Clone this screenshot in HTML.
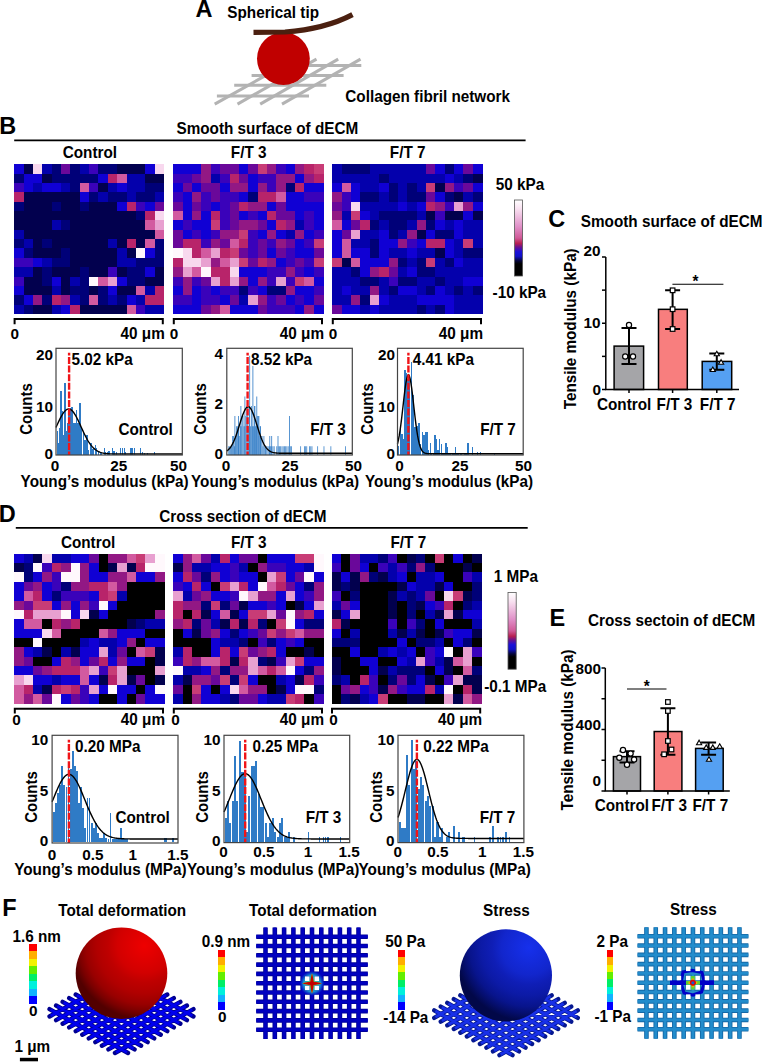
<!DOCTYPE html><html><head><meta charset="utf-8"><style>html,body{margin:0;padding:0;background:#fff;}body{width:762px;height:1062px;overflow:hidden;font-family:"Liberation Sans",sans-serif;}svg{display:block;}</style></head><body><svg width="762" height="1062" viewBox="0 0 762 1062" font-family="'Liberation Sans', sans-serif" font-weight="bold">
<rect width="762" height="1062" fill="#fff"/>
<text transform="translate(195.6,16.5) scale(1.0,1.02)" font-size="23.5" text-anchor="start" >A</text>
<text transform="translate(227.3,17.5) scale(1.02,1.045)" font-size="15" text-anchor="start" >Spherical tip</text>
<g stroke="#b3b3b3" stroke-width="3" stroke-linecap="butt">
<line x1="269" y1="65.6" x2="361.3" y2="65.6"/>
<line x1="251.6" y1="75.6" x2="343.6" y2="75.6"/>
<line x1="234.2" y1="85.3" x2="326.3" y2="85.3"/>
<line x1="216.9" y1="95.9" x2="309" y2="95.9"/>
<line x1="214.7" y1="104.1" x2="294.9" y2="59.1"/>
<line x1="237.5" y1="104.1" x2="316.5" y2="59.1"/>
<line x1="260.2" y1="104.1" x2="338.2" y2="59.1"/>
<line x1="282" y1="104.1" x2="360.5" y2="59.1"/>
</g>
<circle cx="283.4" cy="58.6" r="26.4" fill="#c00000"/>
<path d="M253.5 32.3 L285 32 Q325 29 352.5 14.6" fill="none" stroke="#4b2010" stroke-width="5.2"/>
<text transform="translate(345.3,101.9) scale(1.02,1.045)" font-size="15" text-anchor="start" >Collagen fibril network</text>
<text transform="translate(-0.8,133.7) scale(1.0,1.02)" font-size="23.5" text-anchor="start" >B</text>
<line x1="14.2" y1="140.4" x2="525.6" y2="140.4" stroke="#000" stroke-width="1.6"/>
<text transform="translate(176.5,134) scale(1.02,1.045)" font-size="15" text-anchor="start" >Smooth surface of dECM</text>
<text transform="translate(62.7,157.8) scale(1.02,1.045)" font-size="15" text-anchor="start" >Control</text>
<text transform="translate(230.8,157.8) scale(1.02,1.045)" font-size="15" text-anchor="start" >F/T 3</text>
<text transform="translate(389.8,157.8) scale(1.02,1.045)" font-size="15" text-anchor="start" >F/T 7</text>
<g shape-rendering="crispEdges">
<rect x="14.20" y="164.20" width="9.76" height="9.76" fill="#1000d4"/>
<rect x="23.56" y="164.20" width="9.76" height="9.76" fill="#02004e"/>
<rect x="32.92" y="164.20" width="9.76" height="9.76" fill="#f8d8ee"/>
<rect x="42.29" y="164.20" width="9.76" height="9.76" fill="#0400ac"/>
<rect x="51.65" y="164.20" width="9.76" height="9.76" fill="#000078"/>
<rect x="61.01" y="164.20" width="9.76" height="9.76" fill="#6a089a"/>
<rect x="70.38" y="164.20" width="9.76" height="9.76" fill="#000078"/>
<rect x="79.74" y="164.20" width="9.76" height="9.76" fill="#0400ac"/>
<rect x="89.10" y="164.20" width="9.76" height="9.76" fill="#3a02ba"/>
<rect x="98.46" y="164.20" width="9.76" height="9.76" fill="#000078"/>
<rect x="107.83" y="164.20" width="9.76" height="9.76" fill="#000078"/>
<rect x="117.19" y="164.20" width="9.76" height="9.76" fill="#02004e"/>
<rect x="126.55" y="164.20" width="9.76" height="9.76" fill="#02004e"/>
<rect x="135.91" y="164.20" width="9.76" height="9.76" fill="#02004e"/>
<rect x="145.28" y="164.20" width="9.76" height="9.76" fill="#1000d4"/>
<rect x="154.64" y="164.20" width="9.76" height="9.76" fill="#f8d8ee"/>
<rect x="14.20" y="173.56" width="9.76" height="9.76" fill="#000078"/>
<rect x="23.56" y="173.56" width="9.76" height="9.76" fill="#1000d4"/>
<rect x="32.92" y="173.56" width="9.76" height="9.76" fill="#1000d4"/>
<rect x="42.29" y="173.56" width="9.76" height="9.76" fill="#02004e"/>
<rect x="51.65" y="173.56" width="9.76" height="9.76" fill="#000078"/>
<rect x="61.01" y="173.56" width="9.76" height="9.76" fill="#000078"/>
<rect x="70.38" y="173.56" width="9.76" height="9.76" fill="#000078"/>
<rect x="79.74" y="173.56" width="9.76" height="9.76" fill="#000078"/>
<rect x="89.10" y="173.56" width="9.76" height="9.76" fill="#000078"/>
<rect x="98.46" y="173.56" width="9.76" height="9.76" fill="#1000d4"/>
<rect x="107.83" y="173.56" width="9.76" height="9.76" fill="#b8246a"/>
<rect x="117.19" y="173.56" width="9.76" height="9.76" fill="#d25aa0"/>
<rect x="126.55" y="173.56" width="9.76" height="9.76" fill="#0400ac"/>
<rect x="135.91" y="173.56" width="9.76" height="9.76" fill="#0400ac"/>
<rect x="145.28" y="173.56" width="9.76" height="9.76" fill="#02004e"/>
<rect x="154.64" y="173.56" width="9.76" height="9.76" fill="#02004e"/>
<rect x="14.20" y="182.92" width="9.76" height="9.76" fill="#3a02ba"/>
<rect x="23.56" y="182.92" width="9.76" height="9.76" fill="#1000d4"/>
<rect x="32.92" y="182.92" width="9.76" height="9.76" fill="#0400ac"/>
<rect x="42.29" y="182.92" width="9.76" height="9.76" fill="#1000d4"/>
<rect x="51.65" y="182.92" width="9.76" height="9.76" fill="#1000d4"/>
<rect x="61.01" y="182.92" width="9.76" height="9.76" fill="#0400ac"/>
<rect x="70.38" y="182.92" width="9.76" height="9.76" fill="#000078"/>
<rect x="79.74" y="182.92" width="9.76" height="9.76" fill="#d25aa0"/>
<rect x="89.10" y="182.92" width="9.76" height="9.76" fill="#3a02ba"/>
<rect x="98.46" y="182.92" width="9.76" height="9.76" fill="#02004e"/>
<rect x="107.83" y="182.92" width="9.76" height="9.76" fill="#0400ac"/>
<rect x="117.19" y="182.92" width="9.76" height="9.76" fill="#1000d4"/>
<rect x="126.55" y="182.92" width="9.76" height="9.76" fill="#0400ac"/>
<rect x="135.91" y="182.92" width="9.76" height="9.76" fill="#0400ac"/>
<rect x="145.28" y="182.92" width="9.76" height="9.76" fill="#000078"/>
<rect x="154.64" y="182.92" width="9.76" height="9.76" fill="#000078"/>
<rect x="14.20" y="192.29" width="9.76" height="9.76" fill="#b8246a"/>
<rect x="23.56" y="192.29" width="9.76" height="9.76" fill="#02004e"/>
<rect x="32.92" y="192.29" width="9.76" height="9.76" fill="#02004e"/>
<rect x="42.29" y="192.29" width="9.76" height="9.76" fill="#02004e"/>
<rect x="51.65" y="192.29" width="9.76" height="9.76" fill="#02004e"/>
<rect x="61.01" y="192.29" width="9.76" height="9.76" fill="#02004e"/>
<rect x="70.38" y="192.29" width="9.76" height="9.76" fill="#02004e"/>
<rect x="79.74" y="192.29" width="9.76" height="9.76" fill="#1000d4"/>
<rect x="89.10" y="192.29" width="9.76" height="9.76" fill="#000078"/>
<rect x="98.46" y="192.29" width="9.76" height="9.76" fill="#0400ac"/>
<rect x="107.83" y="192.29" width="9.76" height="9.76" fill="#000078"/>
<rect x="117.19" y="192.29" width="9.76" height="9.76" fill="#000078"/>
<rect x="126.55" y="192.29" width="9.76" height="9.76" fill="#0400ac"/>
<rect x="135.91" y="192.29" width="9.76" height="9.76" fill="#000078"/>
<rect x="145.28" y="192.29" width="9.76" height="9.76" fill="#000078"/>
<rect x="154.64" y="192.29" width="9.76" height="9.76" fill="#0400ac"/>
<rect x="14.20" y="201.65" width="9.76" height="9.76" fill="#000078"/>
<rect x="23.56" y="201.65" width="9.76" height="9.76" fill="#02004e"/>
<rect x="32.92" y="201.65" width="9.76" height="9.76" fill="#02004e"/>
<rect x="42.29" y="201.65" width="9.76" height="9.76" fill="#02004e"/>
<rect x="51.65" y="201.65" width="9.76" height="9.76" fill="#000078"/>
<rect x="61.01" y="201.65" width="9.76" height="9.76" fill="#02004e"/>
<rect x="70.38" y="201.65" width="9.76" height="9.76" fill="#02004e"/>
<rect x="79.74" y="201.65" width="9.76" height="9.76" fill="#000078"/>
<rect x="89.10" y="201.65" width="9.76" height="9.76" fill="#02004e"/>
<rect x="98.46" y="201.65" width="9.76" height="9.76" fill="#02004e"/>
<rect x="107.83" y="201.65" width="9.76" height="9.76" fill="#02004e"/>
<rect x="117.19" y="201.65" width="9.76" height="9.76" fill="#1000d4"/>
<rect x="126.55" y="201.65" width="9.76" height="9.76" fill="#b8246a"/>
<rect x="135.91" y="201.65" width="9.76" height="9.76" fill="#3a02ba"/>
<rect x="145.28" y="201.65" width="9.76" height="9.76" fill="#1000d4"/>
<rect x="154.64" y="201.65" width="9.76" height="9.76" fill="#6a089a"/>
<rect x="14.20" y="211.01" width="9.76" height="9.76" fill="#02004e"/>
<rect x="23.56" y="211.01" width="9.76" height="9.76" fill="#02004e"/>
<rect x="32.92" y="211.01" width="9.76" height="9.76" fill="#02004e"/>
<rect x="42.29" y="211.01" width="9.76" height="9.76" fill="#02004e"/>
<rect x="51.65" y="211.01" width="9.76" height="9.76" fill="#02004e"/>
<rect x="61.01" y="211.01" width="9.76" height="9.76" fill="#02004e"/>
<rect x="70.38" y="211.01" width="9.76" height="9.76" fill="#02004e"/>
<rect x="79.74" y="211.01" width="9.76" height="9.76" fill="#02004e"/>
<rect x="89.10" y="211.01" width="9.76" height="9.76" fill="#02004e"/>
<rect x="98.46" y="211.01" width="9.76" height="9.76" fill="#02004e"/>
<rect x="107.83" y="211.01" width="9.76" height="9.76" fill="#02004e"/>
<rect x="117.19" y="211.01" width="9.76" height="9.76" fill="#02004e"/>
<rect x="126.55" y="211.01" width="9.76" height="9.76" fill="#02004e"/>
<rect x="135.91" y="211.01" width="9.76" height="9.76" fill="#000078"/>
<rect x="145.28" y="211.01" width="9.76" height="9.76" fill="#b8246a"/>
<rect x="154.64" y="211.01" width="9.76" height="9.76" fill="#f8d8ee"/>
<rect x="14.20" y="220.38" width="9.76" height="9.76" fill="#02004e"/>
<rect x="23.56" y="220.38" width="9.76" height="9.76" fill="#02004e"/>
<rect x="32.92" y="220.38" width="9.76" height="9.76" fill="#02004e"/>
<rect x="42.29" y="220.38" width="9.76" height="9.76" fill="#02004e"/>
<rect x="51.65" y="220.38" width="9.76" height="9.76" fill="#0400ac"/>
<rect x="61.01" y="220.38" width="9.76" height="9.76" fill="#000078"/>
<rect x="70.38" y="220.38" width="9.76" height="9.76" fill="#02004e"/>
<rect x="79.74" y="220.38" width="9.76" height="9.76" fill="#02004e"/>
<rect x="89.10" y="220.38" width="9.76" height="9.76" fill="#02004e"/>
<rect x="98.46" y="220.38" width="9.76" height="9.76" fill="#02004e"/>
<rect x="107.83" y="220.38" width="9.76" height="9.76" fill="#02004e"/>
<rect x="117.19" y="220.38" width="9.76" height="9.76" fill="#02004e"/>
<rect x="126.55" y="220.38" width="9.76" height="9.76" fill="#02004e"/>
<rect x="135.91" y="220.38" width="9.76" height="9.76" fill="#02004e"/>
<rect x="145.28" y="220.38" width="9.76" height="9.76" fill="#d25aa0"/>
<rect x="154.64" y="220.38" width="9.76" height="9.76" fill="#e8a0d0"/>
<rect x="14.20" y="229.74" width="9.76" height="9.76" fill="#0400ac"/>
<rect x="23.56" y="229.74" width="9.76" height="9.76" fill="#02004e"/>
<rect x="32.92" y="229.74" width="9.76" height="9.76" fill="#02004e"/>
<rect x="42.29" y="229.74" width="9.76" height="9.76" fill="#02004e"/>
<rect x="51.65" y="229.74" width="9.76" height="9.76" fill="#02004e"/>
<rect x="61.01" y="229.74" width="9.76" height="9.76" fill="#02004e"/>
<rect x="70.38" y="229.74" width="9.76" height="9.76" fill="#02004e"/>
<rect x="79.74" y="229.74" width="9.76" height="9.76" fill="#02004e"/>
<rect x="89.10" y="229.74" width="9.76" height="9.76" fill="#02004e"/>
<rect x="98.46" y="229.74" width="9.76" height="9.76" fill="#02004e"/>
<rect x="107.83" y="229.74" width="9.76" height="9.76" fill="#02004e"/>
<rect x="117.19" y="229.74" width="9.76" height="9.76" fill="#02004e"/>
<rect x="126.55" y="229.74" width="9.76" height="9.76" fill="#02004e"/>
<rect x="135.91" y="229.74" width="9.76" height="9.76" fill="#02004e"/>
<rect x="145.28" y="229.74" width="9.76" height="9.76" fill="#02004e"/>
<rect x="154.64" y="229.74" width="9.76" height="9.76" fill="#d25aa0"/>
<rect x="14.20" y="239.10" width="9.76" height="9.76" fill="#000078"/>
<rect x="23.56" y="239.10" width="9.76" height="9.76" fill="#0400ac"/>
<rect x="32.92" y="239.10" width="9.76" height="9.76" fill="#02004e"/>
<rect x="42.29" y="239.10" width="9.76" height="9.76" fill="#000078"/>
<rect x="51.65" y="239.10" width="9.76" height="9.76" fill="#02004e"/>
<rect x="61.01" y="239.10" width="9.76" height="9.76" fill="#02004e"/>
<rect x="70.38" y="239.10" width="9.76" height="9.76" fill="#02004e"/>
<rect x="79.74" y="239.10" width="9.76" height="9.76" fill="#02004e"/>
<rect x="89.10" y="239.10" width="9.76" height="9.76" fill="#02004e"/>
<rect x="98.46" y="239.10" width="9.76" height="9.76" fill="#02004e"/>
<rect x="107.83" y="239.10" width="9.76" height="9.76" fill="#0400ac"/>
<rect x="117.19" y="239.10" width="9.76" height="9.76" fill="#02004e"/>
<rect x="126.55" y="239.10" width="9.76" height="9.76" fill="#b8246a"/>
<rect x="135.91" y="239.10" width="9.76" height="9.76" fill="#02004e"/>
<rect x="145.28" y="239.10" width="9.76" height="9.76" fill="#d25aa0"/>
<rect x="154.64" y="239.10" width="9.76" height="9.76" fill="#000078"/>
<rect x="14.20" y="248.46" width="9.76" height="9.76" fill="#1000d4"/>
<rect x="23.56" y="248.46" width="9.76" height="9.76" fill="#000078"/>
<rect x="32.92" y="248.46" width="9.76" height="9.76" fill="#02004e"/>
<rect x="42.29" y="248.46" width="9.76" height="9.76" fill="#02004e"/>
<rect x="51.65" y="248.46" width="9.76" height="9.76" fill="#02004e"/>
<rect x="61.01" y="248.46" width="9.76" height="9.76" fill="#000078"/>
<rect x="70.38" y="248.46" width="9.76" height="9.76" fill="#02004e"/>
<rect x="79.74" y="248.46" width="9.76" height="9.76" fill="#02004e"/>
<rect x="89.10" y="248.46" width="9.76" height="9.76" fill="#02004e"/>
<rect x="98.46" y="248.46" width="9.76" height="9.76" fill="#02004e"/>
<rect x="107.83" y="248.46" width="9.76" height="9.76" fill="#02004e"/>
<rect x="117.19" y="248.46" width="9.76" height="9.76" fill="#0400ac"/>
<rect x="126.55" y="248.46" width="9.76" height="9.76" fill="#02004e"/>
<rect x="135.91" y="248.46" width="9.76" height="9.76" fill="#fff8fc"/>
<rect x="145.28" y="248.46" width="9.76" height="9.76" fill="#1000d4"/>
<rect x="154.64" y="248.46" width="9.76" height="9.76" fill="#000078"/>
<rect x="14.20" y="257.82" width="9.76" height="9.76" fill="#3a02ba"/>
<rect x="23.56" y="257.82" width="9.76" height="9.76" fill="#3a02ba"/>
<rect x="32.92" y="257.82" width="9.76" height="9.76" fill="#1000d4"/>
<rect x="42.29" y="257.82" width="9.76" height="9.76" fill="#0400ac"/>
<rect x="51.65" y="257.82" width="9.76" height="9.76" fill="#000078"/>
<rect x="61.01" y="257.82" width="9.76" height="9.76" fill="#000078"/>
<rect x="70.38" y="257.82" width="9.76" height="9.76" fill="#02004e"/>
<rect x="79.74" y="257.82" width="9.76" height="9.76" fill="#02004e"/>
<rect x="89.10" y="257.82" width="9.76" height="9.76" fill="#02004e"/>
<rect x="98.46" y="257.82" width="9.76" height="9.76" fill="#02004e"/>
<rect x="107.83" y="257.82" width="9.76" height="9.76" fill="#02004e"/>
<rect x="117.19" y="257.82" width="9.76" height="9.76" fill="#0400ac"/>
<rect x="126.55" y="257.82" width="9.76" height="9.76" fill="#0400ac"/>
<rect x="135.91" y="257.82" width="9.76" height="9.76" fill="#000078"/>
<rect x="145.28" y="257.82" width="9.76" height="9.76" fill="#000078"/>
<rect x="154.64" y="257.82" width="9.76" height="9.76" fill="#000078"/>
<rect x="14.20" y="267.19" width="9.76" height="9.76" fill="#0400ac"/>
<rect x="23.56" y="267.19" width="9.76" height="9.76" fill="#0400ac"/>
<rect x="32.92" y="267.19" width="9.76" height="9.76" fill="#02004e"/>
<rect x="42.29" y="267.19" width="9.76" height="9.76" fill="#000078"/>
<rect x="51.65" y="267.19" width="9.76" height="9.76" fill="#02004e"/>
<rect x="61.01" y="267.19" width="9.76" height="9.76" fill="#02004e"/>
<rect x="70.38" y="267.19" width="9.76" height="9.76" fill="#02004e"/>
<rect x="79.74" y="267.19" width="9.76" height="9.76" fill="#000078"/>
<rect x="89.10" y="267.19" width="9.76" height="9.76" fill="#02004e"/>
<rect x="98.46" y="267.19" width="9.76" height="9.76" fill="#02004e"/>
<rect x="107.83" y="267.19" width="9.76" height="9.76" fill="#3a02ba"/>
<rect x="117.19" y="267.19" width="9.76" height="9.76" fill="#02004e"/>
<rect x="126.55" y="267.19" width="9.76" height="9.76" fill="#000078"/>
<rect x="135.91" y="267.19" width="9.76" height="9.76" fill="#000078"/>
<rect x="145.28" y="267.19" width="9.76" height="9.76" fill="#1000d4"/>
<rect x="154.64" y="267.19" width="9.76" height="9.76" fill="#02004e"/>
<rect x="14.20" y="276.55" width="9.76" height="9.76" fill="#3a02ba"/>
<rect x="23.56" y="276.55" width="9.76" height="9.76" fill="#02004e"/>
<rect x="32.92" y="276.55" width="9.76" height="9.76" fill="#02004e"/>
<rect x="42.29" y="276.55" width="9.76" height="9.76" fill="#000078"/>
<rect x="51.65" y="276.55" width="9.76" height="9.76" fill="#1000d4"/>
<rect x="61.01" y="276.55" width="9.76" height="9.76" fill="#02004e"/>
<rect x="70.38" y="276.55" width="9.76" height="9.76" fill="#0400ac"/>
<rect x="79.74" y="276.55" width="9.76" height="9.76" fill="#000078"/>
<rect x="89.10" y="276.55" width="9.76" height="9.76" fill="#fff8fc"/>
<rect x="98.46" y="276.55" width="9.76" height="9.76" fill="#d25aa0"/>
<rect x="107.83" y="276.55" width="9.76" height="9.76" fill="#e8a0d0"/>
<rect x="117.19" y="276.55" width="9.76" height="9.76" fill="#1000d4"/>
<rect x="126.55" y="276.55" width="9.76" height="9.76" fill="#000078"/>
<rect x="135.91" y="276.55" width="9.76" height="9.76" fill="#000078"/>
<rect x="145.28" y="276.55" width="9.76" height="9.76" fill="#02004e"/>
<rect x="154.64" y="276.55" width="9.76" height="9.76" fill="#02004e"/>
<rect x="14.20" y="285.91" width="9.76" height="9.76" fill="#1000d4"/>
<rect x="23.56" y="285.91" width="9.76" height="9.76" fill="#02004e"/>
<rect x="32.92" y="285.91" width="9.76" height="9.76" fill="#02004e"/>
<rect x="42.29" y="285.91" width="9.76" height="9.76" fill="#02004e"/>
<rect x="51.65" y="285.91" width="9.76" height="9.76" fill="#0400ac"/>
<rect x="61.01" y="285.91" width="9.76" height="9.76" fill="#02004e"/>
<rect x="70.38" y="285.91" width="9.76" height="9.76" fill="#000078"/>
<rect x="79.74" y="285.91" width="9.76" height="9.76" fill="#000078"/>
<rect x="89.10" y="285.91" width="9.76" height="9.76" fill="#02004e"/>
<rect x="98.46" y="285.91" width="9.76" height="9.76" fill="#000078"/>
<rect x="107.83" y="285.91" width="9.76" height="9.76" fill="#1000d4"/>
<rect x="117.19" y="285.91" width="9.76" height="9.76" fill="#02004e"/>
<rect x="126.55" y="285.91" width="9.76" height="9.76" fill="#02004e"/>
<rect x="135.91" y="285.91" width="9.76" height="9.76" fill="#d25aa0"/>
<rect x="145.28" y="285.91" width="9.76" height="9.76" fill="#0400ac"/>
<rect x="154.64" y="285.91" width="9.76" height="9.76" fill="#b8246a"/>
<rect x="14.20" y="295.27" width="9.76" height="9.76" fill="#000078"/>
<rect x="23.56" y="295.27" width="9.76" height="9.76" fill="#1000d4"/>
<rect x="32.92" y="295.27" width="9.76" height="9.76" fill="#921884"/>
<rect x="42.29" y="295.27" width="9.76" height="9.76" fill="#000078"/>
<rect x="51.65" y="295.27" width="9.76" height="9.76" fill="#b8246a"/>
<rect x="61.01" y="295.27" width="9.76" height="9.76" fill="#921884"/>
<rect x="70.38" y="295.27" width="9.76" height="9.76" fill="#0400ac"/>
<rect x="79.74" y="295.27" width="9.76" height="9.76" fill="#000078"/>
<rect x="89.10" y="295.27" width="9.76" height="9.76" fill="#d25aa0"/>
<rect x="98.46" y="295.27" width="9.76" height="9.76" fill="#000078"/>
<rect x="107.83" y="295.27" width="9.76" height="9.76" fill="#0400ac"/>
<rect x="117.19" y="295.27" width="9.76" height="9.76" fill="#000078"/>
<rect x="126.55" y="295.27" width="9.76" height="9.76" fill="#1000d4"/>
<rect x="135.91" y="295.27" width="9.76" height="9.76" fill="#0400ac"/>
<rect x="145.28" y="295.27" width="9.76" height="9.76" fill="#b8246a"/>
<rect x="154.64" y="295.27" width="9.76" height="9.76" fill="#b8246a"/>
<rect x="14.20" y="304.64" width="9.76" height="9.76" fill="#0400ac"/>
<rect x="23.56" y="304.64" width="9.76" height="9.76" fill="#000078"/>
<rect x="32.92" y="304.64" width="9.76" height="9.76" fill="#02004e"/>
<rect x="42.29" y="304.64" width="9.76" height="9.76" fill="#02004e"/>
<rect x="51.65" y="304.64" width="9.76" height="9.76" fill="#0400ac"/>
<rect x="61.01" y="304.64" width="9.76" height="9.76" fill="#1000d4"/>
<rect x="70.38" y="304.64" width="9.76" height="9.76" fill="#b8246a"/>
<rect x="79.74" y="304.64" width="9.76" height="9.76" fill="#02004e"/>
<rect x="89.10" y="304.64" width="9.76" height="9.76" fill="#02004e"/>
<rect x="98.46" y="304.64" width="9.76" height="9.76" fill="#02004e"/>
<rect x="107.83" y="304.64" width="9.76" height="9.76" fill="#02004e"/>
<rect x="117.19" y="304.64" width="9.76" height="9.76" fill="#02004e"/>
<rect x="126.55" y="304.64" width="9.76" height="9.76" fill="#d25aa0"/>
<rect x="135.91" y="304.64" width="9.76" height="9.76" fill="#3a02ba"/>
<rect x="145.28" y="304.64" width="9.76" height="9.76" fill="#0400ac"/>
<rect x="154.64" y="304.64" width="9.76" height="9.76" fill="#0400ac"/>
</g>
<g shape-rendering="crispEdges">
<rect x="173.40" y="164.20" width="9.76" height="9.76" fill="#1000d4"/>
<rect x="182.76" y="164.20" width="9.76" height="9.76" fill="#1000d4"/>
<rect x="192.12" y="164.20" width="9.76" height="9.76" fill="#1000d4"/>
<rect x="201.49" y="164.20" width="9.76" height="9.76" fill="#921884"/>
<rect x="210.85" y="164.20" width="9.76" height="9.76" fill="#3a02ba"/>
<rect x="220.21" y="164.20" width="9.76" height="9.76" fill="#6a089a"/>
<rect x="229.58" y="164.20" width="9.76" height="9.76" fill="#6a089a"/>
<rect x="238.94" y="164.20" width="9.76" height="9.76" fill="#1000d4"/>
<rect x="248.30" y="164.20" width="9.76" height="9.76" fill="#6a089a"/>
<rect x="257.66" y="164.20" width="9.76" height="9.76" fill="#c83c76"/>
<rect x="267.02" y="164.20" width="9.76" height="9.76" fill="#921884"/>
<rect x="276.39" y="164.20" width="9.76" height="9.76" fill="#3a02ba"/>
<rect x="285.75" y="164.20" width="9.76" height="9.76" fill="#1000d4"/>
<rect x="295.11" y="164.20" width="9.76" height="9.76" fill="#921884"/>
<rect x="304.48" y="164.20" width="9.76" height="9.76" fill="#b8246a"/>
<rect x="313.84" y="164.20" width="9.76" height="9.76" fill="#c83c76"/>
<rect x="173.40" y="173.56" width="9.76" height="9.76" fill="#3a02ba"/>
<rect x="182.76" y="173.56" width="9.76" height="9.76" fill="#3a02ba"/>
<rect x="192.12" y="173.56" width="9.76" height="9.76" fill="#6a089a"/>
<rect x="201.49" y="173.56" width="9.76" height="9.76" fill="#921884"/>
<rect x="210.85" y="173.56" width="9.76" height="9.76" fill="#0400ac"/>
<rect x="220.21" y="173.56" width="9.76" height="9.76" fill="#3a02ba"/>
<rect x="229.58" y="173.56" width="9.76" height="9.76" fill="#b8246a"/>
<rect x="238.94" y="173.56" width="9.76" height="9.76" fill="#6a089a"/>
<rect x="248.30" y="173.56" width="9.76" height="9.76" fill="#1000d4"/>
<rect x="257.66" y="173.56" width="9.76" height="9.76" fill="#3a02ba"/>
<rect x="267.02" y="173.56" width="9.76" height="9.76" fill="#3a02ba"/>
<rect x="276.39" y="173.56" width="9.76" height="9.76" fill="#921884"/>
<rect x="285.75" y="173.56" width="9.76" height="9.76" fill="#921884"/>
<rect x="295.11" y="173.56" width="9.76" height="9.76" fill="#1000d4"/>
<rect x="304.48" y="173.56" width="9.76" height="9.76" fill="#921884"/>
<rect x="313.84" y="173.56" width="9.76" height="9.76" fill="#b8246a"/>
<rect x="173.40" y="182.92" width="9.76" height="9.76" fill="#1000d4"/>
<rect x="182.76" y="182.92" width="9.76" height="9.76" fill="#6a089a"/>
<rect x="192.12" y="182.92" width="9.76" height="9.76" fill="#1000d4"/>
<rect x="201.49" y="182.92" width="9.76" height="9.76" fill="#6a089a"/>
<rect x="210.85" y="182.92" width="9.76" height="9.76" fill="#6a089a"/>
<rect x="220.21" y="182.92" width="9.76" height="9.76" fill="#1000d4"/>
<rect x="229.58" y="182.92" width="9.76" height="9.76" fill="#921884"/>
<rect x="238.94" y="182.92" width="9.76" height="9.76" fill="#921884"/>
<rect x="248.30" y="182.92" width="9.76" height="9.76" fill="#1000d4"/>
<rect x="257.66" y="182.92" width="9.76" height="9.76" fill="#921884"/>
<rect x="267.02" y="182.92" width="9.76" height="9.76" fill="#3a02ba"/>
<rect x="276.39" y="182.92" width="9.76" height="9.76" fill="#921884"/>
<rect x="285.75" y="182.92" width="9.76" height="9.76" fill="#000078"/>
<rect x="295.11" y="182.92" width="9.76" height="9.76" fill="#b8246a"/>
<rect x="304.48" y="182.92" width="9.76" height="9.76" fill="#1000d4"/>
<rect x="313.84" y="182.92" width="9.76" height="9.76" fill="#1000d4"/>
<rect x="173.40" y="192.29" width="9.76" height="9.76" fill="#3a02ba"/>
<rect x="182.76" y="192.29" width="9.76" height="9.76" fill="#1000d4"/>
<rect x="192.12" y="192.29" width="9.76" height="9.76" fill="#921884"/>
<rect x="201.49" y="192.29" width="9.76" height="9.76" fill="#3a02ba"/>
<rect x="210.85" y="192.29" width="9.76" height="9.76" fill="#6a089a"/>
<rect x="220.21" y="192.29" width="9.76" height="9.76" fill="#3a02ba"/>
<rect x="229.58" y="192.29" width="9.76" height="9.76" fill="#3a02ba"/>
<rect x="238.94" y="192.29" width="9.76" height="9.76" fill="#1000d4"/>
<rect x="248.30" y="192.29" width="9.76" height="9.76" fill="#000078"/>
<rect x="257.66" y="192.29" width="9.76" height="9.76" fill="#b8246a"/>
<rect x="267.02" y="192.29" width="9.76" height="9.76" fill="#b8246a"/>
<rect x="276.39" y="192.29" width="9.76" height="9.76" fill="#d25aa0"/>
<rect x="285.75" y="192.29" width="9.76" height="9.76" fill="#1000d4"/>
<rect x="295.11" y="192.29" width="9.76" height="9.76" fill="#1000d4"/>
<rect x="304.48" y="192.29" width="9.76" height="9.76" fill="#3a02ba"/>
<rect x="313.84" y="192.29" width="9.76" height="9.76" fill="#3a02ba"/>
<rect x="173.40" y="201.65" width="9.76" height="9.76" fill="#6a089a"/>
<rect x="182.76" y="201.65" width="9.76" height="9.76" fill="#1000d4"/>
<rect x="192.12" y="201.65" width="9.76" height="9.76" fill="#6a089a"/>
<rect x="201.49" y="201.65" width="9.76" height="9.76" fill="#3a02ba"/>
<rect x="210.85" y="201.65" width="9.76" height="9.76" fill="#1000d4"/>
<rect x="220.21" y="201.65" width="9.76" height="9.76" fill="#3a02ba"/>
<rect x="229.58" y="201.65" width="9.76" height="9.76" fill="#6a089a"/>
<rect x="238.94" y="201.65" width="9.76" height="9.76" fill="#b8246a"/>
<rect x="248.30" y="201.65" width="9.76" height="9.76" fill="#921884"/>
<rect x="257.66" y="201.65" width="9.76" height="9.76" fill="#921884"/>
<rect x="267.02" y="201.65" width="9.76" height="9.76" fill="#1000d4"/>
<rect x="276.39" y="201.65" width="9.76" height="9.76" fill="#6a089a"/>
<rect x="285.75" y="201.65" width="9.76" height="9.76" fill="#1000d4"/>
<rect x="295.11" y="201.65" width="9.76" height="9.76" fill="#1000d4"/>
<rect x="304.48" y="201.65" width="9.76" height="9.76" fill="#1000d4"/>
<rect x="313.84" y="201.65" width="9.76" height="9.76" fill="#1000d4"/>
<rect x="173.40" y="211.01" width="9.76" height="9.76" fill="#d25aa0"/>
<rect x="182.76" y="211.01" width="9.76" height="9.76" fill="#1000d4"/>
<rect x="192.12" y="211.01" width="9.76" height="9.76" fill="#921884"/>
<rect x="201.49" y="211.01" width="9.76" height="9.76" fill="#1000d4"/>
<rect x="210.85" y="211.01" width="9.76" height="9.76" fill="#b8246a"/>
<rect x="220.21" y="211.01" width="9.76" height="9.76" fill="#3a02ba"/>
<rect x="229.58" y="211.01" width="9.76" height="9.76" fill="#6a089a"/>
<rect x="238.94" y="211.01" width="9.76" height="9.76" fill="#1000d4"/>
<rect x="248.30" y="211.01" width="9.76" height="9.76" fill="#3a02ba"/>
<rect x="257.66" y="211.01" width="9.76" height="9.76" fill="#1000d4"/>
<rect x="267.02" y="211.01" width="9.76" height="9.76" fill="#b8246a"/>
<rect x="276.39" y="211.01" width="9.76" height="9.76" fill="#6a089a"/>
<rect x="285.75" y="211.01" width="9.76" height="9.76" fill="#6a089a"/>
<rect x="295.11" y="211.01" width="9.76" height="9.76" fill="#1000d4"/>
<rect x="304.48" y="211.01" width="9.76" height="9.76" fill="#3a02ba"/>
<rect x="313.84" y="211.01" width="9.76" height="9.76" fill="#1000d4"/>
<rect x="173.40" y="220.38" width="9.76" height="9.76" fill="#1000d4"/>
<rect x="182.76" y="220.38" width="9.76" height="9.76" fill="#3a02ba"/>
<rect x="192.12" y="220.38" width="9.76" height="9.76" fill="#1000d4"/>
<rect x="201.49" y="220.38" width="9.76" height="9.76" fill="#1000d4"/>
<rect x="210.85" y="220.38" width="9.76" height="9.76" fill="#c83c76"/>
<rect x="220.21" y="220.38" width="9.76" height="9.76" fill="#3a02ba"/>
<rect x="229.58" y="220.38" width="9.76" height="9.76" fill="#6a089a"/>
<rect x="238.94" y="220.38" width="9.76" height="9.76" fill="#921884"/>
<rect x="248.30" y="220.38" width="9.76" height="9.76" fill="#921884"/>
<rect x="257.66" y="220.38" width="9.76" height="9.76" fill="#6a089a"/>
<rect x="267.02" y="220.38" width="9.76" height="9.76" fill="#1000d4"/>
<rect x="276.39" y="220.38" width="9.76" height="9.76" fill="#b8246a"/>
<rect x="285.75" y="220.38" width="9.76" height="9.76" fill="#921884"/>
<rect x="295.11" y="220.38" width="9.76" height="9.76" fill="#0400ac"/>
<rect x="304.48" y="220.38" width="9.76" height="9.76" fill="#3a02ba"/>
<rect x="313.84" y="220.38" width="9.76" height="9.76" fill="#1000d4"/>
<rect x="173.40" y="229.74" width="9.76" height="9.76" fill="#6a089a"/>
<rect x="182.76" y="229.74" width="9.76" height="9.76" fill="#1000d4"/>
<rect x="192.12" y="229.74" width="9.76" height="9.76" fill="#3a02ba"/>
<rect x="201.49" y="229.74" width="9.76" height="9.76" fill="#1000d4"/>
<rect x="210.85" y="229.74" width="9.76" height="9.76" fill="#3a02ba"/>
<rect x="220.21" y="229.74" width="9.76" height="9.76" fill="#921884"/>
<rect x="229.58" y="229.74" width="9.76" height="9.76" fill="#921884"/>
<rect x="238.94" y="229.74" width="9.76" height="9.76" fill="#c83c76"/>
<rect x="248.30" y="229.74" width="9.76" height="9.76" fill="#3a02ba"/>
<rect x="257.66" y="229.74" width="9.76" height="9.76" fill="#1000d4"/>
<rect x="267.02" y="229.74" width="9.76" height="9.76" fill="#921884"/>
<rect x="276.39" y="229.74" width="9.76" height="9.76" fill="#1000d4"/>
<rect x="285.75" y="229.74" width="9.76" height="9.76" fill="#0400ac"/>
<rect x="295.11" y="229.74" width="9.76" height="9.76" fill="#921884"/>
<rect x="304.48" y="229.74" width="9.76" height="9.76" fill="#1000d4"/>
<rect x="313.84" y="229.74" width="9.76" height="9.76" fill="#3a02ba"/>
<rect x="173.40" y="239.10" width="9.76" height="9.76" fill="#6a089a"/>
<rect x="182.76" y="239.10" width="9.76" height="9.76" fill="#b8246a"/>
<rect x="192.12" y="239.10" width="9.76" height="9.76" fill="#b8246a"/>
<rect x="201.49" y="239.10" width="9.76" height="9.76" fill="#3a02ba"/>
<rect x="210.85" y="239.10" width="9.76" height="9.76" fill="#921884"/>
<rect x="220.21" y="239.10" width="9.76" height="9.76" fill="#6a089a"/>
<rect x="229.58" y="239.10" width="9.76" height="9.76" fill="#d25aa0"/>
<rect x="238.94" y="239.10" width="9.76" height="9.76" fill="#b8246a"/>
<rect x="248.30" y="239.10" width="9.76" height="9.76" fill="#3a02ba"/>
<rect x="257.66" y="239.10" width="9.76" height="9.76" fill="#6a089a"/>
<rect x="267.02" y="239.10" width="9.76" height="9.76" fill="#3a02ba"/>
<rect x="276.39" y="239.10" width="9.76" height="9.76" fill="#921884"/>
<rect x="285.75" y="239.10" width="9.76" height="9.76" fill="#6a089a"/>
<rect x="295.11" y="239.10" width="9.76" height="9.76" fill="#1000d4"/>
<rect x="304.48" y="239.10" width="9.76" height="9.76" fill="#3a02ba"/>
<rect x="313.84" y="239.10" width="9.76" height="9.76" fill="#c83c76"/>
<rect x="173.40" y="248.46" width="9.76" height="9.76" fill="#fff8fc"/>
<rect x="182.76" y="248.46" width="9.76" height="9.76" fill="#f8d8ee"/>
<rect x="192.12" y="248.46" width="9.76" height="9.76" fill="#b8246a"/>
<rect x="201.49" y="248.46" width="9.76" height="9.76" fill="#d25aa0"/>
<rect x="210.85" y="248.46" width="9.76" height="9.76" fill="#e8a0d0"/>
<rect x="220.21" y="248.46" width="9.76" height="9.76" fill="#b8246a"/>
<rect x="229.58" y="248.46" width="9.76" height="9.76" fill="#c83c76"/>
<rect x="238.94" y="248.46" width="9.76" height="9.76" fill="#6a089a"/>
<rect x="248.30" y="248.46" width="9.76" height="9.76" fill="#3a02ba"/>
<rect x="257.66" y="248.46" width="9.76" height="9.76" fill="#6a089a"/>
<rect x="267.02" y="248.46" width="9.76" height="9.76" fill="#1000d4"/>
<rect x="276.39" y="248.46" width="9.76" height="9.76" fill="#6a089a"/>
<rect x="285.75" y="248.46" width="9.76" height="9.76" fill="#3a02ba"/>
<rect x="295.11" y="248.46" width="9.76" height="9.76" fill="#1000d4"/>
<rect x="304.48" y="248.46" width="9.76" height="9.76" fill="#1000d4"/>
<rect x="313.84" y="248.46" width="9.76" height="9.76" fill="#6a089a"/>
<rect x="173.40" y="257.82" width="9.76" height="9.76" fill="#b8246a"/>
<rect x="182.76" y="257.82" width="9.76" height="9.76" fill="#f8d8ee"/>
<rect x="192.12" y="257.82" width="9.76" height="9.76" fill="#f8d8ee"/>
<rect x="201.49" y="257.82" width="9.76" height="9.76" fill="#e8a0d0"/>
<rect x="210.85" y="257.82" width="9.76" height="9.76" fill="#921884"/>
<rect x="220.21" y="257.82" width="9.76" height="9.76" fill="#d25aa0"/>
<rect x="229.58" y="257.82" width="9.76" height="9.76" fill="#e8a0d0"/>
<rect x="238.94" y="257.82" width="9.76" height="9.76" fill="#c83c76"/>
<rect x="248.30" y="257.82" width="9.76" height="9.76" fill="#6a089a"/>
<rect x="257.66" y="257.82" width="9.76" height="9.76" fill="#b8246a"/>
<rect x="267.02" y="257.82" width="9.76" height="9.76" fill="#921884"/>
<rect x="276.39" y="257.82" width="9.76" height="9.76" fill="#1000d4"/>
<rect x="285.75" y="257.82" width="9.76" height="9.76" fill="#3a02ba"/>
<rect x="295.11" y="257.82" width="9.76" height="9.76" fill="#6a089a"/>
<rect x="304.48" y="257.82" width="9.76" height="9.76" fill="#3a02ba"/>
<rect x="313.84" y="257.82" width="9.76" height="9.76" fill="#c83c76"/>
<rect x="173.40" y="267.19" width="9.76" height="9.76" fill="#921884"/>
<rect x="182.76" y="267.19" width="9.76" height="9.76" fill="#e8a0d0"/>
<rect x="192.12" y="267.19" width="9.76" height="9.76" fill="#d25aa0"/>
<rect x="201.49" y="267.19" width="9.76" height="9.76" fill="#fff8fc"/>
<rect x="210.85" y="267.19" width="9.76" height="9.76" fill="#b8246a"/>
<rect x="220.21" y="267.19" width="9.76" height="9.76" fill="#b8246a"/>
<rect x="229.58" y="267.19" width="9.76" height="9.76" fill="#f8d8ee"/>
<rect x="238.94" y="267.19" width="9.76" height="9.76" fill="#1000d4"/>
<rect x="248.30" y="267.19" width="9.76" height="9.76" fill="#1000d4"/>
<rect x="257.66" y="267.19" width="9.76" height="9.76" fill="#1000d4"/>
<rect x="267.02" y="267.19" width="9.76" height="9.76" fill="#3a02ba"/>
<rect x="276.39" y="267.19" width="9.76" height="9.76" fill="#3a02ba"/>
<rect x="285.75" y="267.19" width="9.76" height="9.76" fill="#921884"/>
<rect x="295.11" y="267.19" width="9.76" height="9.76" fill="#3a02ba"/>
<rect x="304.48" y="267.19" width="9.76" height="9.76" fill="#1000d4"/>
<rect x="313.84" y="267.19" width="9.76" height="9.76" fill="#3a02ba"/>
<rect x="173.40" y="276.55" width="9.76" height="9.76" fill="#3a02ba"/>
<rect x="182.76" y="276.55" width="9.76" height="9.76" fill="#921884"/>
<rect x="192.12" y="276.55" width="9.76" height="9.76" fill="#3a02ba"/>
<rect x="201.49" y="276.55" width="9.76" height="9.76" fill="#6a089a"/>
<rect x="210.85" y="276.55" width="9.76" height="9.76" fill="#e8a0d0"/>
<rect x="220.21" y="276.55" width="9.76" height="9.76" fill="#b8246a"/>
<rect x="229.58" y="276.55" width="9.76" height="9.76" fill="#e8a0d0"/>
<rect x="238.94" y="276.55" width="9.76" height="9.76" fill="#921884"/>
<rect x="248.30" y="276.55" width="9.76" height="9.76" fill="#1000d4"/>
<rect x="257.66" y="276.55" width="9.76" height="9.76" fill="#921884"/>
<rect x="267.02" y="276.55" width="9.76" height="9.76" fill="#3a02ba"/>
<rect x="276.39" y="276.55" width="9.76" height="9.76" fill="#e8a0d0"/>
<rect x="285.75" y="276.55" width="9.76" height="9.76" fill="#3a02ba"/>
<rect x="295.11" y="276.55" width="9.76" height="9.76" fill="#c83c76"/>
<rect x="304.48" y="276.55" width="9.76" height="9.76" fill="#d25aa0"/>
<rect x="313.84" y="276.55" width="9.76" height="9.76" fill="#1000d4"/>
<rect x="173.40" y="285.91" width="9.76" height="9.76" fill="#1000d4"/>
<rect x="182.76" y="285.91" width="9.76" height="9.76" fill="#921884"/>
<rect x="192.12" y="285.91" width="9.76" height="9.76" fill="#1000d4"/>
<rect x="201.49" y="285.91" width="9.76" height="9.76" fill="#3a02ba"/>
<rect x="210.85" y="285.91" width="9.76" height="9.76" fill="#1000d4"/>
<rect x="220.21" y="285.91" width="9.76" height="9.76" fill="#3a02ba"/>
<rect x="229.58" y="285.91" width="9.76" height="9.76" fill="#3a02ba"/>
<rect x="238.94" y="285.91" width="9.76" height="9.76" fill="#000078"/>
<rect x="248.30" y="285.91" width="9.76" height="9.76" fill="#3a02ba"/>
<rect x="257.66" y="285.91" width="9.76" height="9.76" fill="#1000d4"/>
<rect x="267.02" y="285.91" width="9.76" height="9.76" fill="#000078"/>
<rect x="276.39" y="285.91" width="9.76" height="9.76" fill="#000078"/>
<rect x="285.75" y="285.91" width="9.76" height="9.76" fill="#921884"/>
<rect x="295.11" y="285.91" width="9.76" height="9.76" fill="#1000d4"/>
<rect x="304.48" y="285.91" width="9.76" height="9.76" fill="#1000d4"/>
<rect x="313.84" y="285.91" width="9.76" height="9.76" fill="#3a02ba"/>
<rect x="173.40" y="295.27" width="9.76" height="9.76" fill="#3a02ba"/>
<rect x="182.76" y="295.27" width="9.76" height="9.76" fill="#3a02ba"/>
<rect x="192.12" y="295.27" width="9.76" height="9.76" fill="#1000d4"/>
<rect x="201.49" y="295.27" width="9.76" height="9.76" fill="#3a02ba"/>
<rect x="210.85" y="295.27" width="9.76" height="9.76" fill="#3a02ba"/>
<rect x="220.21" y="295.27" width="9.76" height="9.76" fill="#1000d4"/>
<rect x="229.58" y="295.27" width="9.76" height="9.76" fill="#6a089a"/>
<rect x="238.94" y="295.27" width="9.76" height="9.76" fill="#0400ac"/>
<rect x="248.30" y="295.27" width="9.76" height="9.76" fill="#e8a0d0"/>
<rect x="257.66" y="295.27" width="9.76" height="9.76" fill="#921884"/>
<rect x="267.02" y="295.27" width="9.76" height="9.76" fill="#3a02ba"/>
<rect x="276.39" y="295.27" width="9.76" height="9.76" fill="#6a089a"/>
<rect x="285.75" y="295.27" width="9.76" height="9.76" fill="#1000d4"/>
<rect x="295.11" y="295.27" width="9.76" height="9.76" fill="#3a02ba"/>
<rect x="304.48" y="295.27" width="9.76" height="9.76" fill="#1000d4"/>
<rect x="313.84" y="295.27" width="9.76" height="9.76" fill="#6a089a"/>
<rect x="173.40" y="304.64" width="9.76" height="9.76" fill="#1000d4"/>
<rect x="182.76" y="304.64" width="9.76" height="9.76" fill="#1000d4"/>
<rect x="192.12" y="304.64" width="9.76" height="9.76" fill="#1000d4"/>
<rect x="201.49" y="304.64" width="9.76" height="9.76" fill="#6a089a"/>
<rect x="210.85" y="304.64" width="9.76" height="9.76" fill="#921884"/>
<rect x="220.21" y="304.64" width="9.76" height="9.76" fill="#d25aa0"/>
<rect x="229.58" y="304.64" width="9.76" height="9.76" fill="#1000d4"/>
<rect x="238.94" y="304.64" width="9.76" height="9.76" fill="#1000d4"/>
<rect x="248.30" y="304.64" width="9.76" height="9.76" fill="#1000d4"/>
<rect x="257.66" y="304.64" width="9.76" height="9.76" fill="#6a089a"/>
<rect x="267.02" y="304.64" width="9.76" height="9.76" fill="#3a02ba"/>
<rect x="276.39" y="304.64" width="9.76" height="9.76" fill="#3a02ba"/>
<rect x="285.75" y="304.64" width="9.76" height="9.76" fill="#3a02ba"/>
<rect x="295.11" y="304.64" width="9.76" height="9.76" fill="#1000d4"/>
<rect x="304.48" y="304.64" width="9.76" height="9.76" fill="#921884"/>
<rect x="313.84" y="304.64" width="9.76" height="9.76" fill="#1000d4"/>
</g>
<g shape-rendering="crispEdges">
<rect x="332.40" y="164.20" width="9.76" height="9.76" fill="#0400ac"/>
<rect x="341.76" y="164.20" width="9.76" height="9.76" fill="#000078"/>
<rect x="351.12" y="164.20" width="9.76" height="9.76" fill="#000078"/>
<rect x="360.49" y="164.20" width="9.76" height="9.76" fill="#000078"/>
<rect x="369.85" y="164.20" width="9.76" height="9.76" fill="#0400ac"/>
<rect x="379.21" y="164.20" width="9.76" height="9.76" fill="#0400ac"/>
<rect x="388.57" y="164.20" width="9.76" height="9.76" fill="#0400ac"/>
<rect x="397.94" y="164.20" width="9.76" height="9.76" fill="#0400ac"/>
<rect x="407.30" y="164.20" width="9.76" height="9.76" fill="#0400ac"/>
<rect x="416.66" y="164.20" width="9.76" height="9.76" fill="#0400ac"/>
<rect x="426.02" y="164.20" width="9.76" height="9.76" fill="#6a089a"/>
<rect x="435.39" y="164.20" width="9.76" height="9.76" fill="#1000d4"/>
<rect x="444.75" y="164.20" width="9.76" height="9.76" fill="#000078"/>
<rect x="454.11" y="164.20" width="9.76" height="9.76" fill="#1000d4"/>
<rect x="463.48" y="164.20" width="9.76" height="9.76" fill="#6a089a"/>
<rect x="472.84" y="164.20" width="9.76" height="9.76" fill="#1000d4"/>
<rect x="332.40" y="173.56" width="9.76" height="9.76" fill="#0400ac"/>
<rect x="341.76" y="173.56" width="9.76" height="9.76" fill="#0400ac"/>
<rect x="351.12" y="173.56" width="9.76" height="9.76" fill="#0400ac"/>
<rect x="360.49" y="173.56" width="9.76" height="9.76" fill="#0400ac"/>
<rect x="369.85" y="173.56" width="9.76" height="9.76" fill="#0400ac"/>
<rect x="379.21" y="173.56" width="9.76" height="9.76" fill="#000078"/>
<rect x="388.57" y="173.56" width="9.76" height="9.76" fill="#0400ac"/>
<rect x="397.94" y="173.56" width="9.76" height="9.76" fill="#0400ac"/>
<rect x="407.30" y="173.56" width="9.76" height="9.76" fill="#0400ac"/>
<rect x="416.66" y="173.56" width="9.76" height="9.76" fill="#0400ac"/>
<rect x="426.02" y="173.56" width="9.76" height="9.76" fill="#0400ac"/>
<rect x="435.39" y="173.56" width="9.76" height="9.76" fill="#0400ac"/>
<rect x="444.75" y="173.56" width="9.76" height="9.76" fill="#1000d4"/>
<rect x="454.11" y="173.56" width="9.76" height="9.76" fill="#0400ac"/>
<rect x="463.48" y="173.56" width="9.76" height="9.76" fill="#000078"/>
<rect x="472.84" y="173.56" width="9.76" height="9.76" fill="#02004e"/>
<rect x="332.40" y="182.92" width="9.76" height="9.76" fill="#1000d4"/>
<rect x="341.76" y="182.92" width="9.76" height="9.76" fill="#d25aa0"/>
<rect x="351.12" y="182.92" width="9.76" height="9.76" fill="#1000d4"/>
<rect x="360.49" y="182.92" width="9.76" height="9.76" fill="#0400ac"/>
<rect x="369.85" y="182.92" width="9.76" height="9.76" fill="#0400ac"/>
<rect x="379.21" y="182.92" width="9.76" height="9.76" fill="#1000d4"/>
<rect x="388.57" y="182.92" width="9.76" height="9.76" fill="#000078"/>
<rect x="397.94" y="182.92" width="9.76" height="9.76" fill="#0400ac"/>
<rect x="407.30" y="182.92" width="9.76" height="9.76" fill="#000078"/>
<rect x="416.66" y="182.92" width="9.76" height="9.76" fill="#0400ac"/>
<rect x="426.02" y="182.92" width="9.76" height="9.76" fill="#c83c76"/>
<rect x="435.39" y="182.92" width="9.76" height="9.76" fill="#02004e"/>
<rect x="444.75" y="182.92" width="9.76" height="9.76" fill="#921884"/>
<rect x="454.11" y="182.92" width="9.76" height="9.76" fill="#3a02ba"/>
<rect x="463.48" y="182.92" width="9.76" height="9.76" fill="#6a089a"/>
<rect x="472.84" y="182.92" width="9.76" height="9.76" fill="#1000d4"/>
<rect x="332.40" y="192.29" width="9.76" height="9.76" fill="#921884"/>
<rect x="341.76" y="192.29" width="9.76" height="9.76" fill="#3a02ba"/>
<rect x="351.12" y="192.29" width="9.76" height="9.76" fill="#1000d4"/>
<rect x="360.49" y="192.29" width="9.76" height="9.76" fill="#000078"/>
<rect x="369.85" y="192.29" width="9.76" height="9.76" fill="#000078"/>
<rect x="379.21" y="192.29" width="9.76" height="9.76" fill="#0400ac"/>
<rect x="388.57" y="192.29" width="9.76" height="9.76" fill="#000078"/>
<rect x="397.94" y="192.29" width="9.76" height="9.76" fill="#0400ac"/>
<rect x="407.30" y="192.29" width="9.76" height="9.76" fill="#000078"/>
<rect x="416.66" y="192.29" width="9.76" height="9.76" fill="#000078"/>
<rect x="426.02" y="192.29" width="9.76" height="9.76" fill="#6a089a"/>
<rect x="435.39" y="192.29" width="9.76" height="9.76" fill="#1000d4"/>
<rect x="444.75" y="192.29" width="9.76" height="9.76" fill="#000078"/>
<rect x="454.11" y="192.29" width="9.76" height="9.76" fill="#02004e"/>
<rect x="463.48" y="192.29" width="9.76" height="9.76" fill="#0400ac"/>
<rect x="472.84" y="192.29" width="9.76" height="9.76" fill="#000078"/>
<rect x="332.40" y="201.65" width="9.76" height="9.76" fill="#6a089a"/>
<rect x="341.76" y="201.65" width="9.76" height="9.76" fill="#3a02ba"/>
<rect x="351.12" y="201.65" width="9.76" height="9.76" fill="#f8d8ee"/>
<rect x="360.49" y="201.65" width="9.76" height="9.76" fill="#0400ac"/>
<rect x="369.85" y="201.65" width="9.76" height="9.76" fill="#0400ac"/>
<rect x="379.21" y="201.65" width="9.76" height="9.76" fill="#0400ac"/>
<rect x="388.57" y="201.65" width="9.76" height="9.76" fill="#0400ac"/>
<rect x="397.94" y="201.65" width="9.76" height="9.76" fill="#1000d4"/>
<rect x="407.30" y="201.65" width="9.76" height="9.76" fill="#0400ac"/>
<rect x="416.66" y="201.65" width="9.76" height="9.76" fill="#1000d4"/>
<rect x="426.02" y="201.65" width="9.76" height="9.76" fill="#b8246a"/>
<rect x="435.39" y="201.65" width="9.76" height="9.76" fill="#921884"/>
<rect x="444.75" y="201.65" width="9.76" height="9.76" fill="#3a02ba"/>
<rect x="454.11" y="201.65" width="9.76" height="9.76" fill="#e8a0d0"/>
<rect x="463.48" y="201.65" width="9.76" height="9.76" fill="#921884"/>
<rect x="472.84" y="201.65" width="9.76" height="9.76" fill="#1000d4"/>
<rect x="332.40" y="211.01" width="9.76" height="9.76" fill="#921884"/>
<rect x="341.76" y="211.01" width="9.76" height="9.76" fill="#0400ac"/>
<rect x="351.12" y="211.01" width="9.76" height="9.76" fill="#c83c76"/>
<rect x="360.49" y="211.01" width="9.76" height="9.76" fill="#1000d4"/>
<rect x="369.85" y="211.01" width="9.76" height="9.76" fill="#0400ac"/>
<rect x="379.21" y="211.01" width="9.76" height="9.76" fill="#000078"/>
<rect x="388.57" y="211.01" width="9.76" height="9.76" fill="#000078"/>
<rect x="397.94" y="211.01" width="9.76" height="9.76" fill="#000078"/>
<rect x="407.30" y="211.01" width="9.76" height="9.76" fill="#000078"/>
<rect x="416.66" y="211.01" width="9.76" height="9.76" fill="#0400ac"/>
<rect x="426.02" y="211.01" width="9.76" height="9.76" fill="#02004e"/>
<rect x="435.39" y="211.01" width="9.76" height="9.76" fill="#3a02ba"/>
<rect x="444.75" y="211.01" width="9.76" height="9.76" fill="#02004e"/>
<rect x="454.11" y="211.01" width="9.76" height="9.76" fill="#02004e"/>
<rect x="463.48" y="211.01" width="9.76" height="9.76" fill="#1000d4"/>
<rect x="472.84" y="211.01" width="9.76" height="9.76" fill="#02004e"/>
<rect x="332.40" y="220.38" width="9.76" height="9.76" fill="#d25aa0"/>
<rect x="341.76" y="220.38" width="9.76" height="9.76" fill="#1000d4"/>
<rect x="351.12" y="220.38" width="9.76" height="9.76" fill="#6a089a"/>
<rect x="360.49" y="220.38" width="9.76" height="9.76" fill="#b8246a"/>
<rect x="369.85" y="220.38" width="9.76" height="9.76" fill="#000078"/>
<rect x="379.21" y="220.38" width="9.76" height="9.76" fill="#0400ac"/>
<rect x="388.57" y="220.38" width="9.76" height="9.76" fill="#000078"/>
<rect x="397.94" y="220.38" width="9.76" height="9.76" fill="#000078"/>
<rect x="407.30" y="220.38" width="9.76" height="9.76" fill="#0400ac"/>
<rect x="416.66" y="220.38" width="9.76" height="9.76" fill="#921884"/>
<rect x="426.02" y="220.38" width="9.76" height="9.76" fill="#000078"/>
<rect x="435.39" y="220.38" width="9.76" height="9.76" fill="#1000d4"/>
<rect x="444.75" y="220.38" width="9.76" height="9.76" fill="#0400ac"/>
<rect x="454.11" y="220.38" width="9.76" height="9.76" fill="#1000d4"/>
<rect x="463.48" y="220.38" width="9.76" height="9.76" fill="#0400ac"/>
<rect x="472.84" y="220.38" width="9.76" height="9.76" fill="#0400ac"/>
<rect x="332.40" y="229.74" width="9.76" height="9.76" fill="#1000d4"/>
<rect x="341.76" y="229.74" width="9.76" height="9.76" fill="#6a089a"/>
<rect x="351.12" y="229.74" width="9.76" height="9.76" fill="#e8a0d0"/>
<rect x="360.49" y="229.74" width="9.76" height="9.76" fill="#0400ac"/>
<rect x="369.85" y="229.74" width="9.76" height="9.76" fill="#0400ac"/>
<rect x="379.21" y="229.74" width="9.76" height="9.76" fill="#1000d4"/>
<rect x="388.57" y="229.74" width="9.76" height="9.76" fill="#000078"/>
<rect x="397.94" y="229.74" width="9.76" height="9.76" fill="#0400ac"/>
<rect x="407.30" y="229.74" width="9.76" height="9.76" fill="#921884"/>
<rect x="416.66" y="229.74" width="9.76" height="9.76" fill="#02004e"/>
<rect x="426.02" y="229.74" width="9.76" height="9.76" fill="#1000d4"/>
<rect x="435.39" y="229.74" width="9.76" height="9.76" fill="#000078"/>
<rect x="444.75" y="229.74" width="9.76" height="9.76" fill="#000078"/>
<rect x="454.11" y="229.74" width="9.76" height="9.76" fill="#1000d4"/>
<rect x="463.48" y="229.74" width="9.76" height="9.76" fill="#0400ac"/>
<rect x="472.84" y="229.74" width="9.76" height="9.76" fill="#0400ac"/>
<rect x="332.40" y="239.10" width="9.76" height="9.76" fill="#1000d4"/>
<rect x="341.76" y="239.10" width="9.76" height="9.76" fill="#d25aa0"/>
<rect x="351.12" y="239.10" width="9.76" height="9.76" fill="#0400ac"/>
<rect x="360.49" y="239.10" width="9.76" height="9.76" fill="#0400ac"/>
<rect x="369.85" y="239.10" width="9.76" height="9.76" fill="#000078"/>
<rect x="379.21" y="239.10" width="9.76" height="9.76" fill="#1000d4"/>
<rect x="388.57" y="239.10" width="9.76" height="9.76" fill="#1000d4"/>
<rect x="397.94" y="239.10" width="9.76" height="9.76" fill="#921884"/>
<rect x="407.30" y="239.10" width="9.76" height="9.76" fill="#3a02ba"/>
<rect x="416.66" y="239.10" width="9.76" height="9.76" fill="#1000d4"/>
<rect x="426.02" y="239.10" width="9.76" height="9.76" fill="#b8246a"/>
<rect x="435.39" y="239.10" width="9.76" height="9.76" fill="#b8246a"/>
<rect x="444.75" y="239.10" width="9.76" height="9.76" fill="#1000d4"/>
<rect x="454.11" y="239.10" width="9.76" height="9.76" fill="#0400ac"/>
<rect x="463.48" y="239.10" width="9.76" height="9.76" fill="#c83c76"/>
<rect x="472.84" y="239.10" width="9.76" height="9.76" fill="#0400ac"/>
<rect x="332.40" y="248.46" width="9.76" height="9.76" fill="#1000d4"/>
<rect x="341.76" y="248.46" width="9.76" height="9.76" fill="#d25aa0"/>
<rect x="351.12" y="248.46" width="9.76" height="9.76" fill="#1000d4"/>
<rect x="360.49" y="248.46" width="9.76" height="9.76" fill="#1000d4"/>
<rect x="369.85" y="248.46" width="9.76" height="9.76" fill="#000078"/>
<rect x="379.21" y="248.46" width="9.76" height="9.76" fill="#1000d4"/>
<rect x="388.57" y="248.46" width="9.76" height="9.76" fill="#0400ac"/>
<rect x="397.94" y="248.46" width="9.76" height="9.76" fill="#0400ac"/>
<rect x="407.30" y="248.46" width="9.76" height="9.76" fill="#1000d4"/>
<rect x="416.66" y="248.46" width="9.76" height="9.76" fill="#0400ac"/>
<rect x="426.02" y="248.46" width="9.76" height="9.76" fill="#0400ac"/>
<rect x="435.39" y="248.46" width="9.76" height="9.76" fill="#02004e"/>
<rect x="444.75" y="248.46" width="9.76" height="9.76" fill="#1000d4"/>
<rect x="454.11" y="248.46" width="9.76" height="9.76" fill="#0400ac"/>
<rect x="463.48" y="248.46" width="9.76" height="9.76" fill="#000078"/>
<rect x="472.84" y="248.46" width="9.76" height="9.76" fill="#000078"/>
<rect x="332.40" y="257.82" width="9.76" height="9.76" fill="#c83c76"/>
<rect x="341.76" y="257.82" width="9.76" height="9.76" fill="#02004e"/>
<rect x="351.12" y="257.82" width="9.76" height="9.76" fill="#d25aa0"/>
<rect x="360.49" y="257.82" width="9.76" height="9.76" fill="#1000d4"/>
<rect x="369.85" y="257.82" width="9.76" height="9.76" fill="#1000d4"/>
<rect x="379.21" y="257.82" width="9.76" height="9.76" fill="#1000d4"/>
<rect x="388.57" y="257.82" width="9.76" height="9.76" fill="#921884"/>
<rect x="397.94" y="257.82" width="9.76" height="9.76" fill="#000078"/>
<rect x="407.30" y="257.82" width="9.76" height="9.76" fill="#0400ac"/>
<rect x="416.66" y="257.82" width="9.76" height="9.76" fill="#000078"/>
<rect x="426.02" y="257.82" width="9.76" height="9.76" fill="#c83c76"/>
<rect x="435.39" y="257.82" width="9.76" height="9.76" fill="#0400ac"/>
<rect x="444.75" y="257.82" width="9.76" height="9.76" fill="#000078"/>
<rect x="454.11" y="257.82" width="9.76" height="9.76" fill="#1000d4"/>
<rect x="463.48" y="257.82" width="9.76" height="9.76" fill="#0400ac"/>
<rect x="472.84" y="257.82" width="9.76" height="9.76" fill="#0400ac"/>
<rect x="332.40" y="267.19" width="9.76" height="9.76" fill="#0400ac"/>
<rect x="341.76" y="267.19" width="9.76" height="9.76" fill="#0400ac"/>
<rect x="351.12" y="267.19" width="9.76" height="9.76" fill="#000078"/>
<rect x="360.49" y="267.19" width="9.76" height="9.76" fill="#1000d4"/>
<rect x="369.85" y="267.19" width="9.76" height="9.76" fill="#921884"/>
<rect x="379.21" y="267.19" width="9.76" height="9.76" fill="#b8246a"/>
<rect x="388.57" y="267.19" width="9.76" height="9.76" fill="#6a089a"/>
<rect x="397.94" y="267.19" width="9.76" height="9.76" fill="#0400ac"/>
<rect x="407.30" y="267.19" width="9.76" height="9.76" fill="#1000d4"/>
<rect x="416.66" y="267.19" width="9.76" height="9.76" fill="#000078"/>
<rect x="426.02" y="267.19" width="9.76" height="9.76" fill="#000078"/>
<rect x="435.39" y="267.19" width="9.76" height="9.76" fill="#0400ac"/>
<rect x="444.75" y="267.19" width="9.76" height="9.76" fill="#0400ac"/>
<rect x="454.11" y="267.19" width="9.76" height="9.76" fill="#0400ac"/>
<rect x="463.48" y="267.19" width="9.76" height="9.76" fill="#0400ac"/>
<rect x="472.84" y="267.19" width="9.76" height="9.76" fill="#0400ac"/>
<rect x="332.40" y="276.55" width="9.76" height="9.76" fill="#0400ac"/>
<rect x="341.76" y="276.55" width="9.76" height="9.76" fill="#0400ac"/>
<rect x="351.12" y="276.55" width="9.76" height="9.76" fill="#0400ac"/>
<rect x="360.49" y="276.55" width="9.76" height="9.76" fill="#000078"/>
<rect x="369.85" y="276.55" width="9.76" height="9.76" fill="#000078"/>
<rect x="379.21" y="276.55" width="9.76" height="9.76" fill="#0400ac"/>
<rect x="388.57" y="276.55" width="9.76" height="9.76" fill="#3a02ba"/>
<rect x="397.94" y="276.55" width="9.76" height="9.76" fill="#000078"/>
<rect x="407.30" y="276.55" width="9.76" height="9.76" fill="#000078"/>
<rect x="416.66" y="276.55" width="9.76" height="9.76" fill="#0400ac"/>
<rect x="426.02" y="276.55" width="9.76" height="9.76" fill="#0400ac"/>
<rect x="435.39" y="276.55" width="9.76" height="9.76" fill="#000078"/>
<rect x="444.75" y="276.55" width="9.76" height="9.76" fill="#0400ac"/>
<rect x="454.11" y="276.55" width="9.76" height="9.76" fill="#0400ac"/>
<rect x="463.48" y="276.55" width="9.76" height="9.76" fill="#1000d4"/>
<rect x="472.84" y="276.55" width="9.76" height="9.76" fill="#1000d4"/>
<rect x="332.40" y="285.91" width="9.76" height="9.76" fill="#0400ac"/>
<rect x="341.76" y="285.91" width="9.76" height="9.76" fill="#1000d4"/>
<rect x="351.12" y="285.91" width="9.76" height="9.76" fill="#0400ac"/>
<rect x="360.49" y="285.91" width="9.76" height="9.76" fill="#0400ac"/>
<rect x="369.85" y="285.91" width="9.76" height="9.76" fill="#921884"/>
<rect x="379.21" y="285.91" width="9.76" height="9.76" fill="#0400ac"/>
<rect x="388.57" y="285.91" width="9.76" height="9.76" fill="#000078"/>
<rect x="397.94" y="285.91" width="9.76" height="9.76" fill="#1000d4"/>
<rect x="407.30" y="285.91" width="9.76" height="9.76" fill="#1000d4"/>
<rect x="416.66" y="285.91" width="9.76" height="9.76" fill="#0400ac"/>
<rect x="426.02" y="285.91" width="9.76" height="9.76" fill="#000078"/>
<rect x="435.39" y="285.91" width="9.76" height="9.76" fill="#1000d4"/>
<rect x="444.75" y="285.91" width="9.76" height="9.76" fill="#0400ac"/>
<rect x="454.11" y="285.91" width="9.76" height="9.76" fill="#000078"/>
<rect x="463.48" y="285.91" width="9.76" height="9.76" fill="#0400ac"/>
<rect x="472.84" y="285.91" width="9.76" height="9.76" fill="#000078"/>
<rect x="332.40" y="295.27" width="9.76" height="9.76" fill="#0400ac"/>
<rect x="341.76" y="295.27" width="9.76" height="9.76" fill="#0400ac"/>
<rect x="351.12" y="295.27" width="9.76" height="9.76" fill="#921884"/>
<rect x="360.49" y="295.27" width="9.76" height="9.76" fill="#000078"/>
<rect x="369.85" y="295.27" width="9.76" height="9.76" fill="#e8a0d0"/>
<rect x="379.21" y="295.27" width="9.76" height="9.76" fill="#1000d4"/>
<rect x="388.57" y="295.27" width="9.76" height="9.76" fill="#0400ac"/>
<rect x="397.94" y="295.27" width="9.76" height="9.76" fill="#0400ac"/>
<rect x="407.30" y="295.27" width="9.76" height="9.76" fill="#0400ac"/>
<rect x="416.66" y="295.27" width="9.76" height="9.76" fill="#1000d4"/>
<rect x="426.02" y="295.27" width="9.76" height="9.76" fill="#1000d4"/>
<rect x="435.39" y="295.27" width="9.76" height="9.76" fill="#1000d4"/>
<rect x="444.75" y="295.27" width="9.76" height="9.76" fill="#1000d4"/>
<rect x="454.11" y="295.27" width="9.76" height="9.76" fill="#0400ac"/>
<rect x="463.48" y="295.27" width="9.76" height="9.76" fill="#0400ac"/>
<rect x="472.84" y="295.27" width="9.76" height="9.76" fill="#0400ac"/>
<rect x="332.40" y="304.64" width="9.76" height="9.76" fill="#6a089a"/>
<rect x="341.76" y="304.64" width="9.76" height="9.76" fill="#1000d4"/>
<rect x="351.12" y="304.64" width="9.76" height="9.76" fill="#1000d4"/>
<rect x="360.49" y="304.64" width="9.76" height="9.76" fill="#0400ac"/>
<rect x="369.85" y="304.64" width="9.76" height="9.76" fill="#1000d4"/>
<rect x="379.21" y="304.64" width="9.76" height="9.76" fill="#0400ac"/>
<rect x="388.57" y="304.64" width="9.76" height="9.76" fill="#0400ac"/>
<rect x="397.94" y="304.64" width="9.76" height="9.76" fill="#0400ac"/>
<rect x="407.30" y="304.64" width="9.76" height="9.76" fill="#0400ac"/>
<rect x="416.66" y="304.64" width="9.76" height="9.76" fill="#000078"/>
<rect x="426.02" y="304.64" width="9.76" height="9.76" fill="#0400ac"/>
<rect x="435.39" y="304.64" width="9.76" height="9.76" fill="#000078"/>
<rect x="444.75" y="304.64" width="9.76" height="9.76" fill="#1000d4"/>
<rect x="454.11" y="304.64" width="9.76" height="9.76" fill="#0400ac"/>
<rect x="463.48" y="304.64" width="9.76" height="9.76" fill="#0400ac"/>
<rect x="472.84" y="304.64" width="9.76" height="9.76" fill="#0400ac"/>
</g>
<path d="M14.6 324.29999999999995 V318.9 H162.79999999999998 V324.29999999999995" fill="none" stroke="#000" stroke-width="2"/>
<text transform="translate(14.7,338.8) scale(1.02,1.0)" font-size="15" text-anchor="middle" >0</text>
<text transform="translate(164.79999999999998,338.8) scale(1.02,1.045)" font-size="15" text-anchor="end" >40 μm</text>
<path d="M173.8 324.29999999999995 V318.9 H322.0 V324.29999999999995" fill="none" stroke="#000" stroke-width="2"/>
<text transform="translate(173.9,338.8) scale(1.02,1.0)" font-size="15" text-anchor="middle" >0</text>
<text transform="translate(324.0,338.8) scale(1.02,1.045)" font-size="15" text-anchor="end" >40 μm</text>
<path d="M332.79999999999995 324.29999999999995 V318.9 H481.0 V324.29999999999995" fill="none" stroke="#000" stroke-width="2"/>
<text transform="translate(332.9,338.8) scale(1.02,1.0)" font-size="15" text-anchor="middle" >0</text>
<text transform="translate(483.0,338.8) scale(1.02,1.045)" font-size="15" text-anchor="end" >40 μm</text>
<defs><linearGradient id="cb" x1="0" y1="0" x2="0" y2="1"><stop offset="0" stop-color="#ffffff"/><stop offset="0.12" stop-color="#f8e0f0"/><stop offset="0.35" stop-color="#e090c8"/><stop offset="0.5" stop-color="#d05a98"/><stop offset="0.57" stop-color="#b82050"/><stop offset="0.62" stop-color="#6a1090"/><stop offset="0.68" stop-color="#1a10d8"/><stop offset="0.74" stop-color="#1010c8"/><stop offset="0.8" stop-color="#05053a"/><stop offset="0.84" stop-color="#000"/><stop offset="1" stop-color="#000"/></linearGradient></defs>
<rect x="514.6" y="200" width="8" height="76" fill="url(#cb)" stroke="#555" stroke-width="0.8"/>
<text transform="translate(495.7,190.2) scale(1.02,1.045)" font-size="15" text-anchor="start" >50 kPa</text>
<text transform="translate(492.6,298.2) scale(1.02,1.045)" font-size="15" text-anchor="start" >-10 kPa</text>
<g shape-rendering="crispEdges">
<rect x="56.70" y="431.00" width="0.92" height="24.00" fill="#2f7bc6"/>
<rect x="57.70" y="443.00" width="0.83" height="12.00" fill="#2f7bc6"/>
<rect x="58.60" y="427.50" width="0.74" height="27.50" fill="#2f7bc6"/>
<rect x="59.40" y="427.50" width="0.74" height="27.50" fill="#2f7bc6"/>
<rect x="60.20" y="390.50" width="1.56" height="64.50" fill="#2f7bc6"/>
<rect x="61.90" y="410.50" width="1.01" height="44.50" fill="#2f7bc6"/>
<rect x="63.00" y="435.00" width="0.83" height="20.00" fill="#2f7bc6"/>
<rect x="63.90" y="382.50" width="1.93" height="72.50" fill="#2f7bc6"/>
<rect x="66.00" y="431.00" width="1.20" height="24.00" fill="#2f7bc6"/>
<rect x="67.30" y="423.00" width="0.92" height="32.00" fill="#2f7bc6"/>
<rect x="68.30" y="412.50" width="1.29" height="42.50" fill="#2f7bc6"/>
<rect x="69.70" y="408.00" width="1.20" height="47.00" fill="#2f7bc6"/>
<rect x="71.00" y="406.50" width="1.93" height="48.50" fill="#2f7bc6"/>
<rect x="73.10" y="423.00" width="2.67" height="32.00" fill="#2f7bc6"/>
<rect x="76.00" y="410.00" width="0.92" height="45.00" fill="#2f7bc6"/>
<rect x="77.00" y="423.00" width="1.75" height="32.00" fill="#2f7bc6"/>
<rect x="78.90" y="402.50" width="1.84" height="52.50" fill="#2f7bc6"/>
<rect x="80.90" y="428.00" width="1.56" height="27.00" fill="#2f7bc6"/>
<rect x="82.60" y="433.00" width="1.47" height="22.00" fill="#2f7bc6"/>
<rect x="84.20" y="439.50" width="1.93" height="15.50" fill="#2f7bc6"/>
<rect x="86.30" y="435.00" width="1.56" height="20.00" fill="#2f7bc6"/>
<rect x="88.00" y="450.00" width="1.47" height="5.00" fill="#2f7bc6"/>
<rect x="89.60" y="443.00" width="1.20" height="12.00" fill="#2f7bc6"/>
<rect x="90.90" y="443.00" width="1.10" height="12.00" fill="#2f7bc6"/>
<rect x="92.10" y="448.50" width="1.75" height="6.50" fill="#2f7bc6"/>
<rect x="94.90" y="444.50" width="1.10" height="10.50" fill="#2f7bc6"/>
<rect x="96.30" y="448.00" width="1.10" height="7.00" fill="#2f7bc6"/>
<rect x="97.60" y="450.50" width="1.10" height="4.50" fill="#2f7bc6"/>
<rect x="99.90" y="452.50" width="1.10" height="2.50" fill="#2f7bc6"/>
<rect x="101.30" y="452.50" width="1.10" height="2.50" fill="#2f7bc6"/>
<rect x="103.50" y="448.00" width="1.10" height="7.00" fill="#2f7bc6"/>
<rect x="104.70" y="452.00" width="1.10" height="3.00" fill="#2f7bc6"/>
<rect x="106.50" y="452.00" width="1.10" height="3.00" fill="#2f7bc6"/>
<rect x="108.40" y="450.50" width="1.10" height="4.50" fill="#2f7bc6"/>
<rect x="112.00" y="447.50" width="1.10" height="7.50" fill="#2f7bc6"/>
<rect x="113.40" y="450.50" width="1.10" height="4.50" fill="#2f7bc6"/>
<rect x="116.20" y="452.00" width="1.10" height="3.00" fill="#2f7bc6"/>
<rect x="120.30" y="447.50" width="1.10" height="7.50" fill="#2f7bc6"/>
<rect x="121.70" y="447.50" width="1.10" height="7.50" fill="#2f7bc6"/>
<rect x="123.50" y="448.00" width="1.10" height="7.00" fill="#2f7bc6"/>
<rect x="124.90" y="452.00" width="1.10" height="3.00" fill="#2f7bc6"/>
<rect x="130.40" y="447.50" width="1.10" height="7.50" fill="#2f7bc6"/>
<rect x="132.30" y="448.00" width="1.10" height="7.00" fill="#2f7bc6"/>
<rect x="134.10" y="447.50" width="1.10" height="7.50" fill="#2f7bc6"/>
<rect x="140.10" y="447.50" width="1.10" height="7.50" fill="#2f7bc6"/>
<rect x="141.90" y="452.00" width="1.10" height="3.00" fill="#2f7bc6"/>
<rect x="144.20" y="452.50" width="1.10" height="2.50" fill="#2f7bc6"/>
<rect x="147.00" y="452.50" width="1.10" height="2.50" fill="#2f7bc6"/>
<rect x="154.30" y="452.00" width="1.10" height="3.00" fill="#2f7bc6"/>
</g>
<polyline points="56.00,427.43 56.84,425.57 57.68,423.72 58.53,421.90 59.37,420.13 60.21,418.43 61.05,416.81 61.89,415.30 62.74,413.92 63.58,412.68 64.42,411.60 65.26,410.69 66.10,409.97 66.95,409.44 67.79,409.12 68.63,409.00 69.47,409.09 70.31,409.39 71.16,409.89 72.00,410.59 72.84,411.48 73.68,412.54 74.52,413.76 75.37,415.13 76.21,416.63 77.05,418.23 77.89,419.92 78.73,421.69 79.58,423.50 80.42,425.35 81.26,427.21 82.10,429.06 82.94,430.90 83.79,432.70 84.63,434.44 85.47,436.13 86.31,437.75 87.15,439.29 88.00,440.75 88.84,442.12 89.68,443.39 90.52,444.58 91.36,445.66 92.21,446.66 93.05,447.57 93.89,448.39 94.73,449.13 95.57,449.79 96.42,450.38 97.26,450.90 98.10,451.36 98.94,451.76 99.78,452.11 100.63,452.41 101.47,452.67 102.31,452.89 103.15,453.08 103.99,453.24 104.84,453.38 105.68,453.49 106.52,453.59 107.36,453.67 108.20,453.73 109.05,453.78 109.89,453.83 110.73,453.86 111.57,453.89 112.41,453.91 113.26,453.93 114.10,453.95 114.94,453.96 115.78,453.97 116.62,453.98 117.47,453.98 118.31,453.99 119.15,453.99 119.99,453.99 120.83,453.99 121.68,454.00 122.52,454.00 123.36,454.00 124.20,454.00 125.04,454.00 125.89,454.00 126.73,454.00 127.57,454.00 128.41,454.00 129.25,454.00 130.10,454.00 130.94,454.00 131.78,454.00 132.62,454.00 133.46,454.00 134.31,454.00 135.15,454.00 135.99,454.00 136.83,454.00 137.67,454.00 138.52,454.00 139.36,454.00 140.20,454.00 141.04,454.00 141.88,454.00 142.73,454.00 143.57,454.00 144.41,454.00 145.25,454.00 146.09,454.00 146.94,454.00 147.78,454.00 148.62,454.00 149.46,454.00 150.30,454.00 151.15,454.00 151.99,454.00 152.83,454.00 153.67,454.00 154.51,454.00 155.36,454.00 156.20,454.00 157.04,454.00 157.88,454.00 158.72,454.00 159.57,454.00 160.41,454.00 161.25,454.00 162.09,454.00 162.93,454.00 163.78,454.00 164.62,454.00 165.46,454.00 166.30,454.00 167.14,454.00 167.99,454.00 168.83,454.00 169.67,454.00 170.51,454.00 171.35,454.00 172.20,454.00 173.04,454.00 173.88,454.00 174.72,454.00 175.56,454.00 176.41,454.00 177.25,454.00 178.09,454.00 178.93,454.00 179.77,454.00 180.62,454.00 181.46,454.00 182.30,454.00" fill="none" stroke="#000" stroke-width="1.4"/>
<line x1="69.1" y1="352.8" x2="69.1" y2="455" stroke="#f01418" stroke-width="2.4" stroke-dasharray="2.8 1.4 7 1.6 7 1.6 7 1.6 7 1.6 7 1.6 7 1.6 7 1.6 7 1.6 7 1.6 7 1.6 7 1.6 7 1.6 7 1.6"/>
<rect x="56" y="348.3" width="126.30000000000001" height="106.69999999999999" fill="none" stroke="#444" stroke-width="1.2"/>
<text transform="translate(71.6,364.5) scale(1.02,1.045)" font-size="15" text-anchor="start" >5.02 kPa</text>
<text transform="translate(118.5,434.6) scale(1.02,1.045)" font-size="15" text-anchor="start" >Control</text>
<text transform="translate(53,359.8) scale(1.02,1.0)" font-size="15" text-anchor="end" >20</text>
<text transform="translate(53,411.6) scale(1.02,1.0)" font-size="15" text-anchor="end" >10</text>
<text transform="translate(53,459.4) scale(1.02,1.0)" font-size="15" text-anchor="end" >0</text>
<text transform="translate(55.0,471) scale(1.02,1.0)" font-size="15" text-anchor="middle" >0</text>
<text transform="translate(118.8,471) scale(1.02,1.0)" font-size="15" text-anchor="middle" >25</text>
<text transform="translate(178.6,471) scale(1.02,1.0)" font-size="15" text-anchor="middle" >50</text>
<text font-size="15" text-anchor="middle" transform="translate(32.3,409) rotate(-90) scale(1,1.045)">Counts</text>
<text transform="translate(20.6,487.2) scale(1.02,1.045)" font-size="15" text-anchor="start" >Young’s modulus (kPa)</text>
<g>
<rect x="228.40" y="446.25" width="0.75" height="8.75" fill="#2f7bc6"/>
<rect x="229.35" y="446.25" width="0.75" height="8.75" fill="#2f7bc6"/>
<rect x="230.30" y="446.25" width="0.75" height="8.75" fill="#2f7bc6"/>
<rect x="231.25" y="446.25" width="0.75" height="8.75" fill="#2f7bc6"/>
<rect x="232.20" y="436.00" width="0.75" height="19.00" fill="#2f7bc6"/>
<rect x="233.15" y="436.00" width="0.75" height="19.00" fill="#2f7bc6"/>
<rect x="234.10" y="446.25" width="0.75" height="8.75" fill="#2f7bc6"/>
<rect x="235.05" y="436.00" width="0.75" height="19.00" fill="#2f7bc6"/>
<rect x="236.00" y="426.25" width="0.75" height="28.75" fill="#2f7bc6"/>
<rect x="236.95" y="426.25" width="0.75" height="28.75" fill="#2f7bc6"/>
<rect x="237.90" y="426.25" width="0.75" height="28.75" fill="#2f7bc6"/>
<rect x="238.85" y="436.00" width="0.75" height="19.00" fill="#2f7bc6"/>
<rect x="239.80" y="426.25" width="0.75" height="28.75" fill="#2f7bc6"/>
<rect x="240.75" y="426.25" width="0.75" height="28.75" fill="#2f7bc6"/>
<rect x="241.70" y="416.00" width="0.75" height="39.00" fill="#2f7bc6"/>
<rect x="242.65" y="416.00" width="0.75" height="39.00" fill="#2f7bc6"/>
<rect x="243.60" y="426.25" width="0.75" height="28.75" fill="#2f7bc6"/>
<rect x="244.55" y="426.25" width="0.75" height="28.75" fill="#2f7bc6"/>
<rect x="245.50" y="416.00" width="0.75" height="39.00" fill="#2f7bc6"/>
<rect x="246.45" y="406.00" width="0.75" height="49.00" fill="#2f7bc6"/>
<rect x="247.40" y="406.00" width="0.75" height="49.00" fill="#2f7bc6"/>
<rect x="248.35" y="426.25" width="0.75" height="28.75" fill="#2f7bc6"/>
<rect x="249.30" y="406.00" width="0.75" height="49.00" fill="#2f7bc6"/>
<rect x="250.25" y="426.25" width="0.75" height="28.75" fill="#2f7bc6"/>
<rect x="251.20" y="406.00" width="0.75" height="49.00" fill="#2f7bc6"/>
<rect x="252.15" y="426.25" width="0.75" height="28.75" fill="#2f7bc6"/>
<rect x="253.10" y="426.25" width="0.75" height="28.75" fill="#2f7bc6"/>
<rect x="254.05" y="406.00" width="0.75" height="49.00" fill="#2f7bc6"/>
<rect x="255.00" y="426.25" width="0.75" height="28.75" fill="#2f7bc6"/>
<rect x="255.95" y="426.25" width="0.75" height="28.75" fill="#2f7bc6"/>
<rect x="256.90" y="416.00" width="0.75" height="39.00" fill="#2f7bc6"/>
<rect x="257.85" y="416.00" width="0.75" height="39.00" fill="#2f7bc6"/>
<rect x="258.80" y="436.00" width="0.75" height="19.00" fill="#2f7bc6"/>
<rect x="259.75" y="426.25" width="0.75" height="28.75" fill="#2f7bc6"/>
<rect x="260.70" y="436.00" width="0.75" height="19.00" fill="#2f7bc6"/>
<rect x="261.65" y="436.00" width="0.75" height="19.00" fill="#2f7bc6"/>
<rect x="262.60" y="446.25" width="0.75" height="8.75" fill="#2f7bc6"/>
<rect x="263.55" y="436.00" width="0.75" height="19.00" fill="#2f7bc6"/>
<rect x="264.50" y="446.25" width="0.75" height="8.75" fill="#2f7bc6"/>
<rect x="265.45" y="446.25" width="0.75" height="8.75" fill="#2f7bc6"/>
<rect x="249.30" y="355.75" width="0.80" height="99.25" fill="#2f7bc6"/>
<rect x="252.50" y="366.00" width="0.80" height="89.00" fill="#2f7bc6"/>
<rect x="244.50" y="396.50" width="0.80" height="58.50" fill="#2f7bc6"/>
<rect x="256.40" y="396.50" width="0.80" height="58.50" fill="#2f7bc6"/>
<rect x="240.50" y="406.00" width="0.80" height="49.00" fill="#2f7bc6"/>
<rect x="254.50" y="406.00" width="0.80" height="49.00" fill="#2f7bc6"/>
<rect x="234.50" y="416.00" width="0.80" height="39.00" fill="#2f7bc6"/>
<rect x="238.00" y="416.00" width="0.80" height="39.00" fill="#2f7bc6"/>
<rect x="258.50" y="416.00" width="0.80" height="39.00" fill="#2f7bc6"/>
<rect x="260.00" y="426.25" width="0.80" height="28.75" fill="#2f7bc6"/>
<rect x="265.50" y="446.25" width="0.75" height="8.75" fill="#2f7bc6"/>
<rect x="266.60" y="446.25" width="0.75" height="8.75" fill="#2f7bc6"/>
<rect x="267.80" y="446.25" width="0.75" height="8.75" fill="#2f7bc6"/>
<rect x="269.00" y="446.25" width="0.75" height="8.75" fill="#2f7bc6"/>
<rect x="270.30" y="446.25" width="0.75" height="8.75" fill="#2f7bc6"/>
<rect x="271.40" y="446.25" width="0.75" height="8.75" fill="#2f7bc6"/>
<rect x="272.60" y="446.25" width="0.75" height="8.75" fill="#2f7bc6"/>
<rect x="273.80" y="446.25" width="0.75" height="8.75" fill="#2f7bc6"/>
<rect x="276.40" y="446.25" width="0.75" height="8.75" fill="#2f7bc6"/>
<rect x="277.80" y="446.25" width="0.75" height="8.75" fill="#2f7bc6"/>
<rect x="279.00" y="446.25" width="0.75" height="8.75" fill="#2f7bc6"/>
<rect x="280.30" y="446.25" width="0.75" height="8.75" fill="#2f7bc6"/>
<rect x="281.60" y="446.25" width="0.75" height="8.75" fill="#2f7bc6"/>
<rect x="282.80" y="446.25" width="0.75" height="8.75" fill="#2f7bc6"/>
<rect x="284.00" y="446.25" width="0.75" height="8.75" fill="#2f7bc6"/>
<rect x="285.30" y="446.25" width="0.75" height="8.75" fill="#2f7bc6"/>
<rect x="286.50" y="446.25" width="0.75" height="8.75" fill="#2f7bc6"/>
<rect x="287.80" y="446.25" width="0.75" height="8.75" fill="#2f7bc6"/>
<rect x="289.90" y="446.25" width="0.75" height="8.75" fill="#2f7bc6"/>
<rect x="291.20" y="446.25" width="0.75" height="8.75" fill="#2f7bc6"/>
<rect x="300.30" y="446.25" width="0.75" height="8.75" fill="#2f7bc6"/>
<rect x="304.00" y="446.25" width="0.75" height="8.75" fill="#2f7bc6"/>
<rect x="305.30" y="446.25" width="0.75" height="8.75" fill="#2f7bc6"/>
<rect x="306.40" y="446.25" width="0.75" height="8.75" fill="#2f7bc6"/>
<rect x="309.20" y="446.25" width="0.75" height="8.75" fill="#2f7bc6"/>
<rect x="310.40" y="446.25" width="0.75" height="8.75" fill="#2f7bc6"/>
<rect x="311.60" y="446.25" width="0.75" height="8.75" fill="#2f7bc6"/>
<rect x="317.30" y="446.25" width="0.75" height="8.75" fill="#2f7bc6"/>
<rect x="323.60" y="446.25" width="0.75" height="8.75" fill="#2f7bc6"/>
<rect x="330.50" y="446.25" width="0.75" height="8.75" fill="#2f7bc6"/>
<rect x="345.00" y="446.25" width="0.75" height="8.75" fill="#2f7bc6"/>
<rect x="269.40" y="436.00" width="0.80" height="19.00" fill="#2f7bc6"/>
<rect x="271.30" y="436.00" width="0.80" height="19.00" fill="#2f7bc6"/>
<rect x="277.60" y="436.00" width="0.80" height="19.00" fill="#2f7bc6"/>
<rect x="289.00" y="416.00" width="0.80" height="39.00" fill="#2f7bc6"/>
</g>
<polyline points="226.80,450.93 227.64,450.33 228.47,449.61 229.31,448.75 230.15,447.74 230.98,446.56 231.82,445.21 232.66,443.67 233.49,441.95 234.33,440.03 235.17,437.94 236.00,435.67 236.84,433.25 237.68,430.70 238.51,428.06 239.35,425.37 240.19,422.67 241.02,420.02 241.86,417.47 242.70,415.08 243.53,412.90 244.37,410.98 245.21,409.38 246.04,408.13 246.88,407.27 247.72,406.82 248.55,406.79 249.39,407.19 250.23,408.00 251.06,409.21 251.90,410.77 252.74,412.65 253.57,414.81 254.41,417.18 255.25,419.71 256.08,422.35 256.92,425.05 257.76,427.74 258.59,430.39 259.43,432.95 260.27,435.38 261.10,437.67 261.94,439.79 262.78,441.73 263.61,443.48 264.45,445.04 265.29,446.41 266.12,447.61 266.96,448.63 267.80,449.51 268.63,450.25 269.47,450.86 270.31,451.37 271.14,451.78 271.98,452.11 272.82,452.38 273.65,452.59 274.49,452.75 275.33,452.88 276.16,452.97 277.00,453.05 277.84,453.10 278.67,453.14 279.51,453.18 280.35,453.20 281.18,453.21 282.02,453.22 282.86,453.23 283.69,453.24 284.53,453.24 285.37,453.24 286.20,453.25 287.04,453.25 287.88,453.25 288.71,453.25 289.55,453.25 290.39,453.25 291.22,453.25 292.06,453.25 292.90,453.25 293.73,453.25 294.57,453.25 295.41,453.25 296.24,453.25 297.08,453.25 297.92,453.25 298.75,453.25 299.59,453.25 300.43,453.25 301.26,453.25 302.10,453.25 302.94,453.25 303.77,453.25 304.61,453.25 305.45,453.25 306.28,453.25 307.12,453.25 307.96,453.25 308.79,453.25 309.63,453.25 310.47,453.25 311.30,453.25 312.14,453.25 312.98,453.25 313.81,453.25 314.65,453.25 315.49,453.25 316.32,453.25 317.16,453.25 318.00,453.25 318.83,453.25 319.67,453.25 320.51,453.25 321.34,453.25 322.18,453.25 323.02,453.25 323.85,453.25 324.69,453.25 325.53,453.25 326.36,453.25 327.20,453.25 328.04,453.25 328.87,453.25 329.71,453.25 330.55,453.25 331.38,453.25 332.22,453.25 333.06,453.25 333.89,453.25 334.73,453.25 335.57,453.25 336.40,453.25 337.24,453.25 338.08,453.25 338.91,453.25 339.75,453.25 340.59,453.25 341.42,453.25 342.26,453.25 343.10,453.25 343.93,453.25 344.77,453.25 345.61,453.25 346.44,453.25 347.28,453.25 348.12,453.25 348.95,453.25 349.79,453.25 350.63,453.25 351.46,453.25 352.30,453.25" fill="none" stroke="#000" stroke-width="1.4"/>
<line x1="247.6" y1="352.8" x2="247.6" y2="455" stroke="#f01418" stroke-width="2.4" stroke-dasharray="2.8 1.4 7 1.6 7 1.6 7 1.6 7 1.6 7 1.6 7 1.6 7 1.6 7 1.6 7 1.6 7 1.6 7 1.6 7 1.6 7 1.6"/>
<rect x="226.8" y="348.3" width="125.5" height="106.69999999999999" fill="none" stroke="#444" stroke-width="1.2"/>
<text transform="translate(250.9,364.5) scale(1.02,1.045)" font-size="15" text-anchor="start" >8.52 kPa</text>
<text transform="translate(310.2,434.6) scale(1.02,1.045)" font-size="15" text-anchor="start" >F/T 3</text>
<text transform="translate(223,358.6) scale(1.02,1.0)" font-size="15" text-anchor="end" >4</text>
<text transform="translate(223,409.3) scale(1.02,1.0)" font-size="15" text-anchor="end" >2</text>
<text transform="translate(223,459.4) scale(1.02,1.0)" font-size="15" text-anchor="end" >0</text>
<text transform="translate(226.1,471) scale(1.02,1.0)" font-size="15" text-anchor="middle" >0</text>
<text transform="translate(290,471) scale(1.02,1.0)" font-size="15" text-anchor="middle" >25</text>
<text transform="translate(353.5,471) scale(1.02,1.0)" font-size="15" text-anchor="middle" >50</text>
<text font-size="15" text-anchor="middle" transform="translate(205.5,409) rotate(-90) scale(1,1.045)">Counts</text>
<text transform="translate(191,487.2) scale(1.02,1.045)" font-size="15" text-anchor="start" >Young’s modulus (kPa)</text>
<g shape-rendering="crispEdges">
<rect x="398.00" y="446.00" width="1.42" height="9.00" fill="#2f7bc6"/>
<rect x="399.57" y="426.50" width="1.42" height="28.50" fill="#2f7bc6"/>
<rect x="401.15" y="433.50" width="1.42" height="21.50" fill="#2f7bc6"/>
<rect x="402.73" y="438.50" width="1.42" height="16.50" fill="#2f7bc6"/>
<rect x="404.30" y="370.00" width="1.42" height="85.00" fill="#2f7bc6"/>
<rect x="405.88" y="372.50" width="1.42" height="82.50" fill="#2f7bc6"/>
<rect x="407.45" y="379.00" width="1.42" height="76.00" fill="#2f7bc6"/>
<rect x="409.02" y="375.00" width="1.42" height="80.00" fill="#2f7bc6"/>
<rect x="410.60" y="361.50" width="1.42" height="93.50" fill="#2f7bc6"/>
<rect x="412.18" y="394.50" width="1.42" height="60.50" fill="#2f7bc6"/>
<rect x="413.75" y="427.00" width="1.42" height="28.00" fill="#2f7bc6"/>
<rect x="415.32" y="427.00" width="1.42" height="28.00" fill="#2f7bc6"/>
<rect x="416.90" y="425.50" width="1.42" height="29.50" fill="#2f7bc6"/>
<rect x="418.48" y="423.00" width="1.42" height="32.00" fill="#2f7bc6"/>
<rect x="420.05" y="444.00" width="1.42" height="11.00" fill="#2f7bc6"/>
<rect x="421.62" y="431.50" width="1.42" height="23.50" fill="#2f7bc6"/>
<rect x="423.20" y="434.50" width="1.42" height="20.50" fill="#2f7bc6"/>
<rect x="424.77" y="431.50" width="1.42" height="23.50" fill="#2f7bc6"/>
<rect x="426.35" y="431.50" width="1.42" height="23.50" fill="#2f7bc6"/>
<rect x="427.93" y="450.00" width="1.42" height="5.00" fill="#2f7bc6"/>
<rect x="429.50" y="442.50" width="1.42" height="12.50" fill="#2f7bc6"/>
<rect x="431.07" y="452.50" width="1.42" height="2.50" fill="#2f7bc6"/>
<rect x="432.65" y="452.50" width="1.42" height="2.50" fill="#2f7bc6"/>
<rect x="434.23" y="435.00" width="1.42" height="20.00" fill="#2f7bc6"/>
<rect x="435.80" y="439.00" width="1.42" height="16.00" fill="#2f7bc6"/>
<rect x="437.38" y="450.00" width="1.42" height="5.00" fill="#2f7bc6"/>
<rect x="438.95" y="438.50" width="1.42" height="16.50" fill="#2f7bc6"/>
<rect x="440.52" y="443.50" width="1.42" height="11.50" fill="#2f7bc6"/>
<rect x="442.10" y="452.50" width="1.42" height="2.50" fill="#2f7bc6"/>
<rect x="443.68" y="452.50" width="1.42" height="2.50" fill="#2f7bc6"/>
<rect x="445.25" y="442.50" width="1.42" height="12.50" fill="#2f7bc6"/>
<rect x="446.82" y="447.00" width="1.42" height="8.00" fill="#2f7bc6"/>
<rect x="448.40" y="452.50" width="1.42" height="2.50" fill="#2f7bc6"/>
<rect x="449.98" y="452.50" width="1.42" height="2.50" fill="#2f7bc6"/>
<rect x="451.55" y="452.50" width="1.42" height="2.50" fill="#2f7bc6"/>
<rect x="453.12" y="452.50" width="1.42" height="2.50" fill="#2f7bc6"/>
<rect x="454.70" y="447.00" width="1.42" height="8.00" fill="#2f7bc6"/>
<rect x="456.27" y="452.50" width="1.42" height="2.50" fill="#2f7bc6"/>
<rect x="457.85" y="452.50" width="1.42" height="2.50" fill="#2f7bc6"/>
<rect x="461.00" y="452.50" width="1.42" height="2.50" fill="#2f7bc6"/>
<rect x="464.15" y="452.50" width="1.42" height="2.50" fill="#2f7bc6"/>
<rect x="467.30" y="442.50" width="1.42" height="12.50" fill="#2f7bc6"/>
<rect x="472.02" y="447.00" width="1.42" height="8.00" fill="#2f7bc6"/>
<rect x="476.75" y="451.50" width="1.42" height="3.50" fill="#2f7bc6"/>
<rect x="455.00" y="452.50" width="1.20" height="2.50" fill="#2f7bc6"/>
<rect x="460.00" y="452.50" width="1.20" height="2.50" fill="#2f7bc6"/>
<rect x="466.00" y="452.50" width="1.20" height="2.50" fill="#2f7bc6"/>
<rect x="472.00" y="452.50" width="1.20" height="2.50" fill="#2f7bc6"/>
<rect x="480.00" y="452.00" width="1.20" height="3.00" fill="#2f7bc6"/>
<rect x="494.00" y="452.50" width="1.20" height="2.50" fill="#2f7bc6"/>
</g>
<polyline points="397.50,443.84 398.34,440.28 399.18,435.89 400.01,430.65 400.85,424.58 401.69,417.81 402.53,410.54 403.37,403.06 404.20,395.73 405.04,388.93 405.88,383.10 406.72,378.60 407.56,375.75 408.39,374.75 409.23,375.67 410.07,378.45 410.91,382.89 411.75,388.68 412.58,395.44 413.42,402.76 414.26,410.25 415.10,417.53 415.94,424.32 416.77,430.42 417.61,435.70 418.45,440.12 419.29,443.71 420.13,446.53 420.96,448.69 421.80,450.29 422.64,451.44 423.48,452.24 424.32,452.79 425.15,453.15 425.99,453.39 426.83,453.54 427.67,453.63 428.51,453.68 429.34,453.71 430.18,453.73 431.02,453.74 431.86,453.74 432.70,453.75 433.53,453.75 434.37,453.75 435.21,453.75 436.05,453.75 436.89,453.75 437.72,453.75 438.56,453.75 439.40,453.75 440.24,453.75 441.08,453.75 441.91,453.75 442.75,453.75 443.59,453.75 444.43,453.75 445.27,453.75 446.10,453.75 446.94,453.75 447.78,453.75 448.62,453.75 449.46,453.75 450.29,453.75 451.13,453.75 451.97,453.75 452.81,453.75 453.65,453.75 454.48,453.75 455.32,453.75 456.16,453.75 457.00,453.75 457.84,453.75 458.67,453.75 459.51,453.75 460.35,453.75 461.19,453.75 462.03,453.75 462.86,453.75 463.70,453.75 464.54,453.75 465.38,453.75 466.22,453.75 467.05,453.75 467.89,453.75 468.73,453.75 469.57,453.75 470.41,453.75 471.24,453.75 472.08,453.75 472.92,453.75 473.76,453.75 474.60,453.75 475.43,453.75 476.27,453.75 477.11,453.75 477.95,453.75 478.79,453.75 479.62,453.75 480.46,453.75 481.30,453.75 482.14,453.75 482.98,453.75 483.81,453.75 484.65,453.75 485.49,453.75 486.33,453.75 487.17,453.75 488.00,453.75 488.84,453.75 489.68,453.75 490.52,453.75 491.36,453.75 492.19,453.75 493.03,453.75 493.87,453.75 494.71,453.75 495.55,453.75 496.38,453.75 497.22,453.75 498.06,453.75 498.90,453.75 499.74,453.75 500.57,453.75 501.41,453.75 502.25,453.75 503.09,453.75 503.93,453.75 504.76,453.75 505.60,453.75 506.44,453.75 507.28,453.75 508.12,453.75 508.95,453.75 509.79,453.75 510.63,453.75 511.47,453.75 512.31,453.75 513.14,453.75 513.98,453.75 514.82,453.75 515.66,453.75 516.50,453.75 517.33,453.75 518.17,453.75 519.01,453.75 519.85,453.75 520.69,453.75 521.52,453.75 522.36,453.75 523.20,453.75" fill="none" stroke="#000" stroke-width="1.4"/>
<line x1="408.4" y1="352.8" x2="408.4" y2="455" stroke="#f01418" stroke-width="2.4" stroke-dasharray="2.8 1.4 7 1.6 7 1.6 7 1.6 7 1.6 7 1.6 7 1.6 7 1.6 7 1.6 7 1.6 7 1.6 7 1.6 7 1.6 7 1.6"/>
<rect x="397.5" y="348.3" width="125.70000000000005" height="106.69999999999999" fill="none" stroke="#444" stroke-width="1.2"/>
<text transform="translate(412.7,364.5) scale(1.02,1.045)" font-size="15" text-anchor="start" >4.41 kPa</text>
<text transform="translate(480.2,434.6) scale(1.02,1.045)" font-size="15" text-anchor="start" >F/T 7</text>
<text transform="translate(395,359.8) scale(1.02,1.0)" font-size="15" text-anchor="end" >20</text>
<text transform="translate(395,411.6) scale(1.02,1.0)" font-size="15" text-anchor="end" >10</text>
<text transform="translate(395,459.4) scale(1.02,1.0)" font-size="15" text-anchor="end" >0</text>
<text transform="translate(399.5,471) scale(1.02,1.0)" font-size="15" text-anchor="middle" >0</text>
<text transform="translate(459.9,471) scale(1.02,1.0)" font-size="15" text-anchor="middle" >25</text>
<text transform="translate(523.4,471) scale(1.02,1.0)" font-size="15" text-anchor="middle" >50</text>
<text font-size="15" text-anchor="middle" transform="translate(372.8,409) rotate(-90) scale(1,1.045)">Counts</text>
<text transform="translate(365,487.2) scale(1.02,1.045)" font-size="15" text-anchor="start" >Young’s modulus (kPa)</text>
<text transform="translate(548.3,227.3) scale(1.0,1.02)" font-size="23.5" text-anchor="start" >C</text>
<text transform="translate(580.8,226.8) scale(1.02,1.045)" font-size="15" text-anchor="start" >Smooth surface of dECM</text>
<rect x="614.1" y="346.10625" width="29.5" height="43.39375000000001" fill="#a5a5a8" stroke="#000" stroke-width="1.5"/>
<rect x="658.5" y="309.3375" width="28.799999999999955" height="80.16250000000002" fill="#f87e7e" stroke="#000" stroke-width="1.5"/>
<rect x="702.2" y="361.41" width="29.5" height="28.089999999999975" fill="#55a0f2" stroke="#000" stroke-width="1.5"/>
<path d="M629 328.1 V364 M621.5 328.1 H636.5 M621.5 364 H636.5" stroke="#000" stroke-width="2" fill="none"/>
<path d="M672.6 290.3 V329 M665.1 290.3 H680.1 M665.1 329 H680.1" stroke="#000" stroke-width="2" fill="none"/>
<path d="M716.8 353.4 V369.7 M709.3 353.4 H724.3 M709.3 369.7 H724.3" stroke="#000" stroke-width="2" fill="none"/>
<circle cx="629" cy="325" r="2.6" fill="#fff" stroke="#000" stroke-width="1.2"/>
<circle cx="625.2" cy="356.5" r="2.6" fill="#fff" stroke="#000" stroke-width="1.2"/>
<circle cx="633" cy="356.5" r="2.6" fill="#fff" stroke="#000" stroke-width="1.2"/>
<rect x="670.3000000000001" y="288.0" width="4.6" height="4.6" fill="#fff" stroke="#000" stroke-width="1.2"/>
<rect x="670.3000000000001" y="306.9" width="4.6" height="4.6" fill="#fff" stroke="#000" stroke-width="1.2"/>
<rect x="670.3000000000001" y="326.7" width="4.6" height="4.6" fill="#fff" stroke="#000" stroke-width="1.2"/>
<path d="M716.8 351.2856 L719.4 355.8096 L714.1999999999999 355.8096 Z" fill="#fff" stroke="#000" stroke-width="1.1"/>
<path d="M721.1 359.68559999999997 L723.7 364.20959999999997 L718.5 364.20959999999997 Z" fill="#fff" stroke="#000" stroke-width="1.1"/>
<path d="M712.8 366.9856 L715.4 371.5096 L710.1999999999999 371.5096 Z" fill="#fff" stroke="#000" stroke-width="1.1"/>
<path d="M605.8 257 V389.5 H739" fill="none" stroke="#000" stroke-width="1.5"/>
<line x1="602" y1="389.5" x2="605.8" y2="389.5" stroke="#000" stroke-width="1.5"/>
<line x1="602" y1="356.375" x2="605.8" y2="356.375" stroke="#000" stroke-width="1.5"/>
<line x1="602" y1="323.25" x2="605.8" y2="323.25" stroke="#000" stroke-width="1.5"/>
<line x1="602" y1="290.125" x2="605.8" y2="290.125" stroke="#000" stroke-width="1.5"/>
<line x1="602" y1="257.0" x2="605.8" y2="257.0" stroke="#000" stroke-width="1.5"/>
<line x1="629" y1="389.5" x2="629" y2="393" stroke="#000" stroke-width="1.5"/>
<line x1="672.6" y1="389.5" x2="672.6" y2="393" stroke="#000" stroke-width="1.5"/>
<line x1="716.8" y1="389.5" x2="716.8" y2="393" stroke="#000" stroke-width="1.5"/>
<text transform="translate(600.5,256.3) scale(1.02,1.0)" font-size="15" text-anchor="end" >20</text>
<text transform="translate(600.5,328) scale(1.02,1.0)" font-size="15" text-anchor="end" >10</text>
<text transform="translate(601,394.8) scale(1.02,1.0)" font-size="15" text-anchor="end" >0</text>
<text transform="translate(597,410.2) scale(1.02,1.045)" font-size="15" text-anchor="start" >Control</text>
<text transform="translate(656.6,410.2) scale(1.02,1.045)" font-size="15" text-anchor="start" >F/T 3</text>
<text transform="translate(699.8,410.2) scale(1.02,1.045)" font-size="15" text-anchor="start" >F/T 7</text>
<text font-size="15.3" text-anchor="middle" transform="translate(575.8,328.8) rotate(-90) scale(1,1.045)">Tensile modulus (kPa)</text>
<line x1="672.4" y1="284.2" x2="723.4" y2="284.2" stroke="#000" stroke-width="1.1"/>
<text transform="translate(695.6,286.8) scale(1.02,1.045)" font-size="15" text-anchor="middle" >*</text>
<text transform="translate(549.4,625.7) scale(1.0,1.02)" font-size="23.5" text-anchor="start" >E</text>
<text transform="translate(588,625.8) scale(1.02,1.045)" font-size="15" text-anchor="start" >Cross sectoin of dECM</text>
<rect x="613.4" y="756.6215" width="27.100000000000023" height="34.37850000000003" fill="#a5a5a8" stroke="#000" stroke-width="1.5"/>
<rect x="654.2" y="731.5295" width="27.699999999999932" height="59.470500000000015" fill="#f87e7e" stroke="#000" stroke-width="1.5"/>
<rect x="695.6" y="748.41125" width="27.600000000000023" height="42.588750000000005" fill="#55a0f2" stroke="#000" stroke-width="1.5"/>
<path d="M627 751.2 V762.5 M619.5 751.2 H634.5 M619.5 762.5 H634.5" stroke="#000" stroke-width="2" fill="none"/>
<path d="M667.9 708.2 V754.7 M660.4 708.2 H675.4 M660.4 754.7 H675.4" stroke="#000" stroke-width="2" fill="none"/>
<path d="M708.6 742.5 V754.7 M701.1 742.5 H716.1 M701.1 754.7 H716.1" stroke="#000" stroke-width="2" fill="none"/>
<circle cx="623" cy="750" r="2.6" fill="#fff" stroke="#000" stroke-width="1.2"/>
<circle cx="619.3" cy="757.8" r="2.6" fill="#fff" stroke="#000" stroke-width="1.2"/>
<circle cx="630.6" cy="753.6" r="2.6" fill="#fff" stroke="#000" stroke-width="1.2"/>
<circle cx="634.1" cy="759.5" r="2.6" fill="#fff" stroke="#000" stroke-width="1.2"/>
<circle cx="627" cy="764.7" r="2.6" fill="#fff" stroke="#000" stroke-width="1.2"/>
<rect x="665.6" y="699.7" width="4.6" height="4.6" fill="#fff" stroke="#000" stroke-width="1.2"/>
<rect x="665.6" y="708.7" width="4.6" height="4.6" fill="#fff" stroke="#000" stroke-width="1.2"/>
<rect x="665.6" y="738.7" width="4.6" height="4.6" fill="#fff" stroke="#000" stroke-width="1.2"/>
<rect x="669.2" y="747.2" width="4.6" height="4.6" fill="#fff" stroke="#000" stroke-width="1.2"/>
<rect x="661.8000000000001" y="752.0" width="4.6" height="4.6" fill="#fff" stroke="#000" stroke-width="1.2"/>
<path d="M699.1 740.1856 L701.7 744.7096 L696.5 744.7096 Z" fill="#fff" stroke="#000" stroke-width="1.1"/>
<path d="M706.2 744.8856000000001 L708.8000000000001 749.4096000000001 L703.6 749.4096000000001 Z" fill="#fff" stroke="#000" stroke-width="1.1"/>
<path d="M712.8 744.8856000000001 L715.4 749.4096000000001 L710.1999999999999 749.4096000000001 Z" fill="#fff" stroke="#000" stroke-width="1.1"/>
<path d="M719.7 743.7856 L722.3000000000001 748.3096 L717.1 748.3096 Z" fill="#fff" stroke="#000" stroke-width="1.1"/>
<path d="M709 756.7856 L711.6 761.3096 L706.4 761.3096 Z" fill="#fff" stroke="#000" stroke-width="1.1"/>
<path d="M605.3 668 V791 H729.8" fill="none" stroke="#000" stroke-width="1.5"/>
<line x1="601.5" y1="791.0" x2="605.3" y2="791.0" stroke="#000" stroke-width="1.5"/>
<line x1="601.5" y1="760.25" x2="605.3" y2="760.25" stroke="#000" stroke-width="1.5"/>
<line x1="601.5" y1="729.5" x2="605.3" y2="729.5" stroke="#000" stroke-width="1.5"/>
<line x1="601.5" y1="698.75" x2="605.3" y2="698.75" stroke="#000" stroke-width="1.5"/>
<line x1="601.5" y1="668.0" x2="605.3" y2="668.0" stroke="#000" stroke-width="1.5"/>
<line x1="627" y1="791" x2="627" y2="794.5" stroke="#000" stroke-width="1.5"/>
<line x1="667.9" y1="791" x2="667.9" y2="794.5" stroke="#000" stroke-width="1.5"/>
<line x1="708.6" y1="791" x2="708.6" y2="794.5" stroke="#000" stroke-width="1.5"/>
<text transform="translate(601,674.4) scale(1.02,1.0)" font-size="15" text-anchor="end" >800</text>
<text transform="translate(601,730.4) scale(1.02,1.0)" font-size="15" text-anchor="end" >400</text>
<text transform="translate(601,786.2) scale(1.02,1.0)" font-size="15" text-anchor="end" >0</text>
<text transform="translate(594.7,811) scale(1.02,1.045)" font-size="15" text-anchor="start" >Control</text>
<text transform="translate(651.4,811) scale(1.02,1.045)" font-size="15" text-anchor="start" >F/T 3</text>
<text transform="translate(692.5,811) scale(1.02,1.045)" font-size="15" text-anchor="start" >F/T 7</text>
<text font-size="15.3" text-anchor="middle" transform="translate(573.3,730) rotate(-90) scale(1,1.045)">Tensile modulus (kPa)</text>
<line x1="627" y1="689" x2="666.5" y2="689" stroke="#000" stroke-width="1.1"/>
<text transform="translate(646.7,691.6) scale(1.02,1.045)" font-size="15" text-anchor="middle" >*</text>
<text transform="translate(-1.2,521.6) scale(1.0,1.02)" font-size="23.5" text-anchor="start" >D</text>
<line x1="15.8" y1="527.9" x2="527.7" y2="527.9" stroke="#000" stroke-width="1.6"/>
<text transform="translate(159.2,522) scale(1.02,1.045)" font-size="15" text-anchor="start" >Cross section of dECM</text>
<text transform="translate(60.9,548.3) scale(1.02,1.045)" font-size="15" text-anchor="start" >Control</text>
<text transform="translate(230.9,547.6) scale(1.02,1.045)" font-size="15" text-anchor="start" >F/T 3</text>
<text transform="translate(390.5,547.6) scale(1.02,1.045)" font-size="15" text-anchor="start" >F/T 7</text>
<g shape-rendering="crispEdges">
<rect x="14.40" y="553.70" width="9.76" height="9.76" fill="#1000d4"/>
<rect x="23.76" y="553.70" width="9.76" height="9.76" fill="#0400ac"/>
<rect x="33.12" y="553.70" width="9.76" height="9.76" fill="#02004e"/>
<rect x="42.49" y="553.70" width="9.76" height="9.76" fill="#f8d8ee"/>
<rect x="51.85" y="553.70" width="9.76" height="9.76" fill="#0400ac"/>
<rect x="61.21" y="553.70" width="9.76" height="9.76" fill="#0400ac"/>
<rect x="70.58" y="553.70" width="9.76" height="9.76" fill="#1000d4"/>
<rect x="79.94" y="553.70" width="9.76" height="9.76" fill="#1000d4"/>
<rect x="89.30" y="553.70" width="9.76" height="9.76" fill="#6a089a"/>
<rect x="98.66" y="553.70" width="9.76" height="9.76" fill="#000000"/>
<rect x="108.03" y="553.70" width="9.76" height="9.76" fill="#921884"/>
<rect x="117.39" y="553.70" width="9.76" height="9.76" fill="#921884"/>
<rect x="126.75" y="553.70" width="9.76" height="9.76" fill="#d25aa0"/>
<rect x="136.11" y="553.70" width="9.76" height="9.76" fill="#c83c76"/>
<rect x="145.48" y="553.70" width="9.76" height="9.76" fill="#e8a0d0"/>
<rect x="154.84" y="553.70" width="9.76" height="9.76" fill="#fff8fc"/>
<rect x="14.40" y="563.06" width="9.76" height="9.76" fill="#02004e"/>
<rect x="23.76" y="563.06" width="9.76" height="9.76" fill="#000078"/>
<rect x="33.12" y="563.06" width="9.76" height="9.76" fill="#fff8fc"/>
<rect x="42.49" y="563.06" width="9.76" height="9.76" fill="#3a02ba"/>
<rect x="51.85" y="563.06" width="9.76" height="9.76" fill="#b8246a"/>
<rect x="61.21" y="563.06" width="9.76" height="9.76" fill="#921884"/>
<rect x="70.58" y="563.06" width="9.76" height="9.76" fill="#fff8fc"/>
<rect x="79.94" y="563.06" width="9.76" height="9.76" fill="#921884"/>
<rect x="89.30" y="563.06" width="9.76" height="9.76" fill="#1000d4"/>
<rect x="98.66" y="563.06" width="9.76" height="9.76" fill="#000000"/>
<rect x="108.03" y="563.06" width="9.76" height="9.76" fill="#02004e"/>
<rect x="117.39" y="563.06" width="9.76" height="9.76" fill="#e8a0d0"/>
<rect x="126.75" y="563.06" width="9.76" height="9.76" fill="#02004e"/>
<rect x="136.11" y="563.06" width="9.76" height="9.76" fill="#b8246a"/>
<rect x="145.48" y="563.06" width="9.76" height="9.76" fill="#fff8fc"/>
<rect x="154.84" y="563.06" width="9.76" height="9.76" fill="#fff8fc"/>
<rect x="14.40" y="572.43" width="9.76" height="9.76" fill="#fff8fc"/>
<rect x="23.76" y="572.43" width="9.76" height="9.76" fill="#000078"/>
<rect x="33.12" y="572.43" width="9.76" height="9.76" fill="#1000d4"/>
<rect x="42.49" y="572.43" width="9.76" height="9.76" fill="#921884"/>
<rect x="51.85" y="572.43" width="9.76" height="9.76" fill="#3a02ba"/>
<rect x="61.21" y="572.43" width="9.76" height="9.76" fill="#fff8fc"/>
<rect x="70.58" y="572.43" width="9.76" height="9.76" fill="#fff8fc"/>
<rect x="79.94" y="572.43" width="9.76" height="9.76" fill="#921884"/>
<rect x="89.30" y="572.43" width="9.76" height="9.76" fill="#1000d4"/>
<rect x="98.66" y="572.43" width="9.76" height="9.76" fill="#1000d4"/>
<rect x="108.03" y="572.43" width="9.76" height="9.76" fill="#921884"/>
<rect x="117.39" y="572.43" width="9.76" height="9.76" fill="#921884"/>
<rect x="126.75" y="572.43" width="9.76" height="9.76" fill="#d25aa0"/>
<rect x="136.11" y="572.43" width="9.76" height="9.76" fill="#1000d4"/>
<rect x="145.48" y="572.43" width="9.76" height="9.76" fill="#1000d4"/>
<rect x="154.84" y="572.43" width="9.76" height="9.76" fill="#921884"/>
<rect x="14.40" y="581.79" width="9.76" height="9.76" fill="#1000d4"/>
<rect x="23.76" y="581.79" width="9.76" height="9.76" fill="#6a089a"/>
<rect x="33.12" y="581.79" width="9.76" height="9.76" fill="#921884"/>
<rect x="42.49" y="581.79" width="9.76" height="9.76" fill="#1000d4"/>
<rect x="51.85" y="581.79" width="9.76" height="9.76" fill="#3a02ba"/>
<rect x="61.21" y="581.79" width="9.76" height="9.76" fill="#000078"/>
<rect x="70.58" y="581.79" width="9.76" height="9.76" fill="#921884"/>
<rect x="79.94" y="581.79" width="9.76" height="9.76" fill="#921884"/>
<rect x="89.30" y="581.79" width="9.76" height="9.76" fill="#b8246a"/>
<rect x="98.66" y="581.79" width="9.76" height="9.76" fill="#b8246a"/>
<rect x="108.03" y="581.79" width="9.76" height="9.76" fill="#d25aa0"/>
<rect x="117.39" y="581.79" width="9.76" height="9.76" fill="#921884"/>
<rect x="126.75" y="581.79" width="9.76" height="9.76" fill="#000000"/>
<rect x="136.11" y="581.79" width="9.76" height="9.76" fill="#000000"/>
<rect x="145.48" y="581.79" width="9.76" height="9.76" fill="#000000"/>
<rect x="154.84" y="581.79" width="9.76" height="9.76" fill="#000000"/>
<rect x="14.40" y="591.15" width="9.76" height="9.76" fill="#1000d4"/>
<rect x="23.76" y="591.15" width="9.76" height="9.76" fill="#d25aa0"/>
<rect x="33.12" y="591.15" width="9.76" height="9.76" fill="#b8246a"/>
<rect x="42.49" y="591.15" width="9.76" height="9.76" fill="#1000d4"/>
<rect x="51.85" y="591.15" width="9.76" height="9.76" fill="#000078"/>
<rect x="61.21" y="591.15" width="9.76" height="9.76" fill="#3a02ba"/>
<rect x="70.58" y="591.15" width="9.76" height="9.76" fill="#3a02ba"/>
<rect x="79.94" y="591.15" width="9.76" height="9.76" fill="#3a02ba"/>
<rect x="89.30" y="591.15" width="9.76" height="9.76" fill="#1000d4"/>
<rect x="98.66" y="591.15" width="9.76" height="9.76" fill="#b8246a"/>
<rect x="108.03" y="591.15" width="9.76" height="9.76" fill="#c83c76"/>
<rect x="117.39" y="591.15" width="9.76" height="9.76" fill="#0400ac"/>
<rect x="126.75" y="591.15" width="9.76" height="9.76" fill="#000000"/>
<rect x="136.11" y="591.15" width="9.76" height="9.76" fill="#000000"/>
<rect x="145.48" y="591.15" width="9.76" height="9.76" fill="#000000"/>
<rect x="154.84" y="591.15" width="9.76" height="9.76" fill="#000000"/>
<rect x="14.40" y="600.51" width="9.76" height="9.76" fill="#921884"/>
<rect x="23.76" y="600.51" width="9.76" height="9.76" fill="#6a089a"/>
<rect x="33.12" y="600.51" width="9.76" height="9.76" fill="#c83c76"/>
<rect x="42.49" y="600.51" width="9.76" height="9.76" fill="#c83c76"/>
<rect x="51.85" y="600.51" width="9.76" height="9.76" fill="#1000d4"/>
<rect x="61.21" y="600.51" width="9.76" height="9.76" fill="#921884"/>
<rect x="70.58" y="600.51" width="9.76" height="9.76" fill="#1000d4"/>
<rect x="79.94" y="600.51" width="9.76" height="9.76" fill="#921884"/>
<rect x="89.30" y="600.51" width="9.76" height="9.76" fill="#3a02ba"/>
<rect x="98.66" y="600.51" width="9.76" height="9.76" fill="#fff8fc"/>
<rect x="108.03" y="600.51" width="9.76" height="9.76" fill="#1000d4"/>
<rect x="117.39" y="600.51" width="9.76" height="9.76" fill="#000000"/>
<rect x="126.75" y="600.51" width="9.76" height="9.76" fill="#000000"/>
<rect x="136.11" y="600.51" width="9.76" height="9.76" fill="#000000"/>
<rect x="145.48" y="600.51" width="9.76" height="9.76" fill="#000000"/>
<rect x="154.84" y="600.51" width="9.76" height="9.76" fill="#000000"/>
<rect x="14.40" y="609.88" width="9.76" height="9.76" fill="#fff8fc"/>
<rect x="23.76" y="609.88" width="9.76" height="9.76" fill="#b8246a"/>
<rect x="33.12" y="609.88" width="9.76" height="9.76" fill="#e8a0d0"/>
<rect x="42.49" y="609.88" width="9.76" height="9.76" fill="#e8a0d0"/>
<rect x="51.85" y="609.88" width="9.76" height="9.76" fill="#e8a0d0"/>
<rect x="61.21" y="609.88" width="9.76" height="9.76" fill="#fff8fc"/>
<rect x="70.58" y="609.88" width="9.76" height="9.76" fill="#1000d4"/>
<rect x="79.94" y="609.88" width="9.76" height="9.76" fill="#f8d8ee"/>
<rect x="89.30" y="609.88" width="9.76" height="9.76" fill="#02004e"/>
<rect x="98.66" y="609.88" width="9.76" height="9.76" fill="#1000d4"/>
<rect x="108.03" y="609.88" width="9.76" height="9.76" fill="#000000"/>
<rect x="117.39" y="609.88" width="9.76" height="9.76" fill="#000000"/>
<rect x="126.75" y="609.88" width="9.76" height="9.76" fill="#000000"/>
<rect x="136.11" y="609.88" width="9.76" height="9.76" fill="#000000"/>
<rect x="145.48" y="609.88" width="9.76" height="9.76" fill="#000000"/>
<rect x="154.84" y="609.88" width="9.76" height="9.76" fill="#921884"/>
<rect x="14.40" y="619.24" width="9.76" height="9.76" fill="#1000d4"/>
<rect x="23.76" y="619.24" width="9.76" height="9.76" fill="#d25aa0"/>
<rect x="33.12" y="619.24" width="9.76" height="9.76" fill="#d25aa0"/>
<rect x="42.49" y="619.24" width="9.76" height="9.76" fill="#000000"/>
<rect x="51.85" y="619.24" width="9.76" height="9.76" fill="#b8246a"/>
<rect x="61.21" y="619.24" width="9.76" height="9.76" fill="#921884"/>
<rect x="70.58" y="619.24" width="9.76" height="9.76" fill="#b8246a"/>
<rect x="79.94" y="619.24" width="9.76" height="9.76" fill="#000000"/>
<rect x="89.30" y="619.24" width="9.76" height="9.76" fill="#000000"/>
<rect x="98.66" y="619.24" width="9.76" height="9.76" fill="#000000"/>
<rect x="108.03" y="619.24" width="9.76" height="9.76" fill="#000000"/>
<rect x="117.39" y="619.24" width="9.76" height="9.76" fill="#000000"/>
<rect x="126.75" y="619.24" width="9.76" height="9.76" fill="#02004e"/>
<rect x="136.11" y="619.24" width="9.76" height="9.76" fill="#000078"/>
<rect x="145.48" y="619.24" width="9.76" height="9.76" fill="#0400ac"/>
<rect x="154.84" y="619.24" width="9.76" height="9.76" fill="#0400ac"/>
<rect x="14.40" y="628.60" width="9.76" height="9.76" fill="#1000d4"/>
<rect x="23.76" y="628.60" width="9.76" height="9.76" fill="#1000d4"/>
<rect x="33.12" y="628.60" width="9.76" height="9.76" fill="#1000d4"/>
<rect x="42.49" y="628.60" width="9.76" height="9.76" fill="#f8d8ee"/>
<rect x="51.85" y="628.60" width="9.76" height="9.76" fill="#d25aa0"/>
<rect x="61.21" y="628.60" width="9.76" height="9.76" fill="#000000"/>
<rect x="70.58" y="628.60" width="9.76" height="9.76" fill="#000000"/>
<rect x="79.94" y="628.60" width="9.76" height="9.76" fill="#000000"/>
<rect x="89.30" y="628.60" width="9.76" height="9.76" fill="#000000"/>
<rect x="98.66" y="628.60" width="9.76" height="9.76" fill="#d25aa0"/>
<rect x="108.03" y="628.60" width="9.76" height="9.76" fill="#921884"/>
<rect x="117.39" y="628.60" width="9.76" height="9.76" fill="#1000d4"/>
<rect x="126.75" y="628.60" width="9.76" height="9.76" fill="#1000d4"/>
<rect x="136.11" y="628.60" width="9.76" height="9.76" fill="#1000d4"/>
<rect x="145.48" y="628.60" width="9.76" height="9.76" fill="#000000"/>
<rect x="154.84" y="628.60" width="9.76" height="9.76" fill="#000000"/>
<rect x="14.40" y="637.96" width="9.76" height="9.76" fill="#000000"/>
<rect x="23.76" y="637.96" width="9.76" height="9.76" fill="#000000"/>
<rect x="33.12" y="637.96" width="9.76" height="9.76" fill="#fff8fc"/>
<rect x="42.49" y="637.96" width="9.76" height="9.76" fill="#000000"/>
<rect x="51.85" y="637.96" width="9.76" height="9.76" fill="#000000"/>
<rect x="61.21" y="637.96" width="9.76" height="9.76" fill="#000000"/>
<rect x="70.58" y="637.96" width="9.76" height="9.76" fill="#000000"/>
<rect x="79.94" y="637.96" width="9.76" height="9.76" fill="#0400ac"/>
<rect x="89.30" y="637.96" width="9.76" height="9.76" fill="#1000d4"/>
<rect x="98.66" y="637.96" width="9.76" height="9.76" fill="#0400ac"/>
<rect x="108.03" y="637.96" width="9.76" height="9.76" fill="#0400ac"/>
<rect x="117.39" y="637.96" width="9.76" height="9.76" fill="#1000d4"/>
<rect x="126.75" y="637.96" width="9.76" height="9.76" fill="#921884"/>
<rect x="136.11" y="637.96" width="9.76" height="9.76" fill="#000000"/>
<rect x="145.48" y="637.96" width="9.76" height="9.76" fill="#1000d4"/>
<rect x="154.84" y="637.96" width="9.76" height="9.76" fill="#1000d4"/>
<rect x="14.40" y="647.33" width="9.76" height="9.76" fill="#921884"/>
<rect x="23.76" y="647.33" width="9.76" height="9.76" fill="#1000d4"/>
<rect x="33.12" y="647.33" width="9.76" height="9.76" fill="#0400ac"/>
<rect x="42.49" y="647.33" width="9.76" height="9.76" fill="#02004e"/>
<rect x="51.85" y="647.33" width="9.76" height="9.76" fill="#000000"/>
<rect x="61.21" y="647.33" width="9.76" height="9.76" fill="#0400ac"/>
<rect x="70.58" y="647.33" width="9.76" height="9.76" fill="#02004e"/>
<rect x="79.94" y="647.33" width="9.76" height="9.76" fill="#1000d4"/>
<rect x="89.30" y="647.33" width="9.76" height="9.76" fill="#1000d4"/>
<rect x="98.66" y="647.33" width="9.76" height="9.76" fill="#e8a0d0"/>
<rect x="108.03" y="647.33" width="9.76" height="9.76" fill="#0400ac"/>
<rect x="117.39" y="647.33" width="9.76" height="9.76" fill="#6a089a"/>
<rect x="126.75" y="647.33" width="9.76" height="9.76" fill="#000000"/>
<rect x="136.11" y="647.33" width="9.76" height="9.76" fill="#d25aa0"/>
<rect x="145.48" y="647.33" width="9.76" height="9.76" fill="#c83c76"/>
<rect x="154.84" y="647.33" width="9.76" height="9.76" fill="#02004e"/>
<rect x="14.40" y="656.69" width="9.76" height="9.76" fill="#921884"/>
<rect x="23.76" y="656.69" width="9.76" height="9.76" fill="#6a089a"/>
<rect x="33.12" y="656.69" width="9.76" height="9.76" fill="#000000"/>
<rect x="42.49" y="656.69" width="9.76" height="9.76" fill="#000000"/>
<rect x="51.85" y="656.69" width="9.76" height="9.76" fill="#1000d4"/>
<rect x="61.21" y="656.69" width="9.76" height="9.76" fill="#b8246a"/>
<rect x="70.58" y="656.69" width="9.76" height="9.76" fill="#921884"/>
<rect x="79.94" y="656.69" width="9.76" height="9.76" fill="#1000d4"/>
<rect x="89.30" y="656.69" width="9.76" height="9.76" fill="#6a089a"/>
<rect x="98.66" y="656.69" width="9.76" height="9.76" fill="#b8246a"/>
<rect x="108.03" y="656.69" width="9.76" height="9.76" fill="#1000d4"/>
<rect x="117.39" y="656.69" width="9.76" height="9.76" fill="#921884"/>
<rect x="126.75" y="656.69" width="9.76" height="9.76" fill="#1000d4"/>
<rect x="136.11" y="656.69" width="9.76" height="9.76" fill="#1000d4"/>
<rect x="145.48" y="656.69" width="9.76" height="9.76" fill="#000000"/>
<rect x="154.84" y="656.69" width="9.76" height="9.76" fill="#02004e"/>
<rect x="14.40" y="666.05" width="9.76" height="9.76" fill="#1000d4"/>
<rect x="23.76" y="666.05" width="9.76" height="9.76" fill="#1000d4"/>
<rect x="33.12" y="666.05" width="9.76" height="9.76" fill="#6a089a"/>
<rect x="42.49" y="666.05" width="9.76" height="9.76" fill="#921884"/>
<rect x="51.85" y="666.05" width="9.76" height="9.76" fill="#b8246a"/>
<rect x="61.21" y="666.05" width="9.76" height="9.76" fill="#b8246a"/>
<rect x="70.58" y="666.05" width="9.76" height="9.76" fill="#b8246a"/>
<rect x="79.94" y="666.05" width="9.76" height="9.76" fill="#d25aa0"/>
<rect x="89.30" y="666.05" width="9.76" height="9.76" fill="#e8a0d0"/>
<rect x="98.66" y="666.05" width="9.76" height="9.76" fill="#3a02ba"/>
<rect x="108.03" y="666.05" width="9.76" height="9.76" fill="#c83c76"/>
<rect x="117.39" y="666.05" width="9.76" height="9.76" fill="#e8a0d0"/>
<rect x="126.75" y="666.05" width="9.76" height="9.76" fill="#000000"/>
<rect x="136.11" y="666.05" width="9.76" height="9.76" fill="#000000"/>
<rect x="145.48" y="666.05" width="9.76" height="9.76" fill="#000000"/>
<rect x="154.84" y="666.05" width="9.76" height="9.76" fill="#e8a0d0"/>
<rect x="14.40" y="675.41" width="9.76" height="9.76" fill="#e8a0d0"/>
<rect x="23.76" y="675.41" width="9.76" height="9.76" fill="#f8d8ee"/>
<rect x="33.12" y="675.41" width="9.76" height="9.76" fill="#1000d4"/>
<rect x="42.49" y="675.41" width="9.76" height="9.76" fill="#1000d4"/>
<rect x="51.85" y="675.41" width="9.76" height="9.76" fill="#0400ac"/>
<rect x="61.21" y="675.41" width="9.76" height="9.76" fill="#1000d4"/>
<rect x="70.58" y="675.41" width="9.76" height="9.76" fill="#1000d4"/>
<rect x="79.94" y="675.41" width="9.76" height="9.76" fill="#d25aa0"/>
<rect x="89.30" y="675.41" width="9.76" height="9.76" fill="#1000d4"/>
<rect x="98.66" y="675.41" width="9.76" height="9.76" fill="#02004e"/>
<rect x="108.03" y="675.41" width="9.76" height="9.76" fill="#b8246a"/>
<rect x="117.39" y="675.41" width="9.76" height="9.76" fill="#e8a0d0"/>
<rect x="126.75" y="675.41" width="9.76" height="9.76" fill="#02004e"/>
<rect x="136.11" y="675.41" width="9.76" height="9.76" fill="#6a089a"/>
<rect x="145.48" y="675.41" width="9.76" height="9.76" fill="#000000"/>
<rect x="154.84" y="675.41" width="9.76" height="9.76" fill="#02004e"/>
<rect x="14.40" y="684.78" width="9.76" height="9.76" fill="#d25aa0"/>
<rect x="23.76" y="684.78" width="9.76" height="9.76" fill="#b8246a"/>
<rect x="33.12" y="684.78" width="9.76" height="9.76" fill="#0400ac"/>
<rect x="42.49" y="684.78" width="9.76" height="9.76" fill="#02004e"/>
<rect x="51.85" y="684.78" width="9.76" height="9.76" fill="#b8246a"/>
<rect x="61.21" y="684.78" width="9.76" height="9.76" fill="#c83c76"/>
<rect x="70.58" y="684.78" width="9.76" height="9.76" fill="#b8246a"/>
<rect x="79.94" y="684.78" width="9.76" height="9.76" fill="#3a02ba"/>
<rect x="89.30" y="684.78" width="9.76" height="9.76" fill="#e8a0d0"/>
<rect x="98.66" y="684.78" width="9.76" height="9.76" fill="#1000d4"/>
<rect x="108.03" y="684.78" width="9.76" height="9.76" fill="#fff8fc"/>
<rect x="117.39" y="684.78" width="9.76" height="9.76" fill="#1000d4"/>
<rect x="126.75" y="684.78" width="9.76" height="9.76" fill="#1000d4"/>
<rect x="136.11" y="684.78" width="9.76" height="9.76" fill="#000000"/>
<rect x="145.48" y="684.78" width="9.76" height="9.76" fill="#1000d4"/>
<rect x="154.84" y="684.78" width="9.76" height="9.76" fill="#fff8fc"/>
<rect x="14.40" y="694.14" width="9.76" height="9.76" fill="#d25aa0"/>
<rect x="23.76" y="694.14" width="9.76" height="9.76" fill="#921884"/>
<rect x="33.12" y="694.14" width="9.76" height="9.76" fill="#d25aa0"/>
<rect x="42.49" y="694.14" width="9.76" height="9.76" fill="#6a089a"/>
<rect x="51.85" y="694.14" width="9.76" height="9.76" fill="#fff8fc"/>
<rect x="61.21" y="694.14" width="9.76" height="9.76" fill="#1000d4"/>
<rect x="70.58" y="694.14" width="9.76" height="9.76" fill="#6a089a"/>
<rect x="79.94" y="694.14" width="9.76" height="9.76" fill="#3a02ba"/>
<rect x="89.30" y="694.14" width="9.76" height="9.76" fill="#1000d4"/>
<rect x="98.66" y="694.14" width="9.76" height="9.76" fill="#000000"/>
<rect x="108.03" y="694.14" width="9.76" height="9.76" fill="#000000"/>
<rect x="117.39" y="694.14" width="9.76" height="9.76" fill="#1000d4"/>
<rect x="126.75" y="694.14" width="9.76" height="9.76" fill="#000000"/>
<rect x="136.11" y="694.14" width="9.76" height="9.76" fill="#6a089a"/>
<rect x="145.48" y="694.14" width="9.76" height="9.76" fill="#1000d4"/>
<rect x="154.84" y="694.14" width="9.76" height="9.76" fill="#1000d4"/>
</g>
<g shape-rendering="crispEdges">
<rect x="173.40" y="553.70" width="9.76" height="9.76" fill="#1000d4"/>
<rect x="182.76" y="553.70" width="9.76" height="9.76" fill="#921884"/>
<rect x="192.12" y="553.70" width="9.76" height="9.76" fill="#d25aa0"/>
<rect x="201.49" y="553.70" width="9.76" height="9.76" fill="#6a089a"/>
<rect x="210.85" y="553.70" width="9.76" height="9.76" fill="#0400ac"/>
<rect x="220.21" y="553.70" width="9.76" height="9.76" fill="#b8246a"/>
<rect x="229.58" y="553.70" width="9.76" height="9.76" fill="#1000d4"/>
<rect x="238.94" y="553.70" width="9.76" height="9.76" fill="#6a089a"/>
<rect x="248.30" y="553.70" width="9.76" height="9.76" fill="#6a089a"/>
<rect x="257.66" y="553.70" width="9.76" height="9.76" fill="#000000"/>
<rect x="267.02" y="553.70" width="9.76" height="9.76" fill="#1000d4"/>
<rect x="276.39" y="553.70" width="9.76" height="9.76" fill="#1000d4"/>
<rect x="285.75" y="553.70" width="9.76" height="9.76" fill="#1000d4"/>
<rect x="295.11" y="553.70" width="9.76" height="9.76" fill="#c83c76"/>
<rect x="304.48" y="553.70" width="9.76" height="9.76" fill="#c83c76"/>
<rect x="313.84" y="553.70" width="9.76" height="9.76" fill="#fff8fc"/>
<rect x="173.40" y="563.06" width="9.76" height="9.76" fill="#02004e"/>
<rect x="182.76" y="563.06" width="9.76" height="9.76" fill="#921884"/>
<rect x="192.12" y="563.06" width="9.76" height="9.76" fill="#0400ac"/>
<rect x="201.49" y="563.06" width="9.76" height="9.76" fill="#0400ac"/>
<rect x="210.85" y="563.06" width="9.76" height="9.76" fill="#1000d4"/>
<rect x="220.21" y="563.06" width="9.76" height="9.76" fill="#1000d4"/>
<rect x="229.58" y="563.06" width="9.76" height="9.76" fill="#3a02ba"/>
<rect x="238.94" y="563.06" width="9.76" height="9.76" fill="#0400ac"/>
<rect x="248.30" y="563.06" width="9.76" height="9.76" fill="#000000"/>
<rect x="257.66" y="563.06" width="9.76" height="9.76" fill="#921884"/>
<rect x="267.02" y="563.06" width="9.76" height="9.76" fill="#3a02ba"/>
<rect x="276.39" y="563.06" width="9.76" height="9.76" fill="#3a02ba"/>
<rect x="285.75" y="563.06" width="9.76" height="9.76" fill="#1000d4"/>
<rect x="295.11" y="563.06" width="9.76" height="9.76" fill="#1000d4"/>
<rect x="304.48" y="563.06" width="9.76" height="9.76" fill="#0400ac"/>
<rect x="313.84" y="563.06" width="9.76" height="9.76" fill="#fff8fc"/>
<rect x="173.40" y="572.43" width="9.76" height="9.76" fill="#1000d4"/>
<rect x="182.76" y="572.43" width="9.76" height="9.76" fill="#b8246a"/>
<rect x="192.12" y="572.43" width="9.76" height="9.76" fill="#6a089a"/>
<rect x="201.49" y="572.43" width="9.76" height="9.76" fill="#000078"/>
<rect x="210.85" y="572.43" width="9.76" height="9.76" fill="#921884"/>
<rect x="220.21" y="572.43" width="9.76" height="9.76" fill="#1000d4"/>
<rect x="229.58" y="572.43" width="9.76" height="9.76" fill="#3a02ba"/>
<rect x="238.94" y="572.43" width="9.76" height="9.76" fill="#1000d4"/>
<rect x="248.30" y="572.43" width="9.76" height="9.76" fill="#1000d4"/>
<rect x="257.66" y="572.43" width="9.76" height="9.76" fill="#000000"/>
<rect x="267.02" y="572.43" width="9.76" height="9.76" fill="#e8a0d0"/>
<rect x="276.39" y="572.43" width="9.76" height="9.76" fill="#c83c76"/>
<rect x="285.75" y="572.43" width="9.76" height="9.76" fill="#1000d4"/>
<rect x="295.11" y="572.43" width="9.76" height="9.76" fill="#6a089a"/>
<rect x="304.48" y="572.43" width="9.76" height="9.76" fill="#fff8fc"/>
<rect x="313.84" y="572.43" width="9.76" height="9.76" fill="#1000d4"/>
<rect x="173.40" y="581.79" width="9.76" height="9.76" fill="#3a02ba"/>
<rect x="182.76" y="581.79" width="9.76" height="9.76" fill="#1000d4"/>
<rect x="192.12" y="581.79" width="9.76" height="9.76" fill="#b8246a"/>
<rect x="201.49" y="581.79" width="9.76" height="9.76" fill="#1000d4"/>
<rect x="210.85" y="581.79" width="9.76" height="9.76" fill="#000000"/>
<rect x="220.21" y="581.79" width="9.76" height="9.76" fill="#c83c76"/>
<rect x="229.58" y="581.79" width="9.76" height="9.76" fill="#e8a0d0"/>
<rect x="238.94" y="581.79" width="9.76" height="9.76" fill="#b8246a"/>
<rect x="248.30" y="581.79" width="9.76" height="9.76" fill="#1000d4"/>
<rect x="257.66" y="581.79" width="9.76" height="9.76" fill="#fff8fc"/>
<rect x="267.02" y="581.79" width="9.76" height="9.76" fill="#d25aa0"/>
<rect x="276.39" y="581.79" width="9.76" height="9.76" fill="#b8246a"/>
<rect x="285.75" y="581.79" width="9.76" height="9.76" fill="#6a089a"/>
<rect x="295.11" y="581.79" width="9.76" height="9.76" fill="#1000d4"/>
<rect x="304.48" y="581.79" width="9.76" height="9.76" fill="#000078"/>
<rect x="313.84" y="581.79" width="9.76" height="9.76" fill="#921884"/>
<rect x="173.40" y="591.15" width="9.76" height="9.76" fill="#e8a0d0"/>
<rect x="182.76" y="591.15" width="9.76" height="9.76" fill="#0400ac"/>
<rect x="192.12" y="591.15" width="9.76" height="9.76" fill="#6a089a"/>
<rect x="201.49" y="591.15" width="9.76" height="9.76" fill="#921884"/>
<rect x="210.85" y="591.15" width="9.76" height="9.76" fill="#1000d4"/>
<rect x="220.21" y="591.15" width="9.76" height="9.76" fill="#1000d4"/>
<rect x="229.58" y="591.15" width="9.76" height="9.76" fill="#3a02ba"/>
<rect x="238.94" y="591.15" width="9.76" height="9.76" fill="#fff8fc"/>
<rect x="248.30" y="591.15" width="9.76" height="9.76" fill="#e8a0d0"/>
<rect x="257.66" y="591.15" width="9.76" height="9.76" fill="#921884"/>
<rect x="267.02" y="591.15" width="9.76" height="9.76" fill="#921884"/>
<rect x="276.39" y="591.15" width="9.76" height="9.76" fill="#1000d4"/>
<rect x="285.75" y="591.15" width="9.76" height="9.76" fill="#e8a0d0"/>
<rect x="295.11" y="591.15" width="9.76" height="9.76" fill="#1000d4"/>
<rect x="304.48" y="591.15" width="9.76" height="9.76" fill="#3a02ba"/>
<rect x="313.84" y="591.15" width="9.76" height="9.76" fill="#921884"/>
<rect x="173.40" y="600.51" width="9.76" height="9.76" fill="#b8246a"/>
<rect x="182.76" y="600.51" width="9.76" height="9.76" fill="#921884"/>
<rect x="192.12" y="600.51" width="9.76" height="9.76" fill="#921884"/>
<rect x="201.49" y="600.51" width="9.76" height="9.76" fill="#000078"/>
<rect x="210.85" y="600.51" width="9.76" height="9.76" fill="#c83c76"/>
<rect x="220.21" y="600.51" width="9.76" height="9.76" fill="#000078"/>
<rect x="229.58" y="600.51" width="9.76" height="9.76" fill="#6a089a"/>
<rect x="238.94" y="600.51" width="9.76" height="9.76" fill="#02004e"/>
<rect x="248.30" y="600.51" width="9.76" height="9.76" fill="#1000d4"/>
<rect x="257.66" y="600.51" width="9.76" height="9.76" fill="#1000d4"/>
<rect x="267.02" y="600.51" width="9.76" height="9.76" fill="#3a02ba"/>
<rect x="276.39" y="600.51" width="9.76" height="9.76" fill="#1000d4"/>
<rect x="285.75" y="600.51" width="9.76" height="9.76" fill="#000000"/>
<rect x="295.11" y="600.51" width="9.76" height="9.76" fill="#02004e"/>
<rect x="304.48" y="600.51" width="9.76" height="9.76" fill="#1000d4"/>
<rect x="313.84" y="600.51" width="9.76" height="9.76" fill="#e8a0d0"/>
<rect x="173.40" y="609.88" width="9.76" height="9.76" fill="#b8246a"/>
<rect x="182.76" y="609.88" width="9.76" height="9.76" fill="#000000"/>
<rect x="192.12" y="609.88" width="9.76" height="9.76" fill="#b8246a"/>
<rect x="201.49" y="609.88" width="9.76" height="9.76" fill="#02004e"/>
<rect x="210.85" y="609.88" width="9.76" height="9.76" fill="#1000d4"/>
<rect x="220.21" y="609.88" width="9.76" height="9.76" fill="#d25aa0"/>
<rect x="229.58" y="609.88" width="9.76" height="9.76" fill="#02004e"/>
<rect x="238.94" y="609.88" width="9.76" height="9.76" fill="#1000d4"/>
<rect x="248.30" y="609.88" width="9.76" height="9.76" fill="#c83c76"/>
<rect x="257.66" y="609.88" width="9.76" height="9.76" fill="#c83c76"/>
<rect x="267.02" y="609.88" width="9.76" height="9.76" fill="#e8a0d0"/>
<rect x="276.39" y="609.88" width="9.76" height="9.76" fill="#6a089a"/>
<rect x="285.75" y="609.88" width="9.76" height="9.76" fill="#fff8fc"/>
<rect x="295.11" y="609.88" width="9.76" height="9.76" fill="#921884"/>
<rect x="304.48" y="609.88" width="9.76" height="9.76" fill="#b8246a"/>
<rect x="313.84" y="609.88" width="9.76" height="9.76" fill="#1000d4"/>
<rect x="173.40" y="619.24" width="9.76" height="9.76" fill="#921884"/>
<rect x="182.76" y="619.24" width="9.76" height="9.76" fill="#b8246a"/>
<rect x="192.12" y="619.24" width="9.76" height="9.76" fill="#000078"/>
<rect x="201.49" y="619.24" width="9.76" height="9.76" fill="#6a089a"/>
<rect x="210.85" y="619.24" width="9.76" height="9.76" fill="#0400ac"/>
<rect x="220.21" y="619.24" width="9.76" height="9.76" fill="#02004e"/>
<rect x="229.58" y="619.24" width="9.76" height="9.76" fill="#b8246a"/>
<rect x="238.94" y="619.24" width="9.76" height="9.76" fill="#02004e"/>
<rect x="248.30" y="619.24" width="9.76" height="9.76" fill="#b8246a"/>
<rect x="257.66" y="619.24" width="9.76" height="9.76" fill="#000078"/>
<rect x="267.02" y="619.24" width="9.76" height="9.76" fill="#000000"/>
<rect x="276.39" y="619.24" width="9.76" height="9.76" fill="#c83c76"/>
<rect x="285.75" y="619.24" width="9.76" height="9.76" fill="#fff8fc"/>
<rect x="295.11" y="619.24" width="9.76" height="9.76" fill="#1000d4"/>
<rect x="304.48" y="619.24" width="9.76" height="9.76" fill="#000078"/>
<rect x="313.84" y="619.24" width="9.76" height="9.76" fill="#000078"/>
<rect x="173.40" y="628.60" width="9.76" height="9.76" fill="#000000"/>
<rect x="182.76" y="628.60" width="9.76" height="9.76" fill="#1000d4"/>
<rect x="192.12" y="628.60" width="9.76" height="9.76" fill="#02004e"/>
<rect x="201.49" y="628.60" width="9.76" height="9.76" fill="#6a089a"/>
<rect x="210.85" y="628.60" width="9.76" height="9.76" fill="#921884"/>
<rect x="220.21" y="628.60" width="9.76" height="9.76" fill="#1000d4"/>
<rect x="229.58" y="628.60" width="9.76" height="9.76" fill="#000078"/>
<rect x="238.94" y="628.60" width="9.76" height="9.76" fill="#1000d4"/>
<rect x="248.30" y="628.60" width="9.76" height="9.76" fill="#3a02ba"/>
<rect x="257.66" y="628.60" width="9.76" height="9.76" fill="#6a089a"/>
<rect x="267.02" y="628.60" width="9.76" height="9.76" fill="#c83c76"/>
<rect x="276.39" y="628.60" width="9.76" height="9.76" fill="#921884"/>
<rect x="285.75" y="628.60" width="9.76" height="9.76" fill="#c83c76"/>
<rect x="295.11" y="628.60" width="9.76" height="9.76" fill="#d25aa0"/>
<rect x="304.48" y="628.60" width="9.76" height="9.76" fill="#921884"/>
<rect x="313.84" y="628.60" width="9.76" height="9.76" fill="#921884"/>
<rect x="173.40" y="637.96" width="9.76" height="9.76" fill="#000000"/>
<rect x="182.76" y="637.96" width="9.76" height="9.76" fill="#000000"/>
<rect x="192.12" y="637.96" width="9.76" height="9.76" fill="#000000"/>
<rect x="201.49" y="637.96" width="9.76" height="9.76" fill="#000000"/>
<rect x="210.85" y="637.96" width="9.76" height="9.76" fill="#1000d4"/>
<rect x="220.21" y="637.96" width="9.76" height="9.76" fill="#0400ac"/>
<rect x="229.58" y="637.96" width="9.76" height="9.76" fill="#0400ac"/>
<rect x="238.94" y="637.96" width="9.76" height="9.76" fill="#000078"/>
<rect x="248.30" y="637.96" width="9.76" height="9.76" fill="#000000"/>
<rect x="257.66" y="637.96" width="9.76" height="9.76" fill="#3a02ba"/>
<rect x="267.02" y="637.96" width="9.76" height="9.76" fill="#000078"/>
<rect x="276.39" y="637.96" width="9.76" height="9.76" fill="#1000d4"/>
<rect x="285.75" y="637.96" width="9.76" height="9.76" fill="#3a02ba"/>
<rect x="295.11" y="637.96" width="9.76" height="9.76" fill="#1000d4"/>
<rect x="304.48" y="637.96" width="9.76" height="9.76" fill="#000000"/>
<rect x="313.84" y="637.96" width="9.76" height="9.76" fill="#000000"/>
<rect x="173.40" y="647.33" width="9.76" height="9.76" fill="#0400ac"/>
<rect x="182.76" y="647.33" width="9.76" height="9.76" fill="#b8246a"/>
<rect x="192.12" y="647.33" width="9.76" height="9.76" fill="#000000"/>
<rect x="201.49" y="647.33" width="9.76" height="9.76" fill="#000000"/>
<rect x="210.85" y="647.33" width="9.76" height="9.76" fill="#1000d4"/>
<rect x="220.21" y="647.33" width="9.76" height="9.76" fill="#b8246a"/>
<rect x="229.58" y="647.33" width="9.76" height="9.76" fill="#1000d4"/>
<rect x="238.94" y="647.33" width="9.76" height="9.76" fill="#c83c76"/>
<rect x="248.30" y="647.33" width="9.76" height="9.76" fill="#6a089a"/>
<rect x="257.66" y="647.33" width="9.76" height="9.76" fill="#921884"/>
<rect x="267.02" y="647.33" width="9.76" height="9.76" fill="#b8246a"/>
<rect x="276.39" y="647.33" width="9.76" height="9.76" fill="#1000d4"/>
<rect x="285.75" y="647.33" width="9.76" height="9.76" fill="#000000"/>
<rect x="295.11" y="647.33" width="9.76" height="9.76" fill="#000000"/>
<rect x="304.48" y="647.33" width="9.76" height="9.76" fill="#02004e"/>
<rect x="313.84" y="647.33" width="9.76" height="9.76" fill="#000000"/>
<rect x="173.40" y="656.69" width="9.76" height="9.76" fill="#3a02ba"/>
<rect x="182.76" y="656.69" width="9.76" height="9.76" fill="#b8246a"/>
<rect x="192.12" y="656.69" width="9.76" height="9.76" fill="#921884"/>
<rect x="201.49" y="656.69" width="9.76" height="9.76" fill="#d25aa0"/>
<rect x="210.85" y="656.69" width="9.76" height="9.76" fill="#d25aa0"/>
<rect x="220.21" y="656.69" width="9.76" height="9.76" fill="#b8246a"/>
<rect x="229.58" y="656.69" width="9.76" height="9.76" fill="#02004e"/>
<rect x="238.94" y="656.69" width="9.76" height="9.76" fill="#b8246a"/>
<rect x="248.30" y="656.69" width="9.76" height="9.76" fill="#e8a0d0"/>
<rect x="257.66" y="656.69" width="9.76" height="9.76" fill="#000078"/>
<rect x="267.02" y="656.69" width="9.76" height="9.76" fill="#02004e"/>
<rect x="276.39" y="656.69" width="9.76" height="9.76" fill="#3a02ba"/>
<rect x="285.75" y="656.69" width="9.76" height="9.76" fill="#e8a0d0"/>
<rect x="295.11" y="656.69" width="9.76" height="9.76" fill="#c83c76"/>
<rect x="304.48" y="656.69" width="9.76" height="9.76" fill="#1000d4"/>
<rect x="313.84" y="656.69" width="9.76" height="9.76" fill="#1000d4"/>
<rect x="173.40" y="666.05" width="9.76" height="9.76" fill="#fff8fc"/>
<rect x="182.76" y="666.05" width="9.76" height="9.76" fill="#0400ac"/>
<rect x="192.12" y="666.05" width="9.76" height="9.76" fill="#0400ac"/>
<rect x="201.49" y="666.05" width="9.76" height="9.76" fill="#1000d4"/>
<rect x="210.85" y="666.05" width="9.76" height="9.76" fill="#921884"/>
<rect x="220.21" y="666.05" width="9.76" height="9.76" fill="#000078"/>
<rect x="229.58" y="666.05" width="9.76" height="9.76" fill="#921884"/>
<rect x="238.94" y="666.05" width="9.76" height="9.76" fill="#921884"/>
<rect x="248.30" y="666.05" width="9.76" height="9.76" fill="#e8a0d0"/>
<rect x="257.66" y="666.05" width="9.76" height="9.76" fill="#d25aa0"/>
<rect x="267.02" y="666.05" width="9.76" height="9.76" fill="#b8246a"/>
<rect x="276.39" y="666.05" width="9.76" height="9.76" fill="#d25aa0"/>
<rect x="285.75" y="666.05" width="9.76" height="9.76" fill="#fff8fc"/>
<rect x="295.11" y="666.05" width="9.76" height="9.76" fill="#1000d4"/>
<rect x="304.48" y="666.05" width="9.76" height="9.76" fill="#000078"/>
<rect x="313.84" y="666.05" width="9.76" height="9.76" fill="#921884"/>
<rect x="173.40" y="675.41" width="9.76" height="9.76" fill="#0400ac"/>
<rect x="182.76" y="675.41" width="9.76" height="9.76" fill="#02004e"/>
<rect x="192.12" y="675.41" width="9.76" height="9.76" fill="#921884"/>
<rect x="201.49" y="675.41" width="9.76" height="9.76" fill="#921884"/>
<rect x="210.85" y="675.41" width="9.76" height="9.76" fill="#6a089a"/>
<rect x="220.21" y="675.41" width="9.76" height="9.76" fill="#c83c76"/>
<rect x="229.58" y="675.41" width="9.76" height="9.76" fill="#000078"/>
<rect x="238.94" y="675.41" width="9.76" height="9.76" fill="#c83c76"/>
<rect x="248.30" y="675.41" width="9.76" height="9.76" fill="#1000d4"/>
<rect x="257.66" y="675.41" width="9.76" height="9.76" fill="#000000"/>
<rect x="267.02" y="675.41" width="9.76" height="9.76" fill="#000000"/>
<rect x="276.39" y="675.41" width="9.76" height="9.76" fill="#0400ac"/>
<rect x="285.75" y="675.41" width="9.76" height="9.76" fill="#1000d4"/>
<rect x="295.11" y="675.41" width="9.76" height="9.76" fill="#02004e"/>
<rect x="304.48" y="675.41" width="9.76" height="9.76" fill="#b8246a"/>
<rect x="313.84" y="675.41" width="9.76" height="9.76" fill="#3a02ba"/>
<rect x="173.40" y="684.78" width="9.76" height="9.76" fill="#6a089a"/>
<rect x="182.76" y="684.78" width="9.76" height="9.76" fill="#000000"/>
<rect x="192.12" y="684.78" width="9.76" height="9.76" fill="#c83c76"/>
<rect x="201.49" y="684.78" width="9.76" height="9.76" fill="#1000d4"/>
<rect x="210.85" y="684.78" width="9.76" height="9.76" fill="#000000"/>
<rect x="220.21" y="684.78" width="9.76" height="9.76" fill="#1000d4"/>
<rect x="229.58" y="684.78" width="9.76" height="9.76" fill="#f8d8ee"/>
<rect x="238.94" y="684.78" width="9.76" height="9.76" fill="#d25aa0"/>
<rect x="248.30" y="684.78" width="9.76" height="9.76" fill="#921884"/>
<rect x="257.66" y="684.78" width="9.76" height="9.76" fill="#921884"/>
<rect x="267.02" y="684.78" width="9.76" height="9.76" fill="#000000"/>
<rect x="276.39" y="684.78" width="9.76" height="9.76" fill="#02004e"/>
<rect x="285.75" y="684.78" width="9.76" height="9.76" fill="#1000d4"/>
<rect x="295.11" y="684.78" width="9.76" height="9.76" fill="#fff8fc"/>
<rect x="304.48" y="684.78" width="9.76" height="9.76" fill="#fff8fc"/>
<rect x="313.84" y="684.78" width="9.76" height="9.76" fill="#000078"/>
<rect x="173.40" y="694.14" width="9.76" height="9.76" fill="#0400ac"/>
<rect x="182.76" y="694.14" width="9.76" height="9.76" fill="#000000"/>
<rect x="192.12" y="694.14" width="9.76" height="9.76" fill="#921884"/>
<rect x="201.49" y="694.14" width="9.76" height="9.76" fill="#1000d4"/>
<rect x="210.85" y="694.14" width="9.76" height="9.76" fill="#1000d4"/>
<rect x="220.21" y="694.14" width="9.76" height="9.76" fill="#0400ac"/>
<rect x="229.58" y="694.14" width="9.76" height="9.76" fill="#000078"/>
<rect x="238.94" y="694.14" width="9.76" height="9.76" fill="#6a089a"/>
<rect x="248.30" y="694.14" width="9.76" height="9.76" fill="#6a089a"/>
<rect x="257.66" y="694.14" width="9.76" height="9.76" fill="#1000d4"/>
<rect x="267.02" y="694.14" width="9.76" height="9.76" fill="#0400ac"/>
<rect x="276.39" y="694.14" width="9.76" height="9.76" fill="#0400ac"/>
<rect x="285.75" y="694.14" width="9.76" height="9.76" fill="#c83c76"/>
<rect x="295.11" y="694.14" width="9.76" height="9.76" fill="#b8246a"/>
<rect x="304.48" y="694.14" width="9.76" height="9.76" fill="#000000"/>
<rect x="313.84" y="694.14" width="9.76" height="9.76" fill="#3a02ba"/>
</g>
<g shape-rendering="crispEdges">
<rect x="331.60" y="553.70" width="9.76" height="9.76" fill="#1000d4"/>
<rect x="340.96" y="553.70" width="9.76" height="9.76" fill="#000000"/>
<rect x="350.33" y="553.70" width="9.76" height="9.76" fill="#6a089a"/>
<rect x="359.69" y="553.70" width="9.76" height="9.76" fill="#0400ac"/>
<rect x="369.05" y="553.70" width="9.76" height="9.76" fill="#0400ac"/>
<rect x="378.41" y="553.70" width="9.76" height="9.76" fill="#000078"/>
<rect x="387.78" y="553.70" width="9.76" height="9.76" fill="#3a02ba"/>
<rect x="397.14" y="553.70" width="9.76" height="9.76" fill="#000000"/>
<rect x="406.50" y="553.70" width="9.76" height="9.76" fill="#02004e"/>
<rect x="415.86" y="553.70" width="9.76" height="9.76" fill="#000078"/>
<rect x="425.23" y="553.70" width="9.76" height="9.76" fill="#000000"/>
<rect x="434.59" y="553.70" width="9.76" height="9.76" fill="#c83c76"/>
<rect x="443.95" y="553.70" width="9.76" height="9.76" fill="#000000"/>
<rect x="453.31" y="553.70" width="9.76" height="9.76" fill="#1000d4"/>
<rect x="462.68" y="553.70" width="9.76" height="9.76" fill="#000000"/>
<rect x="472.04" y="553.70" width="9.76" height="9.76" fill="#02004e"/>
<rect x="331.60" y="563.06" width="9.76" height="9.76" fill="#3a02ba"/>
<rect x="340.96" y="563.06" width="9.76" height="9.76" fill="#000000"/>
<rect x="350.33" y="563.06" width="9.76" height="9.76" fill="#6a089a"/>
<rect x="359.69" y="563.06" width="9.76" height="9.76" fill="#1000d4"/>
<rect x="369.05" y="563.06" width="9.76" height="9.76" fill="#000000"/>
<rect x="378.41" y="563.06" width="9.76" height="9.76" fill="#3a02ba"/>
<rect x="387.78" y="563.06" width="9.76" height="9.76" fill="#0400ac"/>
<rect x="397.14" y="563.06" width="9.76" height="9.76" fill="#3a02ba"/>
<rect x="406.50" y="563.06" width="9.76" height="9.76" fill="#000078"/>
<rect x="415.86" y="563.06" width="9.76" height="9.76" fill="#921884"/>
<rect x="425.23" y="563.06" width="9.76" height="9.76" fill="#000078"/>
<rect x="434.59" y="563.06" width="9.76" height="9.76" fill="#000000"/>
<rect x="443.95" y="563.06" width="9.76" height="9.76" fill="#000000"/>
<rect x="453.31" y="563.06" width="9.76" height="9.76" fill="#000000"/>
<rect x="462.68" y="563.06" width="9.76" height="9.76" fill="#02004e"/>
<rect x="472.04" y="563.06" width="9.76" height="9.76" fill="#000000"/>
<rect x="331.60" y="572.43" width="9.76" height="9.76" fill="#02004e"/>
<rect x="340.96" y="572.43" width="9.76" height="9.76" fill="#1000d4"/>
<rect x="350.33" y="572.43" width="9.76" height="9.76" fill="#02004e"/>
<rect x="359.69" y="572.43" width="9.76" height="9.76" fill="#921884"/>
<rect x="369.05" y="572.43" width="9.76" height="9.76" fill="#000078"/>
<rect x="378.41" y="572.43" width="9.76" height="9.76" fill="#02004e"/>
<rect x="387.78" y="572.43" width="9.76" height="9.76" fill="#0400ac"/>
<rect x="397.14" y="572.43" width="9.76" height="9.76" fill="#1000d4"/>
<rect x="406.50" y="572.43" width="9.76" height="9.76" fill="#000000"/>
<rect x="415.86" y="572.43" width="9.76" height="9.76" fill="#0400ac"/>
<rect x="425.23" y="572.43" width="9.76" height="9.76" fill="#0400ac"/>
<rect x="434.59" y="572.43" width="9.76" height="9.76" fill="#1000d4"/>
<rect x="443.95" y="572.43" width="9.76" height="9.76" fill="#000000"/>
<rect x="453.31" y="572.43" width="9.76" height="9.76" fill="#000000"/>
<rect x="462.68" y="572.43" width="9.76" height="9.76" fill="#3a02ba"/>
<rect x="472.04" y="572.43" width="9.76" height="9.76" fill="#0400ac"/>
<rect x="331.60" y="581.79" width="9.76" height="9.76" fill="#02004e"/>
<rect x="340.96" y="581.79" width="9.76" height="9.76" fill="#000078"/>
<rect x="350.33" y="581.79" width="9.76" height="9.76" fill="#02004e"/>
<rect x="359.69" y="581.79" width="9.76" height="9.76" fill="#000000"/>
<rect x="369.05" y="581.79" width="9.76" height="9.76" fill="#000000"/>
<rect x="378.41" y="581.79" width="9.76" height="9.76" fill="#000000"/>
<rect x="387.78" y="581.79" width="9.76" height="9.76" fill="#000000"/>
<rect x="397.14" y="581.79" width="9.76" height="9.76" fill="#02004e"/>
<rect x="406.50" y="581.79" width="9.76" height="9.76" fill="#1000d4"/>
<rect x="415.86" y="581.79" width="9.76" height="9.76" fill="#0400ac"/>
<rect x="425.23" y="581.79" width="9.76" height="9.76" fill="#0400ac"/>
<rect x="434.59" y="581.79" width="9.76" height="9.76" fill="#02004e"/>
<rect x="443.95" y="581.79" width="9.76" height="9.76" fill="#1000d4"/>
<rect x="453.31" y="581.79" width="9.76" height="9.76" fill="#000000"/>
<rect x="462.68" y="581.79" width="9.76" height="9.76" fill="#000000"/>
<rect x="472.04" y="581.79" width="9.76" height="9.76" fill="#000078"/>
<rect x="331.60" y="591.15" width="9.76" height="9.76" fill="#3a02ba"/>
<rect x="340.96" y="591.15" width="9.76" height="9.76" fill="#000000"/>
<rect x="350.33" y="591.15" width="9.76" height="9.76" fill="#000078"/>
<rect x="359.69" y="591.15" width="9.76" height="9.76" fill="#000000"/>
<rect x="369.05" y="591.15" width="9.76" height="9.76" fill="#000000"/>
<rect x="378.41" y="591.15" width="9.76" height="9.76" fill="#000000"/>
<rect x="387.78" y="591.15" width="9.76" height="9.76" fill="#02004e"/>
<rect x="397.14" y="591.15" width="9.76" height="9.76" fill="#0400ac"/>
<rect x="406.50" y="591.15" width="9.76" height="9.76" fill="#000078"/>
<rect x="415.86" y="591.15" width="9.76" height="9.76" fill="#0400ac"/>
<rect x="425.23" y="591.15" width="9.76" height="9.76" fill="#6a089a"/>
<rect x="434.59" y="591.15" width="9.76" height="9.76" fill="#000000"/>
<rect x="443.95" y="591.15" width="9.76" height="9.76" fill="#f8d8ee"/>
<rect x="453.31" y="591.15" width="9.76" height="9.76" fill="#c83c76"/>
<rect x="462.68" y="591.15" width="9.76" height="9.76" fill="#02004e"/>
<rect x="472.04" y="591.15" width="9.76" height="9.76" fill="#000078"/>
<rect x="331.60" y="600.51" width="9.76" height="9.76" fill="#0400ac"/>
<rect x="340.96" y="600.51" width="9.76" height="9.76" fill="#6a089a"/>
<rect x="350.33" y="600.51" width="9.76" height="9.76" fill="#1000d4"/>
<rect x="359.69" y="600.51" width="9.76" height="9.76" fill="#000000"/>
<rect x="369.05" y="600.51" width="9.76" height="9.76" fill="#000000"/>
<rect x="378.41" y="600.51" width="9.76" height="9.76" fill="#000000"/>
<rect x="387.78" y="600.51" width="9.76" height="9.76" fill="#02004e"/>
<rect x="397.14" y="600.51" width="9.76" height="9.76" fill="#000000"/>
<rect x="406.50" y="600.51" width="9.76" height="9.76" fill="#000078"/>
<rect x="415.86" y="600.51" width="9.76" height="9.76" fill="#02004e"/>
<rect x="425.23" y="600.51" width="9.76" height="9.76" fill="#1000d4"/>
<rect x="434.59" y="600.51" width="9.76" height="9.76" fill="#3a02ba"/>
<rect x="443.95" y="600.51" width="9.76" height="9.76" fill="#b8246a"/>
<rect x="453.31" y="600.51" width="9.76" height="9.76" fill="#000000"/>
<rect x="462.68" y="600.51" width="9.76" height="9.76" fill="#000078"/>
<rect x="472.04" y="600.51" width="9.76" height="9.76" fill="#0400ac"/>
<rect x="331.60" y="609.88" width="9.76" height="9.76" fill="#02004e"/>
<rect x="340.96" y="609.88" width="9.76" height="9.76" fill="#1000d4"/>
<rect x="350.33" y="609.88" width="9.76" height="9.76" fill="#e8a0d0"/>
<rect x="359.69" y="609.88" width="9.76" height="9.76" fill="#000000"/>
<rect x="369.05" y="609.88" width="9.76" height="9.76" fill="#000000"/>
<rect x="378.41" y="609.88" width="9.76" height="9.76" fill="#000000"/>
<rect x="387.78" y="609.88" width="9.76" height="9.76" fill="#02004e"/>
<rect x="397.14" y="609.88" width="9.76" height="9.76" fill="#000000"/>
<rect x="406.50" y="609.88" width="9.76" height="9.76" fill="#000078"/>
<rect x="415.86" y="609.88" width="9.76" height="9.76" fill="#000000"/>
<rect x="425.23" y="609.88" width="9.76" height="9.76" fill="#0400ac"/>
<rect x="434.59" y="609.88" width="9.76" height="9.76" fill="#02004e"/>
<rect x="443.95" y="609.88" width="9.76" height="9.76" fill="#e8a0d0"/>
<rect x="453.31" y="609.88" width="9.76" height="9.76" fill="#02004e"/>
<rect x="462.68" y="609.88" width="9.76" height="9.76" fill="#1000d4"/>
<rect x="472.04" y="609.88" width="9.76" height="9.76" fill="#1000d4"/>
<rect x="331.60" y="619.24" width="9.76" height="9.76" fill="#b8246a"/>
<rect x="340.96" y="619.24" width="9.76" height="9.76" fill="#02004e"/>
<rect x="350.33" y="619.24" width="9.76" height="9.76" fill="#000000"/>
<rect x="359.69" y="619.24" width="9.76" height="9.76" fill="#000000"/>
<rect x="369.05" y="619.24" width="9.76" height="9.76" fill="#000000"/>
<rect x="378.41" y="619.24" width="9.76" height="9.76" fill="#000000"/>
<rect x="387.78" y="619.24" width="9.76" height="9.76" fill="#3a02ba"/>
<rect x="397.14" y="619.24" width="9.76" height="9.76" fill="#000000"/>
<rect x="406.50" y="619.24" width="9.76" height="9.76" fill="#3a02ba"/>
<rect x="415.86" y="619.24" width="9.76" height="9.76" fill="#000078"/>
<rect x="425.23" y="619.24" width="9.76" height="9.76" fill="#000000"/>
<rect x="434.59" y="619.24" width="9.76" height="9.76" fill="#1000d4"/>
<rect x="443.95" y="619.24" width="9.76" height="9.76" fill="#000000"/>
<rect x="453.31" y="619.24" width="9.76" height="9.76" fill="#000000"/>
<rect x="462.68" y="619.24" width="9.76" height="9.76" fill="#000000"/>
<rect x="472.04" y="619.24" width="9.76" height="9.76" fill="#0400ac"/>
<rect x="331.60" y="628.60" width="9.76" height="9.76" fill="#1000d4"/>
<rect x="340.96" y="628.60" width="9.76" height="9.76" fill="#000000"/>
<rect x="350.33" y="628.60" width="9.76" height="9.76" fill="#0400ac"/>
<rect x="359.69" y="628.60" width="9.76" height="9.76" fill="#000000"/>
<rect x="369.05" y="628.60" width="9.76" height="9.76" fill="#000000"/>
<rect x="378.41" y="628.60" width="9.76" height="9.76" fill="#000000"/>
<rect x="387.78" y="628.60" width="9.76" height="9.76" fill="#0400ac"/>
<rect x="397.14" y="628.60" width="9.76" height="9.76" fill="#02004e"/>
<rect x="406.50" y="628.60" width="9.76" height="9.76" fill="#0400ac"/>
<rect x="415.86" y="628.60" width="9.76" height="9.76" fill="#02004e"/>
<rect x="425.23" y="628.60" width="9.76" height="9.76" fill="#000000"/>
<rect x="434.59" y="628.60" width="9.76" height="9.76" fill="#02004e"/>
<rect x="443.95" y="628.60" width="9.76" height="9.76" fill="#3a02ba"/>
<rect x="453.31" y="628.60" width="9.76" height="9.76" fill="#1000d4"/>
<rect x="462.68" y="628.60" width="9.76" height="9.76" fill="#1000d4"/>
<rect x="472.04" y="628.60" width="9.76" height="9.76" fill="#02004e"/>
<rect x="331.60" y="637.96" width="9.76" height="9.76" fill="#000078"/>
<rect x="340.96" y="637.96" width="9.76" height="9.76" fill="#000078"/>
<rect x="350.33" y="637.96" width="9.76" height="9.76" fill="#000078"/>
<rect x="359.69" y="637.96" width="9.76" height="9.76" fill="#000000"/>
<rect x="369.05" y="637.96" width="9.76" height="9.76" fill="#000000"/>
<rect x="378.41" y="637.96" width="9.76" height="9.76" fill="#000000"/>
<rect x="387.78" y="637.96" width="9.76" height="9.76" fill="#000000"/>
<rect x="397.14" y="637.96" width="9.76" height="9.76" fill="#1000d4"/>
<rect x="406.50" y="637.96" width="9.76" height="9.76" fill="#000000"/>
<rect x="415.86" y="637.96" width="9.76" height="9.76" fill="#000078"/>
<rect x="425.23" y="637.96" width="9.76" height="9.76" fill="#000078"/>
<rect x="434.59" y="637.96" width="9.76" height="9.76" fill="#0400ac"/>
<rect x="443.95" y="637.96" width="9.76" height="9.76" fill="#000000"/>
<rect x="453.31" y="637.96" width="9.76" height="9.76" fill="#1000d4"/>
<rect x="462.68" y="637.96" width="9.76" height="9.76" fill="#000078"/>
<rect x="472.04" y="637.96" width="9.76" height="9.76" fill="#000000"/>
<rect x="331.60" y="647.33" width="9.76" height="9.76" fill="#000000"/>
<rect x="340.96" y="647.33" width="9.76" height="9.76" fill="#000000"/>
<rect x="350.33" y="647.33" width="9.76" height="9.76" fill="#1000d4"/>
<rect x="359.69" y="647.33" width="9.76" height="9.76" fill="#000000"/>
<rect x="369.05" y="647.33" width="9.76" height="9.76" fill="#000000"/>
<rect x="378.41" y="647.33" width="9.76" height="9.76" fill="#0400ac"/>
<rect x="387.78" y="647.33" width="9.76" height="9.76" fill="#1000d4"/>
<rect x="397.14" y="647.33" width="9.76" height="9.76" fill="#0400ac"/>
<rect x="406.50" y="647.33" width="9.76" height="9.76" fill="#1000d4"/>
<rect x="415.86" y="647.33" width="9.76" height="9.76" fill="#000000"/>
<rect x="425.23" y="647.33" width="9.76" height="9.76" fill="#3a02ba"/>
<rect x="434.59" y="647.33" width="9.76" height="9.76" fill="#1000d4"/>
<rect x="443.95" y="647.33" width="9.76" height="9.76" fill="#fff8fc"/>
<rect x="453.31" y="647.33" width="9.76" height="9.76" fill="#000000"/>
<rect x="462.68" y="647.33" width="9.76" height="9.76" fill="#e8a0d0"/>
<rect x="472.04" y="647.33" width="9.76" height="9.76" fill="#3a02ba"/>
<rect x="331.60" y="656.69" width="9.76" height="9.76" fill="#02004e"/>
<rect x="340.96" y="656.69" width="9.76" height="9.76" fill="#000000"/>
<rect x="350.33" y="656.69" width="9.76" height="9.76" fill="#000000"/>
<rect x="359.69" y="656.69" width="9.76" height="9.76" fill="#1000d4"/>
<rect x="369.05" y="656.69" width="9.76" height="9.76" fill="#1000d4"/>
<rect x="378.41" y="656.69" width="9.76" height="9.76" fill="#000000"/>
<rect x="387.78" y="656.69" width="9.76" height="9.76" fill="#000000"/>
<rect x="397.14" y="656.69" width="9.76" height="9.76" fill="#1000d4"/>
<rect x="406.50" y="656.69" width="9.76" height="9.76" fill="#0400ac"/>
<rect x="415.86" y="656.69" width="9.76" height="9.76" fill="#e8a0d0"/>
<rect x="425.23" y="656.69" width="9.76" height="9.76" fill="#3a02ba"/>
<rect x="434.59" y="656.69" width="9.76" height="9.76" fill="#0400ac"/>
<rect x="443.95" y="656.69" width="9.76" height="9.76" fill="#02004e"/>
<rect x="453.31" y="656.69" width="9.76" height="9.76" fill="#d25aa0"/>
<rect x="462.68" y="656.69" width="9.76" height="9.76" fill="#e8a0d0"/>
<rect x="472.04" y="656.69" width="9.76" height="9.76" fill="#000000"/>
<rect x="331.60" y="666.05" width="9.76" height="9.76" fill="#02004e"/>
<rect x="340.96" y="666.05" width="9.76" height="9.76" fill="#000000"/>
<rect x="350.33" y="666.05" width="9.76" height="9.76" fill="#000000"/>
<rect x="359.69" y="666.05" width="9.76" height="9.76" fill="#000000"/>
<rect x="369.05" y="666.05" width="9.76" height="9.76" fill="#1000d4"/>
<rect x="378.41" y="666.05" width="9.76" height="9.76" fill="#02004e"/>
<rect x="387.78" y="666.05" width="9.76" height="9.76" fill="#0400ac"/>
<rect x="397.14" y="666.05" width="9.76" height="9.76" fill="#000078"/>
<rect x="406.50" y="666.05" width="9.76" height="9.76" fill="#000078"/>
<rect x="415.86" y="666.05" width="9.76" height="9.76" fill="#000078"/>
<rect x="425.23" y="666.05" width="9.76" height="9.76" fill="#000000"/>
<rect x="434.59" y="666.05" width="9.76" height="9.76" fill="#1000d4"/>
<rect x="443.95" y="666.05" width="9.76" height="9.76" fill="#02004e"/>
<rect x="453.31" y="666.05" width="9.76" height="9.76" fill="#000000"/>
<rect x="462.68" y="666.05" width="9.76" height="9.76" fill="#d25aa0"/>
<rect x="472.04" y="666.05" width="9.76" height="9.76" fill="#000078"/>
<rect x="331.60" y="675.41" width="9.76" height="9.76" fill="#000078"/>
<rect x="340.96" y="675.41" width="9.76" height="9.76" fill="#0400ac"/>
<rect x="350.33" y="675.41" width="9.76" height="9.76" fill="#000000"/>
<rect x="359.69" y="675.41" width="9.76" height="9.76" fill="#b8246a"/>
<rect x="369.05" y="675.41" width="9.76" height="9.76" fill="#3a02ba"/>
<rect x="378.41" y="675.41" width="9.76" height="9.76" fill="#000000"/>
<rect x="387.78" y="675.41" width="9.76" height="9.76" fill="#000078"/>
<rect x="397.14" y="675.41" width="9.76" height="9.76" fill="#6a089a"/>
<rect x="406.50" y="675.41" width="9.76" height="9.76" fill="#000078"/>
<rect x="415.86" y="675.41" width="9.76" height="9.76" fill="#1000d4"/>
<rect x="425.23" y="675.41" width="9.76" height="9.76" fill="#02004e"/>
<rect x="434.59" y="675.41" width="9.76" height="9.76" fill="#000000"/>
<rect x="443.95" y="675.41" width="9.76" height="9.76" fill="#3a02ba"/>
<rect x="453.31" y="675.41" width="9.76" height="9.76" fill="#e8a0d0"/>
<rect x="462.68" y="675.41" width="9.76" height="9.76" fill="#02004e"/>
<rect x="472.04" y="675.41" width="9.76" height="9.76" fill="#02004e"/>
<rect x="331.60" y="684.78" width="9.76" height="9.76" fill="#000000"/>
<rect x="340.96" y="684.78" width="9.76" height="9.76" fill="#6a089a"/>
<rect x="350.33" y="684.78" width="9.76" height="9.76" fill="#921884"/>
<rect x="359.69" y="684.78" width="9.76" height="9.76" fill="#1000d4"/>
<rect x="369.05" y="684.78" width="9.76" height="9.76" fill="#3a02ba"/>
<rect x="378.41" y="684.78" width="9.76" height="9.76" fill="#02004e"/>
<rect x="387.78" y="684.78" width="9.76" height="9.76" fill="#921884"/>
<rect x="397.14" y="684.78" width="9.76" height="9.76" fill="#3a02ba"/>
<rect x="406.50" y="684.78" width="9.76" height="9.76" fill="#1000d4"/>
<rect x="415.86" y="684.78" width="9.76" height="9.76" fill="#1000d4"/>
<rect x="425.23" y="684.78" width="9.76" height="9.76" fill="#b8246a"/>
<rect x="434.59" y="684.78" width="9.76" height="9.76" fill="#0400ac"/>
<rect x="443.95" y="684.78" width="9.76" height="9.76" fill="#fff8fc"/>
<rect x="453.31" y="684.78" width="9.76" height="9.76" fill="#000000"/>
<rect x="462.68" y="684.78" width="9.76" height="9.76" fill="#b8246a"/>
<rect x="472.04" y="684.78" width="9.76" height="9.76" fill="#02004e"/>
<rect x="331.60" y="694.14" width="9.76" height="9.76" fill="#000000"/>
<rect x="340.96" y="694.14" width="9.76" height="9.76" fill="#000078"/>
<rect x="350.33" y="694.14" width="9.76" height="9.76" fill="#02004e"/>
<rect x="359.69" y="694.14" width="9.76" height="9.76" fill="#0400ac"/>
<rect x="369.05" y="694.14" width="9.76" height="9.76" fill="#1000d4"/>
<rect x="378.41" y="694.14" width="9.76" height="9.76" fill="#c83c76"/>
<rect x="387.78" y="694.14" width="9.76" height="9.76" fill="#000000"/>
<rect x="397.14" y="694.14" width="9.76" height="9.76" fill="#000000"/>
<rect x="406.50" y="694.14" width="9.76" height="9.76" fill="#02004e"/>
<rect x="415.86" y="694.14" width="9.76" height="9.76" fill="#02004e"/>
<rect x="425.23" y="694.14" width="9.76" height="9.76" fill="#000000"/>
<rect x="434.59" y="694.14" width="9.76" height="9.76" fill="#000000"/>
<rect x="443.95" y="694.14" width="9.76" height="9.76" fill="#e8a0d0"/>
<rect x="453.31" y="694.14" width="9.76" height="9.76" fill="#02004e"/>
<rect x="462.68" y="694.14" width="9.76" height="9.76" fill="#d25aa0"/>
<rect x="472.04" y="694.14" width="9.76" height="9.76" fill="#921884"/>
</g>
<path d="M14.8 713.5999999999999 V708.8 H163.0 V713.5999999999999" fill="none" stroke="#000" stroke-width="2"/>
<text transform="translate(16.4,725.3) scale(1.02,1.0)" font-size="15" text-anchor="middle" >0</text>
<text transform="translate(165.0,725.3) scale(1.02,1.045)" font-size="15" text-anchor="end" >40 μm</text>
<path d="M173.8 713.5999999999999 V708.8 H322.0 V713.5999999999999" fill="none" stroke="#000" stroke-width="2"/>
<text transform="translate(175.4,725.3) scale(1.02,1.0)" font-size="15" text-anchor="middle" >0</text>
<text transform="translate(324.0,725.3) scale(1.02,1.045)" font-size="15" text-anchor="end" >40 μm</text>
<path d="M332.0 713.5999999999999 V708.8 H480.20000000000005 V713.5999999999999" fill="none" stroke="#000" stroke-width="2"/>
<text transform="translate(333.6,725.3) scale(1.02,1.0)" font-size="15" text-anchor="middle" >0</text>
<text transform="translate(482.20000000000005,725.3) scale(1.02,1.045)" font-size="15" text-anchor="end" >40 μm</text>
<rect x="508" y="592.6" width="8.2" height="76.6" fill="url(#cb)" stroke="#555" stroke-width="0.8"/>
<text transform="translate(493.8,582.4) scale(1.02,1.045)" font-size="15" text-anchor="start" >1 MPa</text>
<text transform="translate(484.2,692.4) scale(1.02,1.045)" font-size="15" text-anchor="start" >-0.1 MPa</text>
<g shape-rendering="crispEdges">
<rect x="52.90" y="812.10" width="1.89" height="29.90" fill="#2f7bc6"/>
<rect x="55.00" y="803.22" width="1.89" height="38.78" fill="#2f7bc6"/>
<rect x="57.10" y="792.51" width="1.89" height="49.49" fill="#2f7bc6"/>
<rect x="59.20" y="785.44" width="1.89" height="56.56" fill="#2f7bc6"/>
<rect x="61.30" y="766.25" width="1.89" height="75.75" fill="#2f7bc6"/>
<rect x="63.40" y="785.44" width="1.89" height="56.56" fill="#2f7bc6"/>
<rect x="65.50" y="787.46" width="1.89" height="54.54" fill="#2f7bc6"/>
<rect x="67.60" y="766.25" width="1.89" height="75.75" fill="#2f7bc6"/>
<rect x="69.70" y="769.28" width="1.89" height="72.72" fill="#2f7bc6"/>
<rect x="71.80" y="751.10" width="1.89" height="90.90" fill="#2f7bc6"/>
<rect x="73.90" y="766.25" width="1.89" height="75.75" fill="#2f7bc6"/>
<rect x="76.00" y="771.30" width="1.89" height="70.70" fill="#2f7bc6"/>
<rect x="78.10" y="802.61" width="1.89" height="39.39" fill="#2f7bc6"/>
<rect x="80.20" y="787.46" width="1.89" height="54.54" fill="#2f7bc6"/>
<rect x="82.30" y="807.66" width="1.89" height="34.34" fill="#2f7bc6"/>
<rect x="84.40" y="827.86" width="1.89" height="14.14" fill="#2f7bc6"/>
<rect x="86.50" y="797.56" width="1.89" height="44.44" fill="#2f7bc6"/>
<rect x="88.60" y="797.56" width="1.89" height="44.44" fill="#2f7bc6"/>
<rect x="90.70" y="822.81" width="1.89" height="19.19" fill="#2f7bc6"/>
<rect x="92.80" y="827.86" width="1.89" height="14.14" fill="#2f7bc6"/>
<rect x="94.90" y="822.81" width="1.89" height="19.19" fill="#2f7bc6"/>
<rect x="97.00" y="832.91" width="1.89" height="9.09" fill="#2f7bc6"/>
<rect x="99.10" y="837.96" width="1.89" height="4.04" fill="#2f7bc6"/>
<rect x="101.20" y="837.96" width="1.89" height="4.04" fill="#2f7bc6"/>
<rect x="103.30" y="832.91" width="1.89" height="9.09" fill="#2f7bc6"/>
<rect x="105.40" y="837.96" width="1.89" height="4.04" fill="#2f7bc6"/>
<rect x="107.50" y="838.97" width="1.89" height="3.03" fill="#2f7bc6"/>
<rect x="109.60" y="812.71" width="1.89" height="29.29" fill="#2f7bc6"/>
<rect x="111.70" y="838.97" width="1.89" height="3.03" fill="#2f7bc6"/>
<rect x="113.80" y="838.97" width="1.89" height="3.03" fill="#2f7bc6"/>
<rect x="115.90" y="838.97" width="1.89" height="3.03" fill="#2f7bc6"/>
<rect x="118.00" y="838.97" width="1.89" height="3.03" fill="#2f7bc6"/>
<rect x="120.10" y="827.86" width="1.89" height="14.14" fill="#2f7bc6"/>
<rect x="122.20" y="838.97" width="1.89" height="3.03" fill="#2f7bc6"/>
<rect x="124.30" y="838.97" width="1.89" height="3.03" fill="#2f7bc6"/>
<rect x="126.40" y="838.97" width="1.89" height="3.03" fill="#2f7bc6"/>
<rect x="163.73" y="837.96" width="1.50" height="4.04" fill="#2f7bc6"/>
<rect x="165.41" y="837.96" width="1.50" height="4.04" fill="#2f7bc6"/>
<rect x="172.12" y="837.96" width="1.50" height="4.04" fill="#2f7bc6"/>
</g>
<polyline points="52.10,801.83 52.94,799.76 53.78,797.70 54.62,795.65 55.46,793.63 56.30,791.64 57.14,789.70 57.98,787.82 58.81,786.02 59.65,784.30 60.49,782.69 61.33,781.19 62.17,779.81 63.01,778.57 63.85,777.47 64.69,776.53 65.53,775.75 66.37,775.13 67.21,774.69 68.05,774.42 68.89,774.33 69.73,774.42 70.57,774.69 71.40,775.13 72.24,775.75 73.08,776.53 73.92,777.47 74.76,778.57 75.60,779.81 76.44,781.19 77.28,782.69 78.12,784.30 78.96,786.02 79.80,787.82 80.64,789.70 81.48,791.64 82.32,793.63 83.16,795.65 83.99,797.70 84.83,799.76 85.67,801.83 86.51,803.88 87.35,805.91 88.19,807.90 89.03,809.86 89.87,811.77 90.71,813.63 91.55,815.42 92.39,817.15 93.23,818.80 94.07,820.39 94.91,821.89 95.75,823.32 96.58,824.67 97.42,825.93 98.26,827.12 99.10,828.23 99.94,829.26 100.78,830.22 101.62,831.11 102.46,831.92 103.30,832.67 104.14,833.35 104.98,833.98 105.82,834.54 106.66,835.06 107.50,835.52 108.34,835.94 109.17,836.31 110.01,836.65 110.85,836.94 111.69,837.21 112.53,837.44 113.37,837.65 114.21,837.83 115.05,837.99 115.89,838.13 116.73,838.25 117.57,838.36 118.41,838.45 119.25,838.53 120.09,838.60 120.93,838.66 121.76,838.71 122.60,838.75 123.44,838.78 124.28,838.82 125.12,838.84 125.96,838.86 126.80,838.88 127.64,838.90 128.48,838.91 129.32,838.92 130.16,838.93 131.00,838.94 131.84,838.94 132.68,838.95 133.52,838.95 134.35,838.96 135.19,838.96 136.03,838.96 136.87,838.96 137.71,838.96 138.55,838.97 139.39,838.97 140.23,838.97 141.07,838.97 141.91,838.97 142.75,838.97 143.59,838.97 144.43,838.97 145.27,838.97 146.11,838.97 146.94,838.97 147.78,838.97 148.62,838.97 149.46,838.97 150.30,838.97 151.14,838.97 151.98,838.97 152.82,838.97 153.66,838.97 154.50,838.97 155.34,838.97 156.18,838.97 157.02,838.97 157.86,838.97 158.70,838.97 159.53,838.97 160.37,838.97 161.21,838.97 162.05,838.97 162.89,838.97 163.73,838.97 164.57,838.97 165.41,838.97 166.25,838.97 167.09,838.97 167.93,838.97 168.77,838.97 169.61,838.97 170.45,838.97 171.29,838.97 172.12,838.97 172.96,838.97 173.80,838.97 174.64,838.97 175.48,838.97 176.32,838.97 177.16,838.97 178.00,838.97" fill="none" stroke="#000" stroke-width="1.4"/>
<line x1="68.9" y1="739.8" x2="68.9" y2="843" stroke="#f01418" stroke-width="2.4" stroke-dasharray="2.8 1.4 7 1.6 7 1.6 7 1.6 7 1.6 7 1.6 7 1.6 7 1.6 7 1.6 7 1.6 7 1.6 7 1.6 7 1.6 7 1.6"/>
<rect x="52.1" y="735.3" width="125.9" height="107.70000000000005" fill="none" stroke="#444" stroke-width="1.2"/>
<text transform="translate(75,752.3) scale(1.02,1.045)" font-size="15" text-anchor="start" >0.20 MPa</text>
<text transform="translate(115.4,822.5) scale(1.02,1.045)" font-size="15" text-anchor="start" >Control</text>
<text transform="translate(48.3,745.2) scale(1.02,1.0)" font-size="15" text-anchor="end" >10</text>
<text transform="translate(48.3,795.7) scale(1.02,1.0)" font-size="15" text-anchor="end" >5</text>
<text transform="translate(48.3,845.9) scale(1.02,1.0)" font-size="15" text-anchor="end" >0</text>
<text transform="translate(51.9,859.8) scale(1.02,1.0)" font-size="15" text-anchor="middle" >0</text>
<text transform="translate(92.8,859.8) scale(1.02,1.0)" font-size="15" text-anchor="middle" >0.5</text>
<text transform="translate(132.7,859.8) scale(1.02,1.0)" font-size="15" text-anchor="middle" >1</text>
<text transform="translate(178,859.8) scale(1.02,1.0)" font-size="15" text-anchor="middle" >1.5</text>
<text font-size="15" text-anchor="middle" transform="translate(37.0,797) rotate(-90) scale(1,1.045)">Counts</text>
<text transform="translate(14.2,875) scale(1.02,1.045)" font-size="15" text-anchor="start" >Young’s modulus (MPa)</text>
<g shape-rendering="crispEdges">
<rect x="224.60" y="817.52" width="2.08" height="24.48" fill="#2f7bc6"/>
<rect x="226.96" y="801.20" width="2.08" height="40.80" fill="#2f7bc6"/>
<rect x="229.32" y="822.62" width="2.08" height="19.38" fill="#2f7bc6"/>
<rect x="231.68" y="801.20" width="2.08" height="40.80" fill="#2f7bc6"/>
<rect x="234.04" y="756.32" width="2.08" height="85.68" fill="#2f7bc6"/>
<rect x="236.40" y="801.20" width="2.08" height="40.80" fill="#2f7bc6"/>
<rect x="238.76" y="741.02" width="2.08" height="100.98" fill="#2f7bc6"/>
<rect x="241.12" y="771.62" width="2.08" height="70.38" fill="#2f7bc6"/>
<rect x="243.48" y="771.62" width="2.08" height="70.38" fill="#2f7bc6"/>
<rect x="245.84" y="831.80" width="2.08" height="10.20" fill="#2f7bc6"/>
<rect x="248.20" y="796.10" width="2.08" height="45.90" fill="#2f7bc6"/>
<rect x="250.56" y="765.50" width="2.08" height="76.50" fill="#2f7bc6"/>
<rect x="252.92" y="765.50" width="2.08" height="76.50" fill="#2f7bc6"/>
<rect x="255.28" y="761.42" width="2.08" height="80.58" fill="#2f7bc6"/>
<rect x="257.64" y="794.06" width="2.08" height="47.94" fill="#2f7bc6"/>
<rect x="260.00" y="807.32" width="2.08" height="34.68" fill="#2f7bc6"/>
<rect x="262.36" y="807.32" width="2.08" height="34.68" fill="#2f7bc6"/>
<rect x="264.72" y="822.62" width="2.08" height="19.38" fill="#2f7bc6"/>
<rect x="267.08" y="836.90" width="2.08" height="5.10" fill="#2f7bc6"/>
<rect x="269.44" y="822.62" width="2.08" height="19.38" fill="#2f7bc6"/>
<rect x="271.80" y="817.52" width="2.08" height="24.48" fill="#2f7bc6"/>
<rect x="274.16" y="831.80" width="2.08" height="10.20" fill="#2f7bc6"/>
<rect x="276.52" y="836.90" width="2.08" height="5.10" fill="#2f7bc6"/>
<rect x="278.88" y="822.62" width="2.08" height="19.38" fill="#2f7bc6"/>
<rect x="281.24" y="817.52" width="2.08" height="24.48" fill="#2f7bc6"/>
<rect x="283.60" y="836.90" width="2.08" height="5.10" fill="#2f7bc6"/>
<rect x="285.96" y="836.90" width="2.08" height="5.10" fill="#2f7bc6"/>
<rect x="288.32" y="831.80" width="2.08" height="10.20" fill="#2f7bc6"/>
<rect x="293.04" y="836.90" width="2.08" height="5.10" fill="#2f7bc6"/>
<rect x="307.80" y="831.80" width="1.60" height="10.20" fill="#2f7bc6"/>
<rect x="318.69" y="836.90" width="1.60" height="5.10" fill="#2f7bc6"/>
<rect x="322.88" y="836.90" width="1.60" height="5.10" fill="#2f7bc6"/>
<rect x="324.56" y="836.90" width="1.60" height="5.10" fill="#2f7bc6"/>
<rect x="327.07" y="836.90" width="1.60" height="5.10" fill="#2f7bc6"/>
<rect x="339.64" y="836.90" width="1.60" height="5.10" fill="#2f7bc6"/>
</g>
<polyline points="224.00,812.04 224.84,810.13 225.68,808.16 226.51,806.16 227.35,804.12 228.19,802.05 229.03,799.97 229.87,797.89 230.70,795.81 231.54,793.76 232.38,791.74 233.22,789.76 234.06,787.85 234.89,786.00 235.73,784.24 236.57,782.58 237.41,781.03 238.25,779.60 239.08,778.30 239.92,777.15 240.76,776.15 241.60,775.31 242.44,774.64 243.27,774.14 244.11,773.81 244.95,773.67 245.79,773.70 246.63,773.92 247.46,774.32 248.30,774.89 249.14,775.63 249.98,776.53 250.82,777.60 251.65,778.81 252.49,780.16 253.33,781.64 254.17,783.23 255.01,784.93 255.84,786.73 256.68,788.60 257.52,790.55 258.36,792.54 259.20,794.58 260.03,796.64 260.87,798.72 261.71,800.80 262.55,802.88 263.39,804.94 264.22,806.96 265.06,808.95 265.90,810.90 266.74,812.79 267.58,814.62 268.41,816.38 269.25,818.08 270.09,819.70 270.93,821.24 271.77,822.71 272.60,824.09 273.44,825.40 274.28,826.62 275.12,827.77 275.96,828.83 276.79,829.82 277.63,830.74 278.47,831.58 279.31,832.36 280.15,833.07 280.98,833.72 281.82,834.30 282.66,834.84 283.50,835.32 284.34,835.76 285.17,836.15 286.01,836.50 286.85,836.81 287.69,837.08 288.53,837.33 289.36,837.55 290.20,837.74 291.04,837.90 291.88,838.05 292.72,838.18 293.55,838.29 294.39,838.39 295.23,838.47 296.07,838.54 296.91,838.61 297.74,838.66 298.58,838.70 299.42,838.74 300.26,838.77 301.10,838.80 301.93,838.83 302.77,838.85 303.61,838.86 304.45,838.88 305.29,838.89 306.12,838.90 306.96,838.90 307.80,838.91 308.64,838.92 309.48,838.92 310.31,838.92 311.15,838.93 311.99,838.93 312.83,838.93 313.67,838.93 314.50,838.93 315.34,838.94 316.18,838.94 317.02,838.94 317.86,838.94 318.69,838.94 319.53,838.94 320.37,838.94 321.21,838.94 322.05,838.94 322.88,838.94 323.72,838.94 324.56,838.94 325.40,838.94 326.24,838.94 327.07,838.94 327.91,838.94 328.75,838.94 329.59,838.94 330.43,838.94 331.26,838.94 332.10,838.94 332.94,838.94 333.78,838.94 334.62,838.94 335.45,838.94 336.29,838.94 337.13,838.94 337.97,838.94 338.81,838.94 339.64,838.94 340.48,838.94 341.32,838.94 342.16,838.94 343.00,838.94 343.83,838.94 344.67,838.94 345.51,838.94 346.35,838.94 347.19,838.94 348.02,838.94 348.86,838.94 349.70,838.94" fill="none" stroke="#000" stroke-width="1.4"/>
<line x1="245.2" y1="739.8" x2="245.2" y2="842.6" stroke="#f01418" stroke-width="2.4" stroke-dasharray="2.8 1.4 7 1.6 7 1.6 7 1.6 7 1.6 7 1.6 7 1.6 7 1.6 7 1.6 7 1.6 7 1.6 7 1.6 7 1.6 7 1.6"/>
<rect x="224" y="735.3" width="125.69999999999999" height="107.30000000000007" fill="none" stroke="#444" stroke-width="1.2"/>
<text transform="translate(252.5,752.3) scale(1.02,1.045)" font-size="15" text-anchor="start" >0.25 MPa</text>
<text transform="translate(305.7,822.5) scale(1.02,1.045)" font-size="15" text-anchor="start" >F/T 3</text>
<text transform="translate(220.4,745.0) scale(1.02,1.0)" font-size="15" text-anchor="end" >10</text>
<text transform="translate(220.4,795.5) scale(1.02,1.0)" font-size="15" text-anchor="end" >5</text>
<text transform="translate(220.4,845.9) scale(1.02,1.0)" font-size="15" text-anchor="end" >0</text>
<text transform="translate(223.5,857.3) scale(1.02,1.0)" font-size="15" text-anchor="middle" >0</text>
<text transform="translate(264,857.3) scale(1.02,1.0)" font-size="15" text-anchor="middle" >0.5</text>
<text transform="translate(308.1,857.3) scale(1.02,1.0)" font-size="15" text-anchor="middle" >1</text>
<text transform="translate(349.1,857.3) scale(1.02,1.0)" font-size="15" text-anchor="middle" >1.5</text>
<text font-size="15" text-anchor="middle" transform="translate(208.2,797) rotate(-90) scale(1,1.045)">Counts</text>
<text transform="translate(187,875) scale(1.02,1.045)" font-size="15" text-anchor="start" >Young’s modulus (MPa)</text>
<g shape-rendering="crispEdges">
<rect x="398.70" y="821.60" width="2.08" height="20.40" fill="#2f7bc6"/>
<rect x="401.06" y="827.72" width="2.08" height="14.28" fill="#2f7bc6"/>
<rect x="403.42" y="827.72" width="2.08" height="14.28" fill="#2f7bc6"/>
<rect x="405.78" y="755.30" width="2.08" height="86.70" fill="#2f7bc6"/>
<rect x="408.14" y="784.88" width="2.08" height="57.12" fill="#2f7bc6"/>
<rect x="410.50" y="740.00" width="2.08" height="102.00" fill="#2f7bc6"/>
<rect x="412.86" y="768.56" width="2.08" height="73.44" fill="#2f7bc6"/>
<rect x="415.22" y="761.42" width="2.08" height="80.58" fill="#2f7bc6"/>
<rect x="417.58" y="788.96" width="2.08" height="53.04" fill="#2f7bc6"/>
<rect x="419.94" y="776.72" width="2.08" height="65.28" fill="#2f7bc6"/>
<rect x="422.30" y="784.88" width="2.08" height="57.12" fill="#2f7bc6"/>
<rect x="424.66" y="801.20" width="2.08" height="40.80" fill="#2f7bc6"/>
<rect x="427.02" y="796.10" width="2.08" height="45.90" fill="#2f7bc6"/>
<rect x="429.38" y="806.30" width="2.08" height="35.70" fill="#2f7bc6"/>
<rect x="431.74" y="806.30" width="2.08" height="35.70" fill="#2f7bc6"/>
<rect x="434.10" y="836.90" width="2.08" height="5.10" fill="#2f7bc6"/>
<rect x="436.46" y="821.60" width="2.08" height="20.40" fill="#2f7bc6"/>
<rect x="438.82" y="836.90" width="2.08" height="5.10" fill="#2f7bc6"/>
<rect x="441.18" y="827.72" width="2.08" height="14.28" fill="#2f7bc6"/>
<rect x="445.90" y="836.90" width="2.08" height="5.10" fill="#2f7bc6"/>
<rect x="448.26" y="831.80" width="2.08" height="10.20" fill="#2f7bc6"/>
<rect x="452.98" y="825.68" width="2.08" height="16.32" fill="#2f7bc6"/>
<rect x="457.70" y="831.80" width="2.08" height="10.20" fill="#2f7bc6"/>
<rect x="462.42" y="836.90" width="2.08" height="5.10" fill="#2f7bc6"/>
<rect x="473.54" y="836.90" width="1.60" height="5.10" fill="#2f7bc6"/>
<rect x="489.49" y="836.90" width="1.60" height="5.10" fill="#2f7bc6"/>
<rect x="492.01" y="825.68" width="1.60" height="16.32" fill="#2f7bc6"/>
<rect x="497.04" y="836.90" width="1.60" height="5.10" fill="#2f7bc6"/>
<rect x="499.56" y="836.90" width="1.60" height="5.10" fill="#2f7bc6"/>
<rect x="502.08" y="836.90" width="1.60" height="5.10" fill="#2f7bc6"/>
<rect x="505.43" y="831.80" width="1.60" height="10.20" fill="#2f7bc6"/>
<rect x="508.79" y="836.90" width="1.60" height="5.10" fill="#2f7bc6"/>
</g>
<polyline points="398.00,817.51 398.84,814.94 399.68,812.20 400.52,809.30 401.36,806.24 402.20,803.05 403.04,799.75 403.88,796.36 404.71,792.91 405.55,789.44 406.39,785.98 407.23,782.57 408.07,779.25 408.91,776.06 409.75,773.04 410.59,770.23 411.43,767.68 412.27,765.42 413.11,763.47 413.95,761.88 414.79,760.67 415.63,759.85 416.47,759.43 417.30,759.43 418.14,759.85 418.98,760.67 419.82,761.88 420.66,763.47 421.50,765.42 422.34,767.68 423.18,770.23 424.02,773.04 424.86,776.06 425.70,779.25 426.54,782.57 427.38,785.98 428.22,789.44 429.06,792.91 429.89,796.36 430.73,799.75 431.57,803.05 432.41,806.24 433.25,809.30 434.09,812.20 434.93,814.94 435.77,817.51 436.61,819.89 437.45,822.08 438.29,824.09 439.13,825.92 439.97,827.58 440.81,829.06 441.65,830.38 442.48,831.56 443.32,832.59 444.16,833.49 445.00,834.28 445.84,834.96 446.68,835.54 447.52,836.04 448.36,836.46 449.20,836.82 450.04,837.12 450.88,837.36 451.72,837.57 452.56,837.74 453.40,837.88 454.24,837.99 455.07,838.09 455.91,838.16 456.75,838.22 457.59,838.27 458.43,838.30 459.27,838.33 460.11,838.36 460.95,838.37 461.79,838.39 462.63,838.40 463.47,838.41 464.31,838.41 465.15,838.42 465.99,838.42 466.83,838.42 467.66,838.42 468.50,838.43 469.34,838.43 470.18,838.43 471.02,838.43 471.86,838.43 472.70,838.43 473.54,838.43 474.38,838.43 475.22,838.43 476.06,838.43 476.90,838.43 477.74,838.43 478.58,838.43 479.42,838.43 480.25,838.43 481.09,838.43 481.93,838.43 482.77,838.43 483.61,838.43 484.45,838.43 485.29,838.43 486.13,838.43 486.97,838.43 487.81,838.43 488.65,838.43 489.49,838.43 490.33,838.43 491.17,838.43 492.01,838.43 492.84,838.43 493.68,838.43 494.52,838.43 495.36,838.43 496.20,838.43 497.04,838.43 497.88,838.43 498.72,838.43 499.56,838.43 500.40,838.43 501.24,838.43 502.08,838.43 502.92,838.43 503.76,838.43 504.60,838.43 505.43,838.43 506.27,838.43 507.11,838.43 507.95,838.43 508.79,838.43 509.63,838.43 510.47,838.43 511.31,838.43 512.15,838.43 512.99,838.43 513.83,838.43 514.67,838.43 515.51,838.43 516.35,838.43 517.19,838.43 518.02,838.43 518.86,838.43 519.70,838.43 520.54,838.43 521.38,838.43 522.22,838.43 523.06,838.43 523.90,838.43" fill="none" stroke="#000" stroke-width="1.4"/>
<line x1="416.9" y1="739.8" x2="416.9" y2="842.6" stroke="#f01418" stroke-width="2.4" stroke-dasharray="2.8 1.4 7 1.6 7 1.6 7 1.6 7 1.6 7 1.6 7 1.6 7 1.6 7 1.6 7 1.6 7 1.6 7 1.6 7 1.6 7 1.6"/>
<rect x="398" y="735.3" width="125.89999999999998" height="107.30000000000007" fill="none" stroke="#444" stroke-width="1.2"/>
<text transform="translate(423.3,752.3) scale(1.02,1.045)" font-size="15" text-anchor="start" >0.22 MPa</text>
<text transform="translate(479.7,822.5) scale(1.02,1.045)" font-size="15" text-anchor="start" >F/T 7</text>
<text transform="translate(394.4,745.0) scale(1.02,1.0)" font-size="15" text-anchor="end" >10</text>
<text transform="translate(394.4,795.5) scale(1.02,1.0)" font-size="15" text-anchor="end" >5</text>
<text transform="translate(394.4,845.9) scale(1.02,1.0)" font-size="15" text-anchor="end" >0</text>
<text transform="translate(397.7,857.3) scale(1.02,1.0)" font-size="15" text-anchor="middle" >0</text>
<text transform="translate(438,857.3) scale(1.02,1.0)" font-size="15" text-anchor="middle" >0.5</text>
<text transform="translate(482.2,857.3) scale(1.02,1.0)" font-size="15" text-anchor="middle" >1</text>
<text transform="translate(523.5,857.3) scale(1.02,1.0)" font-size="15" text-anchor="middle" >1.5</text>
<text font-size="15" text-anchor="middle" transform="translate(382.3,797) rotate(-90) scale(1,1.045)">Counts</text>
<text transform="translate(358.5,875) scale(1.02,1.045)" font-size="15" text-anchor="start" >Young’s modulus (MPa)</text>
<text transform="translate(2.2,915.6) scale(1.0,1.02)" font-size="23.5" text-anchor="start" >F</text>
<text transform="translate(58.3,915.5) scale(1.02,1.045)" font-size="15" text-anchor="start" >Total deformation</text>
<text transform="translate(249,915.5) scale(1.02,1.045)" font-size="15" text-anchor="start" >Total deformation</text>
<text transform="translate(483.1,915.5) scale(1.02,1.045)" font-size="15" text-anchor="start" >Stress</text>
<text transform="translate(670,915.3) scale(1.02,1.045)" font-size="15" text-anchor="start" >Stress</text>
<g shape-rendering="crispEdges">
<rect x="29.3" y="944.00" width="7.5" height="7.79" fill="#ff0000"/>
<rect x="29.3" y="951.49" width="7.5" height="7.79" fill="#ffae00"/>
<rect x="29.3" y="958.98" width="7.5" height="7.79" fill="#f2f200"/>
<rect x="29.3" y="966.46" width="7.5" height="7.79" fill="#62ee00"/>
<rect x="29.3" y="973.95" width="7.5" height="7.79" fill="#00ee66"/>
<rect x="29.3" y="981.44" width="7.5" height="7.79" fill="#00f0dc"/>
<rect x="29.3" y="988.92" width="7.5" height="7.79" fill="#12b2ff"/>
<rect x="29.3" y="996.41" width="7.5" height="7.79" fill="#0000ff"/>
</g>
<text transform="translate(12.5,941.8) scale(1.02,1.045)" font-size="15" text-anchor="start" >1.6 nm</text>
<text transform="translate(29,1016.3) scale(1.02,1.0)" font-size="15" text-anchor="start" >0</text>
<g shape-rendering="crispEdges">
<rect x="218.1" y="949.80" width="7.3" height="7.75" fill="#ff0000"/>
<rect x="218.1" y="957.25" width="7.3" height="7.75" fill="#ffae00"/>
<rect x="218.1" y="964.70" width="7.3" height="7.75" fill="#f2f200"/>
<rect x="218.1" y="972.15" width="7.3" height="7.75" fill="#62ee00"/>
<rect x="218.1" y="979.60" width="7.3" height="7.75" fill="#00ee66"/>
<rect x="218.1" y="987.05" width="7.3" height="7.75" fill="#00f0dc"/>
<rect x="218.1" y="994.50" width="7.3" height="7.75" fill="#12b2ff"/>
<rect x="218.1" y="1001.95" width="7.3" height="7.75" fill="#0000ff"/>
</g>
<text transform="translate(201.8,947) scale(1.02,1.045)" font-size="15" text-anchor="start" >0.9 nm</text>
<text transform="translate(218.1,1022) scale(1.02,1.0)" font-size="15" text-anchor="start" >0</text>
<g shape-rendering="crispEdges">
<rect x="398.1" y="949.80" width="6.8" height="7.75" fill="#ff0000"/>
<rect x="398.1" y="957.25" width="6.8" height="7.75" fill="#ffae00"/>
<rect x="398.1" y="964.70" width="6.8" height="7.75" fill="#f2f200"/>
<rect x="398.1" y="972.15" width="6.8" height="7.75" fill="#62ee00"/>
<rect x="398.1" y="979.60" width="6.8" height="7.75" fill="#00ee66"/>
<rect x="398.1" y="987.05" width="6.8" height="7.75" fill="#00f0dc"/>
<rect x="398.1" y="994.50" width="6.8" height="7.75" fill="#12b2ff"/>
<rect x="398.1" y="1001.95" width="6.8" height="7.75" fill="#0000ff"/>
</g>
<text transform="translate(385.3,947) scale(1.02,1.045)" font-size="15" text-anchor="start" >50 Pa</text>
<text transform="translate(383.3,1022.5) scale(1.02,1.045)" font-size="15" text-anchor="start" >-14 Pa</text>
<g shape-rendering="crispEdges">
<rect x="606.5" y="949.70" width="6.8" height="7.74" fill="#ff0000"/>
<rect x="606.5" y="957.14" width="6.8" height="7.74" fill="#ffae00"/>
<rect x="606.5" y="964.58" width="6.8" height="7.74" fill="#f2f200"/>
<rect x="606.5" y="972.01" width="6.8" height="7.74" fill="#62ee00"/>
<rect x="606.5" y="979.45" width="6.8" height="7.74" fill="#00ee66"/>
<rect x="606.5" y="986.89" width="6.8" height="7.74" fill="#00f0dc"/>
<rect x="606.5" y="994.33" width="6.8" height="7.74" fill="#12b2ff"/>
<rect x="606.5" y="1001.76" width="6.8" height="7.74" fill="#0000ff"/>
</g>
<text transform="translate(596.5,946.7) scale(1.02,1.045)" font-size="15" text-anchor="start" >2 Pa</text>
<text transform="translate(594.4,1022.3) scale(1.02,1.045)" font-size="15" text-anchor="start" >-1 Pa</text>
<text transform="translate(14.5,1052) scale(1.02,1.045)" font-size="15" text-anchor="start" >1 μm</text>
<rect x="19.9" y="1057.8" width="18.1" height="3.5" fill="#000"/>
<defs><radialGradient id="rs" cx="0.75" cy="0.2" r="0.8" fx="0.75" fy="0.2"><stop offset="0" stop-color="#ee0000"/><stop offset="0.37" stop-color="#d20000"/><stop offset="0.5" stop-color="#be0000"/><stop offset="0.65" stop-color="#b00000"/><stop offset="0.8" stop-color="#980000"/><stop offset="0.9" stop-color="#7a0000"/><stop offset="1" stop-color="#520000"/></radialGradient><radialGradient id="bs" cx="0.75" cy="0.2" r="0.8" fx="0.75" fy="0.2"><stop offset="0" stop-color="#1630ec"/><stop offset="0.37" stop-color="#1226cc"/><stop offset="0.5" stop-color="#0f1eb6"/><stop offset="0.65" stop-color="#0c1aa6"/><stop offset="0.8" stop-color="#08148c"/><stop offset="0.9" stop-color="#050e6c"/><stop offset="1" stop-color="#020848"/></radialGradient></defs>
<path d="M128.04 972.56 L49.54 1016.46 M114.96 972.56 L193.46 1016.46 M134.58 976.22 L56.08 1020.12 M108.42 976.22 L186.92 1020.12 M141.12 979.88 L62.62 1023.77 M101.88 979.88 L180.38 1023.77 M147.67 983.53 L69.17 1027.43 M95.33 983.53 L173.83 1027.43 M154.21 987.19 L75.71 1031.09 M88.79 987.19 L167.29 1031.09 M160.75 990.85 L82.25 1034.75 M82.25 990.85 L160.75 1034.75 M167.29 994.51 L88.79 1038.41 M75.71 994.51 L154.21 1038.41 M173.83 998.17 L95.33 1042.07 M69.17 998.17 L147.67 1042.07 M180.38 1001.82 L101.88 1045.72 M62.62 1001.82 L141.12 1045.72 M186.92 1005.48 L108.42 1049.38 M56.08 1005.48 L134.58 1049.38 M193.46 1009.14 L114.96 1053.04 M49.54 1009.14 L128.04 1053.04" stroke="#000090" stroke-width="4.4" stroke-linecap="round" fill="none"/>
<path d="M126.91 973.19 L50.68 1015.82 M116.09 973.19 L192.32 1015.82 M133.45 976.85 L57.22 1019.48 M109.55 976.85 L185.78 1019.48 M139.99 980.51 L63.76 1023.14 M103.01 980.51 L179.24 1023.14 M146.53 984.17 L70.30 1026.80 M96.47 984.17 L172.70 1026.80 M153.07 987.83 L76.84 1030.46 M89.93 987.83 L166.16 1030.46 M159.62 991.48 L83.38 1034.12 M83.38 991.48 L159.62 1034.12 M166.16 995.14 L89.93 1037.77 M76.84 995.14 L153.07 1037.77 M172.70 998.80 L96.47 1041.43 M70.30 998.80 L146.53 1041.43 M179.24 1002.46 L103.01 1045.09 M63.76 1002.46 L139.99 1045.09 M185.78 1006.12 L109.55 1048.75 M57.22 1006.12 L133.45 1048.75 M192.32 1009.78 L116.09 1052.41 M50.68 1009.78 L126.91 1052.41" stroke="#0000ee" stroke-width="2.73" fill="none"/>
<circle cx="121.5" cy="973.2" r="45.8" fill="url(#rs)"/>
<path d="M512.52 973.03 L434.22 1017.83 M499.48 973.03 L577.77 1017.83 M519.05 976.77 L440.75 1021.57 M492.95 976.77 L571.25 1021.57 M525.58 980.50 L447.28 1025.30 M486.43 980.50 L564.72 1025.30 M532.10 984.23 L453.80 1029.03 M479.90 984.23 L558.20 1029.03 M538.62 987.97 L460.32 1032.77 M473.38 987.97 L551.67 1032.77 M545.15 991.70 L466.85 1036.50 M466.85 991.70 L545.15 1036.50 M551.67 995.43 L473.37 1040.23 M460.32 995.43 L538.62 1040.23 M558.20 999.17 L479.90 1043.97 M453.80 999.17 L532.10 1043.97 M564.72 1002.90 L486.42 1047.70 M447.27 1002.90 L525.57 1047.70 M571.25 1006.63 L492.95 1051.43 M440.75 1006.63 L519.05 1051.43 M577.77 1010.37 L499.47 1055.17 M434.23 1010.37 L512.52 1055.17" stroke="#061890" stroke-width="4.4" stroke-linecap="round" fill="none"/>
<path d="M511.40 973.68 L435.35 1017.19 M500.60 973.68 L576.65 1017.19 M517.92 977.41 L441.88 1020.92 M494.08 977.41 L570.12 1020.92 M524.45 981.15 L448.40 1024.65 M487.55 981.15 L563.60 1024.65 M530.97 984.88 L454.93 1028.39 M481.03 984.88 L557.07 1028.39 M537.50 988.61 L461.45 1032.12 M474.50 988.61 L550.55 1032.12 M544.02 992.35 L467.98 1035.85 M467.98 992.35 L544.02 1035.85 M550.55 996.08 L474.50 1039.59 M461.45 996.08 L537.50 1039.59 M557.07 999.81 L481.03 1043.32 M454.93 999.81 L530.97 1043.32 M563.60 1003.55 L487.55 1047.05 M448.40 1003.55 L524.45 1047.05 M570.12 1007.28 L494.08 1050.79 M441.88 1007.28 L517.92 1050.79 M576.65 1011.01 L500.60 1054.52 M435.35 1011.01 L511.40 1054.52" stroke="#1830e8" stroke-width="2.73" fill="none"/>
<circle cx="505.9" cy="975.3" r="46.1" fill="url(#bs)"/>
<path d="M265.50 927.4 V1038.9 M274.80 927.4 V1038.9 M284.10 927.4 V1038.9 M293.40 927.4 V1038.9 M302.70 927.4 V1038.9 M312.00 927.4 V1038.9 M321.30 927.4 V1038.9 M330.60 927.4 V1038.9 M339.90 927.4 V1038.9 M349.20 927.4 V1038.9 M358.50 927.4 V1038.9 M256.2 936.70 H367.8 M256.2 946.00 H367.8 M256.2 955.30 H367.8 M256.2 964.60 H367.8 M256.2 973.90 H367.8 M256.2 983.20 H367.8 M256.2 992.50 H367.8 M256.2 1001.80 H367.8 M256.2 1011.10 H367.8 M256.2 1020.40 H367.8 M256.2 1029.70 H367.8" stroke="#00009a" stroke-width="4.6" fill="none"/>
<path d="M265.50 927.4 V1038.9 M274.80 927.4 V1038.9 M284.10 927.4 V1038.9 M293.40 927.4 V1038.9 M302.70 927.4 V1038.9 M312.00 927.4 V1038.9 M321.30 927.4 V1038.9 M330.60 927.4 V1038.9 M339.90 927.4 V1038.9 M349.20 927.4 V1038.9 M358.50 927.4 V1038.9 M256.2 936.70 H367.8 M256.2 946.00 H367.8 M256.2 955.30 H367.8 M256.2 964.60 H367.8 M256.2 973.90 H367.8 M256.2 983.20 H367.8 M256.2 992.50 H367.8 M256.2 1001.80 H367.8 M256.2 1011.10 H367.8 M256.2 1020.40 H367.8 M256.2 1029.70 H367.8" stroke="#0000c0" stroke-width="2.76" fill="none"/>
<defs><clipPath id="cl2"><rect x="263.20" y="927.4" width="4.6" height="111.50"/><rect x="272.50" y="927.4" width="4.6" height="111.50"/><rect x="281.80" y="927.4" width="4.6" height="111.50"/><rect x="291.10" y="927.4" width="4.6" height="111.50"/><rect x="300.40" y="927.4" width="4.6" height="111.50"/><rect x="309.70" y="927.4" width="4.6" height="111.50"/><rect x="319.00" y="927.4" width="4.6" height="111.50"/><rect x="328.30" y="927.4" width="4.6" height="111.50"/><rect x="337.60" y="927.4" width="4.6" height="111.50"/><rect x="346.90" y="927.4" width="4.6" height="111.50"/><rect x="356.20" y="927.4" width="4.6" height="111.50"/><rect x="256.2" y="934.40" width="111.60" height="4.6"/><rect x="256.2" y="943.70" width="111.60" height="4.6"/><rect x="256.2" y="953.00" width="111.60" height="4.6"/><rect x="256.2" y="962.30" width="111.60" height="4.6"/><rect x="256.2" y="971.60" width="111.60" height="4.6"/><rect x="256.2" y="980.90" width="111.60" height="4.6"/><rect x="256.2" y="990.20" width="111.60" height="4.6"/><rect x="256.2" y="999.50" width="111.60" height="4.6"/><rect x="256.2" y="1008.80" width="111.60" height="4.6"/><rect x="256.2" y="1018.10" width="111.60" height="4.6"/><rect x="256.2" y="1027.40" width="111.60" height="4.6"/></clipPath></defs>
<defs><radialGradient id="halo2" cx="0.5" cy="0.5" r="0.5"><stop offset="0" stop-color="#40d060"/><stop offset="0.35" stop-color="#20c0b0"/><stop offset="0.65" stop-color="#1aa0d4" stop-opacity="0.9"/><stop offset="0.85" stop-color="#1050d0" stop-opacity="0.5"/><stop offset="1" stop-color="#0000c0" stop-opacity="0"/></radialGradient></defs>
<g clip-path="url(#cl2)"><circle cx="312" cy="983.4" r="13" fill="url(#halo2)"/></g>
<path d="M304 983.4 Q312 980.6 320 983.4 Q312 986.2 304 983.4 Z M312 975.2 Q309.2 983.4 312 991.8 Q314.8 983.4 312 975.2 Z" fill="#e0e020" stroke="#80d030" stroke-width="1.2"/><path d="M304.8 983.4 Q312 981.4 319.4 983.4 Q312 985.4 304.8 983.4 Z M312 976 Q310 983.4 312 991 Q314 983.4 312 976 Z" fill="#c80000" stroke="#c80000" stroke-width="1.2"/><circle cx="312" cy="983.4" r="2.2" fill="#c00000"/>
<path d="M646.45 927.3 V1038.7 M655.75 927.3 V1038.7 M665.05 927.3 V1038.7 M674.35 927.3 V1038.7 M683.65 927.3 V1038.7 M692.95 927.3 V1038.7 M702.25 927.3 V1038.7 M711.55 927.3 V1038.7 M720.85 927.3 V1038.7 M730.15 927.3 V1038.7 M739.45 927.3 V1038.7 M637.5 936.25 H748.4 M637.5 945.55 H748.4 M637.5 954.85 H748.4 M637.5 964.15 H748.4 M637.5 973.45 H748.4 M637.5 982.75 H748.4 M637.5 992.05 H748.4 M637.5 1001.35 H748.4 M637.5 1010.65 H748.4 M637.5 1019.95 H748.4 M637.5 1029.25 H748.4" stroke="#1468a6" stroke-width="4.6" fill="none"/>
<path d="M646.45 927.3 V1038.7 M655.75 927.3 V1038.7 M665.05 927.3 V1038.7 M674.35 927.3 V1038.7 M683.65 927.3 V1038.7 M692.95 927.3 V1038.7 M702.25 927.3 V1038.7 M711.55 927.3 V1038.7 M720.85 927.3 V1038.7 M730.15 927.3 V1038.7 M739.45 927.3 V1038.7 M637.5 936.25 H748.4 M637.5 945.55 H748.4 M637.5 954.85 H748.4 M637.5 964.15 H748.4 M637.5 973.45 H748.4 M637.5 982.75 H748.4 M637.5 992.05 H748.4 M637.5 1001.35 H748.4 M637.5 1010.65 H748.4 M637.5 1019.95 H748.4 M637.5 1029.25 H748.4" stroke="#228ccc" stroke-width="2.76" fill="none"/>
<defs><clipPath id="cl4"><rect x="644.15" y="927.3" width="4.6" height="111.40"/><rect x="653.45" y="927.3" width="4.6" height="111.40"/><rect x="662.75" y="927.3" width="4.6" height="111.40"/><rect x="672.05" y="927.3" width="4.6" height="111.40"/><rect x="681.35" y="927.3" width="4.6" height="111.40"/><rect x="690.65" y="927.3" width="4.6" height="111.40"/><rect x="699.95" y="927.3" width="4.6" height="111.40"/><rect x="709.25" y="927.3" width="4.6" height="111.40"/><rect x="718.55" y="927.3" width="4.6" height="111.40"/><rect x="727.85" y="927.3" width="4.6" height="111.40"/><rect x="737.15" y="927.3" width="4.6" height="111.40"/><rect x="637.5" y="933.95" width="110.90" height="4.6"/><rect x="637.5" y="943.25" width="110.90" height="4.6"/><rect x="637.5" y="952.55" width="110.90" height="4.6"/><rect x="637.5" y="961.85" width="110.90" height="4.6"/><rect x="637.5" y="971.15" width="110.90" height="4.6"/><rect x="637.5" y="980.45" width="110.90" height="4.6"/><rect x="637.5" y="989.75" width="110.90" height="4.6"/><rect x="637.5" y="999.05" width="110.90" height="4.6"/><rect x="637.5" y="1008.35" width="110.90" height="4.6"/><rect x="637.5" y="1017.65" width="110.90" height="4.6"/><rect x="637.5" y="1026.95" width="110.90" height="4.6"/></clipPath></defs>
<g clip-path="url(#cl4)"><path d="M670 982.6 H714" stroke="#0000c8" stroke-width="4.6" fill="none"/><path d="M683 972 L692 970.5 L702 972.5 L704.5 982.6 L701.5 992 L693 995 L684 993 L681 983 Z" fill="none" stroke="#0000c8" stroke-width="3.2"/><circle cx="692.9" cy="982.8" r="7" fill="#30c0b0"/></g>
<path d="M686 982.8 H700 M692.9 976 V989.6" stroke="#60d030" stroke-width="3.6" fill="none"/><path d="M688.5 982.8 H697.3 M692.9 978.4 V987.2" stroke="#f0b000" stroke-width="2.6" fill="none"/><circle cx="692.9" cy="982.8" r="2.3" fill="#1858d0" stroke="#e00000" stroke-width="1.5"/>
</svg></body></html>
